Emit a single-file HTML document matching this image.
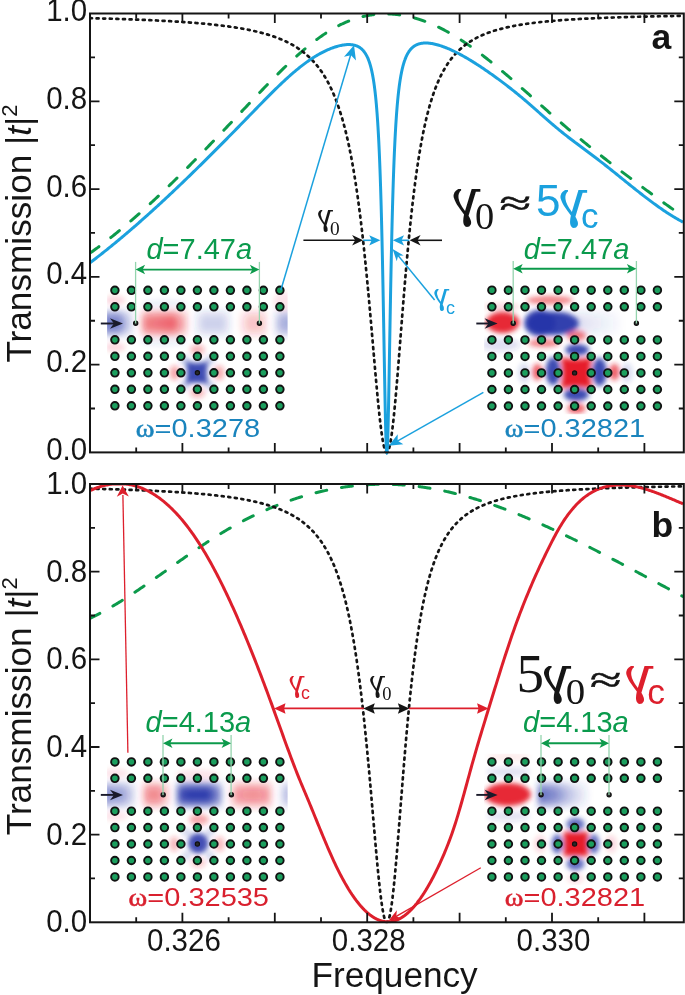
<!DOCTYPE html>
<html><head><meta charset="utf-8"><title>Transmission spectra</title>
<style>
html,body{margin:0;padding:0;background:#fff;}
svg{display:block;}
.tl{font-family:"Liberation Sans",Arial,sans-serif;font-size:29.5px;fill:#151515;}
.ax{font-family:"Liberation Sans",Arial,sans-serif;font-size:35.2px;fill:#151515;}
.pl{font-family:"Liberation Sans",Arial,sans-serif;font-weight:bold;font-size:35.5px;fill:#151515;}
.sf{font-family:"Liberation Serif","Times New Roman",serif;}
.ss{font-family:"Liberation Sans",Arial,sans-serif;}
.gl{font-family:"Liberation Sans",Arial,sans-serif;fill:#0a9a4c;}
.om{font-family:"Liberation Sans",Arial,sans-serif;}
.gm{font-family:"DejaVu Serif",serif;}
.rod circle{fill:#1b9f5e;stroke:#121212;stroke-width:1.9;}
.sd{fill:#2a2a2a;stroke:#101010;stroke-width:1.2;}
</style></head>
<body>
<svg width="685" height="995" viewBox="0 0 685 995">
<defs>
<filter id="bl" x="-20%" y="-20%" width="140%" height="140%"><feGaussianBlur stdDeviation="3.2"/></filter>
<clipPath id="cpa"><rect x="90" y="13.5" width="593.8" height="441.5"/></clipPath>
<clipPath id="cpb"><rect x="90" y="484" width="593.8" height="439.2"/></clipPath>
</defs>
<rect width="685" height="995" fill="#fff"/>

<!-- insets -->
<clipPath id="cal"><rect x="107.1" y="282.1" width="180.5" height="132.0"/></clipPath><filter id="fal" x="-30%" y="-30%" width="160%" height="160%"><feGaussianBlur stdDeviation="2.40"/></filter><g clip-path="url(#cal)"><g filter="url(#fal)"><linearGradient id="gal241" gradientUnits="userSpaceOnUse" x1="101.7" y1="0" x2="296.4" y2="0"><stop offset="0.0000" stop-color="rgb(40,55,170)" stop-opacity="0.650"/><stop offset="0.0847" stop-color="rgb(40,55,170)" stop-opacity="0.650"/><stop offset="0.1356" stop-color="rgb(40,55,170)" stop-opacity="0.260"/><stop offset="0.1780" stop-color="rgb(40,55,170)" stop-opacity="0.000"/><stop offset="0.1864" stop-color="rgb(230,30,42)" stop-opacity="0.000"/><stop offset="0.2288" stop-color="rgb(230,30,42)" stop-opacity="0.585"/><stop offset="0.3644" stop-color="rgb(230,30,42)" stop-opacity="0.715"/><stop offset="0.4322" stop-color="rgb(230,30,42)" stop-opacity="0.260"/><stop offset="0.4534" stop-color="rgb(230,30,42)" stop-opacity="0.000"/><stop offset="0.4619" stop-color="rgb(40,55,170)" stop-opacity="0.000"/><stop offset="0.5254" stop-color="rgb(40,55,170)" stop-opacity="0.234"/><stop offset="0.6186" stop-color="rgb(40,55,170)" stop-opacity="0.234"/><stop offset="0.6780" stop-color="rgb(40,55,170)" stop-opacity="0.000"/><stop offset="0.6949" stop-color="rgb(230,30,42)" stop-opacity="0.000"/><stop offset="0.7627" stop-color="rgb(230,30,42)" stop-opacity="0.286"/><stop offset="0.8220" stop-color="rgb(230,30,42)" stop-opacity="0.260"/><stop offset="0.8602" stop-color="rgb(230,30,42)" stop-opacity="0.000"/><stop offset="0.8729" stop-color="rgb(40,55,170)" stop-opacity="0.000"/><stop offset="0.9237" stop-color="rgb(40,55,170)" stop-opacity="0.390"/><stop offset="1.0000" stop-color="rgb(40,55,170)" stop-opacity="0.455"/></linearGradient><linearGradient id="vgal241" gradientUnits="userSpaceOnUse" x1="0" y1="307.6" x2="0" y2="339.0"><stop offset="0.000" stop-color="#fff" stop-opacity="0.000"/><stop offset="0.150" stop-color="#fff" stop-opacity="0.450"/><stop offset="0.300" stop-color="#fff" stop-opacity="0.850"/><stop offset="0.500" stop-color="#fff" stop-opacity="1.000"/><stop offset="0.700" stop-color="#fff" stop-opacity="0.850"/><stop offset="0.850" stop-color="#fff" stop-opacity="0.450"/><stop offset="1.000" stop-color="#fff" stop-opacity="0.000"/></linearGradient><mask id="mgal241" maskUnits="userSpaceOnUse" x="101.7" y="307.6" width="194.7" height="31.4"><rect x="101.7" y="307.6" width="194.7" height="31.4" fill="url(#vgal241)"/></mask><rect x="101.7" y="307.6" width="194.7" height="31.4" fill="url(#gal241)" mask="url(#mgal241)"/><ellipse cx="114.9" cy="300.2" rx="10.7" ry="4.6" fill="rgba(230,30,42,0.150)"/><ellipse cx="114.9" cy="347.2" rx="10.7" ry="4.6" fill="rgba(230,30,42,0.150)"/><ellipse cx="163.6" cy="304.3" rx="23.1" ry="5.0" fill="rgba(40,55,170,0.070)"/><ellipse cx="163.6" cy="341.4" rx="23.1" ry="5.0" fill="rgba(40,55,170,0.070)"/><ellipse cx="283.2" cy="301.9" rx="9.9" ry="9.9" fill="rgba(230,30,42,0.100)"/><ellipse cx="174.6" cy="372.8" rx="5.0" ry="7.4" fill="rgba(230,30,42,0.380)"/><ellipse cx="219.2" cy="372.8" rx="5.0" ry="7.4" fill="rgba(230,30,42,0.360)"/><ellipse cx="197.4" cy="349.7" rx="7.4" ry="5.0" fill="rgba(230,30,42,0.320)"/><ellipse cx="197.4" cy="392.9" rx="7.4" ry="5.0" fill="rgba(230,30,42,0.320)"/><ellipse cx="185.0" cy="360.4" rx="5.0" ry="5.0" fill="rgba(40,55,170,0.220)"/><ellipse cx="209.8" cy="360.4" rx="5.0" ry="5.0" fill="rgba(40,55,170,0.220)"/><ellipse cx="185.0" cy="385.2" rx="5.0" ry="5.0" fill="rgba(40,55,170,0.220)"/><ellipse cx="209.8" cy="385.2" rx="5.0" ry="5.0" fill="rgba(40,55,170,0.220)"/><path d="M185.7,361.6Q196.9,364.2 208.1,361.6Q205.5,372.8 208.1,384.0Q196.9,381.4 185.7,384.0Q188.3,372.8 185.7,361.6Z" fill="rgba(40,55,170,0.900)"/></g></g><g class="rod"><circle cx="114.9" cy="290.3" r="3.78"/><circle cx="131.4" cy="290.3" r="3.78"/><circle cx="147.9" cy="290.3" r="3.78"/><circle cx="164.4" cy="290.3" r="3.78"/><circle cx="180.9" cy="290.3" r="3.78"/><circle cx="197.4" cy="290.3" r="3.78"/><circle cx="213.9" cy="290.3" r="3.78"/><circle cx="230.4" cy="290.3" r="3.78"/><circle cx="246.9" cy="290.3" r="3.78"/><circle cx="263.4" cy="290.3" r="3.78"/><circle cx="279.9" cy="290.3" r="3.78"/><circle cx="114.9" cy="306.8" r="3.78"/><circle cx="131.4" cy="306.8" r="3.78"/><circle cx="147.9" cy="306.8" r="3.78"/><circle cx="164.4" cy="306.8" r="3.78"/><circle cx="180.9" cy="306.8" r="3.78"/><circle cx="197.4" cy="306.8" r="3.78"/><circle cx="213.9" cy="306.8" r="3.78"/><circle cx="230.4" cy="306.8" r="3.78"/><circle cx="246.9" cy="306.8" r="3.78"/><circle cx="263.4" cy="306.8" r="3.78"/><circle cx="279.9" cy="306.8" r="3.78"/><circle cx="114.9" cy="339.8" r="3.78"/><circle cx="131.4" cy="339.8" r="3.78"/><circle cx="147.9" cy="339.8" r="3.78"/><circle cx="164.4" cy="339.8" r="3.78"/><circle cx="180.9" cy="339.8" r="3.78"/><circle cx="197.4" cy="339.8" r="3.78"/><circle cx="213.9" cy="339.8" r="3.78"/><circle cx="230.4" cy="339.8" r="3.78"/><circle cx="246.9" cy="339.8" r="3.78"/><circle cx="263.4" cy="339.8" r="3.78"/><circle cx="279.9" cy="339.8" r="3.78"/><circle cx="114.9" cy="356.3" r="3.78"/><circle cx="131.4" cy="356.3" r="3.78"/><circle cx="147.9" cy="356.3" r="3.78"/><circle cx="164.4" cy="356.3" r="3.78"/><circle cx="180.9" cy="356.3" r="3.78"/><circle cx="197.4" cy="356.3" r="3.78"/><circle cx="213.9" cy="356.3" r="3.78"/><circle cx="230.4" cy="356.3" r="3.78"/><circle cx="246.9" cy="356.3" r="3.78"/><circle cx="263.4" cy="356.3" r="3.78"/><circle cx="279.9" cy="356.3" r="3.78"/><circle cx="114.9" cy="372.8" r="3.78"/><circle cx="131.4" cy="372.8" r="3.78"/><circle cx="147.9" cy="372.8" r="3.78"/><circle cx="164.4" cy="372.8" r="3.78"/><circle cx="180.9" cy="372.8" r="3.78"/><circle cx="213.9" cy="372.8" r="3.78"/><circle cx="230.4" cy="372.8" r="3.78"/><circle cx="246.9" cy="372.8" r="3.78"/><circle cx="263.4" cy="372.8" r="3.78"/><circle cx="279.9" cy="372.8" r="3.78"/><circle cx="114.9" cy="389.3" r="3.78"/><circle cx="131.4" cy="389.3" r="3.78"/><circle cx="147.9" cy="389.3" r="3.78"/><circle cx="164.4" cy="389.3" r="3.78"/><circle cx="180.9" cy="389.3" r="3.78"/><circle cx="197.4" cy="389.3" r="3.78"/><circle cx="213.9" cy="389.3" r="3.78"/><circle cx="230.4" cy="389.3" r="3.78"/><circle cx="246.9" cy="389.3" r="3.78"/><circle cx="263.4" cy="389.3" r="3.78"/><circle cx="279.9" cy="389.3" r="3.78"/><circle cx="114.9" cy="405.8" r="3.78"/><circle cx="131.4" cy="405.8" r="3.78"/><circle cx="147.9" cy="405.8" r="3.78"/><circle cx="164.4" cy="405.8" r="3.78"/><circle cx="180.9" cy="405.8" r="3.78"/><circle cx="197.4" cy="405.8" r="3.78"/><circle cx="213.9" cy="405.8" r="3.78"/><circle cx="230.4" cy="405.8" r="3.78"/><circle cx="246.9" cy="405.8" r="3.78"/><circle cx="263.4" cy="405.8" r="3.78"/><circle cx="279.9" cy="405.8" r="3.78"/></g><circle cx="135.7" cy="323.3" r="2.1" class="sd"/><circle cx="259.4" cy="323.3" r="2.1" class="sd"/><circle cx="197.4" cy="372.8" r="2.1" class="sd"/><clipPath id="car"><rect x="484.1" y="281.9" width="181.1" height="132.4"/></clipPath><filter id="far" x="-30%" y="-30%" width="160%" height="160%"><feGaussianBlur stdDeviation="2.40"/></filter><g clip-path="url(#car)"><g filter="url(#far)"><ellipse cx="502.7" cy="322.5" rx="16.6" ry="10.6" fill="rgba(230,30,42,0.950)"/><ellipse cx="553.1" cy="323.3" rx="25.7" ry="11.9" fill="rgba(40,55,170,0.950)"/><ellipse cx="539.9" cy="323.0" rx="15.7" ry="13.2" fill="rgba(40,55,170,0.950)"/><linearGradient id="gar484" gradientUnits="userSpaceOnUse" x1="568.0" y1="0" x2="624.3" y2="0"><stop offset="0.0000" stop-color="rgb(40,55,170)" stop-opacity="0.000"/><stop offset="0.2059" stop-color="rgb(40,55,170)" stop-opacity="0.156"/><stop offset="0.7059" stop-color="rgb(40,55,170)" stop-opacity="0.065"/><stop offset="1.0000" stop-color="rgb(40,55,170)" stop-opacity="0.000"/></linearGradient><linearGradient id="vgar484" gradientUnits="userSpaceOnUse" x1="0" y1="307.6" x2="0" y2="339.0"><stop offset="0.000" stop-color="#fff" stop-opacity="0.000"/><stop offset="0.150" stop-color="#fff" stop-opacity="0.450"/><stop offset="0.300" stop-color="#fff" stop-opacity="0.850"/><stop offset="0.500" stop-color="#fff" stop-opacity="1.000"/><stop offset="0.700" stop-color="#fff" stop-opacity="0.850"/><stop offset="0.850" stop-color="#fff" stop-opacity="0.450"/><stop offset="1.000" stop-color="#fff" stop-opacity="0.000"/></linearGradient><mask id="mgar484" maskUnits="userSpaceOnUse" x="568.0" y="307.6" width="56.3" height="31.4"><rect x="568.0" y="307.6" width="56.3" height="31.4" fill="url(#vgar484)"/></mask><rect x="568.0" y="307.6" width="56.3" height="31.4" fill="url(#gar484)" mask="url(#mgar484)"/><ellipse cx="501.8" cy="306.8" rx="18.2" ry="4.1" fill="rgba(230,30,42,0.150)"/><ellipse cx="500.2" cy="344.8" rx="19.9" ry="6.6" fill="rgba(40,55,170,0.150)"/><ellipse cx="549.8" cy="300.1" rx="23.2" ry="4.3" fill="rgba(230,30,42,0.550)"/><ellipse cx="544.0" cy="343.2" rx="15.7" ry="4.1" fill="rgba(230,30,42,0.550)"/><ellipse cx="576.3" cy="335.7" rx="9.9" ry="5.0" fill="rgba(230,30,42,0.600)"/><ellipse cx="537.4" cy="372.1" rx="5.0" ry="8.3" fill="rgba(230,30,42,0.700)"/><ellipse cx="614.4" cy="372.1" rx="5.0" ry="8.3" fill="rgba(230,30,42,0.700)"/><ellipse cx="576.3" cy="408.5" rx="9.1" ry="5.0" fill="rgba(230,30,42,0.700)"/><ellipse cx="553.1" cy="371.3" rx="7.4" ry="14.1" fill="rgba(40,55,170,0.900)"/><ellipse cx="599.5" cy="372.1" rx="7.4" ry="14.1" fill="rgba(40,55,170,0.900)"/><ellipse cx="577.1" cy="349.8" rx="11.9" ry="5.8" fill="rgba(40,55,170,0.900)"/><ellipse cx="576.3" cy="394.5" rx="12.4" ry="6.6" fill="rgba(40,55,170,0.900)"/><ellipse cx="524.2" cy="372.9" rx="5.8" ry="9.9" fill="rgba(40,55,170,0.180)"/><ellipse cx="626.8" cy="372.9" rx="5.8" ry="9.9" fill="rgba(40,55,170,0.180)"/><path d="M560.6,357.2Q576.3,361.4 592.0,357.2Q587.9,372.9 592.0,388.7Q576.3,384.5 560.6,388.7Q564.7,372.9 560.6,357.2Z" fill="rgba(230,30,42,1.000)"/></g></g><g class="rod"><circle cx="491.9" cy="290.2" r="3.78"/><circle cx="508.4" cy="290.2" r="3.78"/><circle cx="525.0" cy="290.2" r="3.78"/><circle cx="541.5" cy="290.2" r="3.78"/><circle cx="558.1" cy="290.2" r="3.78"/><circle cx="574.6" cy="290.2" r="3.78"/><circle cx="591.2" cy="290.2" r="3.78"/><circle cx="607.8" cy="290.2" r="3.78"/><circle cx="624.3" cy="290.2" r="3.78"/><circle cx="640.9" cy="290.2" r="3.78"/><circle cx="657.4" cy="290.2" r="3.78"/><circle cx="491.9" cy="306.8" r="3.78"/><circle cx="508.4" cy="306.8" r="3.78"/><circle cx="525.0" cy="306.8" r="3.78"/><circle cx="541.5" cy="306.8" r="3.78"/><circle cx="558.1" cy="306.8" r="3.78"/><circle cx="574.6" cy="306.8" r="3.78"/><circle cx="591.2" cy="306.8" r="3.78"/><circle cx="607.8" cy="306.8" r="3.78"/><circle cx="624.3" cy="306.8" r="3.78"/><circle cx="640.9" cy="306.8" r="3.78"/><circle cx="657.4" cy="306.8" r="3.78"/><circle cx="491.9" cy="339.9" r="3.78"/><circle cx="508.4" cy="339.9" r="3.78"/><circle cx="525.0" cy="339.9" r="3.78"/><circle cx="541.5" cy="339.9" r="3.78"/><circle cx="558.1" cy="339.9" r="3.78"/><circle cx="574.6" cy="339.9" r="3.78"/><circle cx="591.2" cy="339.9" r="3.78"/><circle cx="607.8" cy="339.9" r="3.78"/><circle cx="624.3" cy="339.9" r="3.78"/><circle cx="640.9" cy="339.9" r="3.78"/><circle cx="657.4" cy="339.9" r="3.78"/><circle cx="491.9" cy="356.4" r="3.78"/><circle cx="508.4" cy="356.4" r="3.78"/><circle cx="525.0" cy="356.4" r="3.78"/><circle cx="541.5" cy="356.4" r="3.78"/><circle cx="558.1" cy="356.4" r="3.78"/><circle cx="574.6" cy="356.4" r="3.78"/><circle cx="591.2" cy="356.4" r="3.78"/><circle cx="607.8" cy="356.4" r="3.78"/><circle cx="624.3" cy="356.4" r="3.78"/><circle cx="640.9" cy="356.4" r="3.78"/><circle cx="657.4" cy="356.4" r="3.78"/><circle cx="491.9" cy="372.9" r="3.78"/><circle cx="508.4" cy="372.9" r="3.78"/><circle cx="525.0" cy="372.9" r="3.78"/><circle cx="541.5" cy="372.9" r="3.78"/><circle cx="558.1" cy="372.9" r="3.78"/><circle cx="591.2" cy="372.9" r="3.78"/><circle cx="607.8" cy="372.9" r="3.78"/><circle cx="624.3" cy="372.9" r="3.78"/><circle cx="640.9" cy="372.9" r="3.78"/><circle cx="657.4" cy="372.9" r="3.78"/><circle cx="491.9" cy="389.5" r="3.78"/><circle cx="508.4" cy="389.5" r="3.78"/><circle cx="525.0" cy="389.5" r="3.78"/><circle cx="541.5" cy="389.5" r="3.78"/><circle cx="558.1" cy="389.5" r="3.78"/><circle cx="574.6" cy="389.5" r="3.78"/><circle cx="591.2" cy="389.5" r="3.78"/><circle cx="607.8" cy="389.5" r="3.78"/><circle cx="624.3" cy="389.5" r="3.78"/><circle cx="640.9" cy="389.5" r="3.78"/><circle cx="657.4" cy="389.5" r="3.78"/><circle cx="491.9" cy="406.1" r="3.78"/><circle cx="508.4" cy="406.1" r="3.78"/><circle cx="525.0" cy="406.1" r="3.78"/><circle cx="541.5" cy="406.1" r="3.78"/><circle cx="558.1" cy="406.1" r="3.78"/><circle cx="574.6" cy="406.1" r="3.78"/><circle cx="591.2" cy="406.1" r="3.78"/><circle cx="607.8" cy="406.1" r="3.78"/><circle cx="624.3" cy="406.1" r="3.78"/><circle cx="640.9" cy="406.1" r="3.78"/><circle cx="657.4" cy="406.1" r="3.78"/></g><circle cx="513.2" cy="323.3" r="2.1" class="sd"/><circle cx="636.4" cy="323.3" r="2.1" class="sd"/><circle cx="574.6" cy="372.9" r="2.1" class="sd"/><clipPath id="cbl"><rect x="107.1" y="753.7" width="180.5" height="131.4"/></clipPath><filter id="fbl" x="-30%" y="-30%" width="160%" height="160%"><feGaussianBlur stdDeviation="2.40"/></filter><g clip-path="url(#cbl)"><g filter="url(#fbl)"><linearGradient id="gbl241" gradientUnits="userSpaceOnUse" x1="101.7" y1="0" x2="296.4" y2="0"><stop offset="0.0000" stop-color="rgb(40,55,170)" stop-opacity="0.546"/><stop offset="0.1102" stop-color="rgb(40,55,170)" stop-opacity="0.455"/><stop offset="0.1695" stop-color="rgb(40,55,170)" stop-opacity="0.130"/><stop offset="0.1864" stop-color="rgb(40,55,170)" stop-opacity="0.000"/><stop offset="0.1949" stop-color="rgb(230,30,42)" stop-opacity="0.000"/><stop offset="0.2373" stop-color="rgb(230,30,42)" stop-opacity="0.520"/><stop offset="0.2881" stop-color="rgb(230,30,42)" stop-opacity="0.546"/><stop offset="0.3305" stop-color="rgb(230,30,42)" stop-opacity="0.260"/><stop offset="0.3602" stop-color="rgb(230,30,42)" stop-opacity="0.000"/><stop offset="0.3686" stop-color="rgb(40,55,170)" stop-opacity="0.000"/><stop offset="0.4068" stop-color="rgb(40,55,170)" stop-opacity="0.910"/><stop offset="0.4492" stop-color="rgb(40,55,170)" stop-opacity="1.000"/><stop offset="0.5424" stop-color="rgb(40,55,170)" stop-opacity="1.000"/><stop offset="0.5932" stop-color="rgb(40,55,170)" stop-opacity="0.650"/><stop offset="0.6356" stop-color="rgb(40,55,170)" stop-opacity="0.000"/><stop offset="0.6483" stop-color="rgb(230,30,42)" stop-opacity="0.000"/><stop offset="0.6949" stop-color="rgb(230,30,42)" stop-opacity="0.455"/><stop offset="0.7797" stop-color="rgb(230,30,42)" stop-opacity="0.520"/><stop offset="0.8475" stop-color="rgb(230,30,42)" stop-opacity="0.455"/><stop offset="0.8898" stop-color="rgb(230,30,42)" stop-opacity="0.000"/><stop offset="0.9025" stop-color="rgb(40,55,170)" stop-opacity="0.000"/><stop offset="0.9492" stop-color="rgb(40,55,170)" stop-opacity="0.325"/><stop offset="1.0000" stop-color="rgb(40,55,170)" stop-opacity="0.325"/></linearGradient><linearGradient id="vgbl241" gradientUnits="userSpaceOnUse" x1="0" y1="779.2" x2="0" y2="810.4"><stop offset="0.000" stop-color="#fff" stop-opacity="0.000"/><stop offset="0.150" stop-color="#fff" stop-opacity="0.450"/><stop offset="0.300" stop-color="#fff" stop-opacity="0.850"/><stop offset="0.500" stop-color="#fff" stop-opacity="1.000"/><stop offset="0.700" stop-color="#fff" stop-opacity="0.850"/><stop offset="0.850" stop-color="#fff" stop-opacity="0.450"/><stop offset="1.000" stop-color="#fff" stop-opacity="0.000"/></linearGradient><mask id="mgbl241" maskUnits="userSpaceOnUse" x="101.7" y="779.2" width="194.7" height="31.2"><rect x="101.7" y="779.2" width="194.7" height="31.2" fill="url(#vgbl241)"/></mask><rect x="101.7" y="779.2" width="194.7" height="31.2" fill="url(#gbl241)" mask="url(#mgbl241)"/><ellipse cx="114.9" cy="773.4" rx="13.2" ry="4.9" fill="rgba(230,30,42,0.100)"/><ellipse cx="114.9" cy="816.1" rx="13.2" ry="4.9" fill="rgba(230,30,42,0.100)"/><ellipse cx="197.4" cy="775.0" rx="21.4" ry="5.8" fill="rgba(230,30,42,0.100)"/><ellipse cx="199.1" cy="819.4" rx="9.9" ry="5.3" fill="rgba(230,30,42,0.380)"/><ellipse cx="174.3" cy="844.0" rx="5.0" ry="7.4" fill="rgba(230,30,42,0.300)"/><ellipse cx="219.7" cy="844.0" rx="5.0" ry="7.4" fill="rgba(230,30,42,0.300)"/><ellipse cx="198.2" cy="862.9" rx="7.4" ry="4.9" fill="rgba(230,30,42,0.250)"/><ellipse cx="186.7" cy="832.5" rx="4.6" ry="4.6" fill="rgba(40,55,170,0.200)"/><ellipse cx="209.8" cy="832.5" rx="4.6" ry="4.6" fill="rgba(40,55,170,0.200)"/><ellipse cx="186.7" cy="855.6" rx="4.6" ry="4.6" fill="rgba(40,55,170,0.200)"/><ellipse cx="209.8" cy="855.6" rx="4.6" ry="4.6" fill="rgba(40,55,170,0.200)"/><ellipse cx="198.2" cy="843.2" rx="10.2" ry="10.2" fill="rgba(40,55,170,0.880)"/></g></g><g class="rod"><circle cx="114.9" cy="761.9" r="3.78"/><circle cx="131.4" cy="761.9" r="3.78"/><circle cx="147.9" cy="761.9" r="3.78"/><circle cx="164.4" cy="761.9" r="3.78"/><circle cx="180.9" cy="761.9" r="3.78"/><circle cx="197.4" cy="761.9" r="3.78"/><circle cx="213.9" cy="761.9" r="3.78"/><circle cx="230.4" cy="761.9" r="3.78"/><circle cx="246.9" cy="761.9" r="3.78"/><circle cx="263.4" cy="761.9" r="3.78"/><circle cx="279.9" cy="761.9" r="3.78"/><circle cx="114.9" cy="778.3" r="3.78"/><circle cx="131.4" cy="778.3" r="3.78"/><circle cx="147.9" cy="778.3" r="3.78"/><circle cx="164.4" cy="778.3" r="3.78"/><circle cx="180.9" cy="778.3" r="3.78"/><circle cx="197.4" cy="778.3" r="3.78"/><circle cx="213.9" cy="778.3" r="3.78"/><circle cx="230.4" cy="778.3" r="3.78"/><circle cx="246.9" cy="778.3" r="3.78"/><circle cx="263.4" cy="778.3" r="3.78"/><circle cx="279.9" cy="778.3" r="3.78"/><circle cx="114.9" cy="811.2" r="3.78"/><circle cx="131.4" cy="811.2" r="3.78"/><circle cx="147.9" cy="811.2" r="3.78"/><circle cx="164.4" cy="811.2" r="3.78"/><circle cx="180.9" cy="811.2" r="3.78"/><circle cx="197.4" cy="811.2" r="3.78"/><circle cx="213.9" cy="811.2" r="3.78"/><circle cx="230.4" cy="811.2" r="3.78"/><circle cx="246.9" cy="811.2" r="3.78"/><circle cx="263.4" cy="811.2" r="3.78"/><circle cx="279.9" cy="811.2" r="3.78"/><circle cx="114.9" cy="827.6" r="3.78"/><circle cx="131.4" cy="827.6" r="3.78"/><circle cx="147.9" cy="827.6" r="3.78"/><circle cx="164.4" cy="827.6" r="3.78"/><circle cx="180.9" cy="827.6" r="3.78"/><circle cx="197.4" cy="827.6" r="3.78"/><circle cx="213.9" cy="827.6" r="3.78"/><circle cx="230.4" cy="827.6" r="3.78"/><circle cx="246.9" cy="827.6" r="3.78"/><circle cx="263.4" cy="827.6" r="3.78"/><circle cx="279.9" cy="827.6" r="3.78"/><circle cx="114.9" cy="844.0" r="3.78"/><circle cx="131.4" cy="844.0" r="3.78"/><circle cx="147.9" cy="844.0" r="3.78"/><circle cx="164.4" cy="844.0" r="3.78"/><circle cx="180.9" cy="844.0" r="3.78"/><circle cx="213.9" cy="844.0" r="3.78"/><circle cx="230.4" cy="844.0" r="3.78"/><circle cx="246.9" cy="844.0" r="3.78"/><circle cx="263.4" cy="844.0" r="3.78"/><circle cx="279.9" cy="844.0" r="3.78"/><circle cx="114.9" cy="860.5" r="3.78"/><circle cx="131.4" cy="860.5" r="3.78"/><circle cx="147.9" cy="860.5" r="3.78"/><circle cx="164.4" cy="860.5" r="3.78"/><circle cx="180.9" cy="860.5" r="3.78"/><circle cx="197.4" cy="860.5" r="3.78"/><circle cx="213.9" cy="860.5" r="3.78"/><circle cx="230.4" cy="860.5" r="3.78"/><circle cx="246.9" cy="860.5" r="3.78"/><circle cx="263.4" cy="860.5" r="3.78"/><circle cx="279.9" cy="860.5" r="3.78"/><circle cx="114.9" cy="876.9" r="3.78"/><circle cx="131.4" cy="876.9" r="3.78"/><circle cx="147.9" cy="876.9" r="3.78"/><circle cx="164.4" cy="876.9" r="3.78"/><circle cx="180.9" cy="876.9" r="3.78"/><circle cx="197.4" cy="876.9" r="3.78"/><circle cx="213.9" cy="876.9" r="3.78"/><circle cx="230.4" cy="876.9" r="3.78"/><circle cx="246.9" cy="876.9" r="3.78"/><circle cx="263.4" cy="876.9" r="3.78"/><circle cx="279.9" cy="876.9" r="3.78"/></g><circle cx="163.2" cy="794.8" r="2.1" class="sd"/><circle cx="231.4" cy="794.8" r="2.1" class="sd"/><circle cx="197.4" cy="844.0" r="2.1" class="sd"/><clipPath id="cbr"><rect x="484.1" y="753.7" width="181.1" height="131.4"/></clipPath><filter id="fbr" x="-30%" y="-30%" width="160%" height="160%"><feGaussianBlur stdDeviation="2.40"/></filter><g clip-path="url(#cbr)"><g filter="url(#fbr)"><ellipse cx="507.6" cy="794.4" rx="23.2" ry="11.5" fill="rgba(230,30,42,0.950)"/><linearGradient id="gbr322" gradientUnits="userSpaceOnUse" x1="534.9" y1="0" x2="591.2" y2="0"><stop offset="0.0000" stop-color="rgb(40,55,170)" stop-opacity="0.000"/><stop offset="0.1029" stop-color="rgb(40,55,170)" stop-opacity="0.715"/><stop offset="0.3529" stop-color="rgb(40,55,170)" stop-opacity="0.585"/><stop offset="0.6471" stop-color="rgb(40,55,170)" stop-opacity="0.260"/><stop offset="1.0000" stop-color="rgb(40,55,170)" stop-opacity="0.000"/></linearGradient><linearGradient id="vgbr322" gradientUnits="userSpaceOnUse" x1="0" y1="779.2" x2="0" y2="810.4"><stop offset="0.000" stop-color="#fff" stop-opacity="0.000"/><stop offset="0.150" stop-color="#fff" stop-opacity="0.450"/><stop offset="0.300" stop-color="#fff" stop-opacity="0.850"/><stop offset="0.500" stop-color="#fff" stop-opacity="1.000"/><stop offset="0.700" stop-color="#fff" stop-opacity="0.850"/><stop offset="0.850" stop-color="#fff" stop-opacity="0.450"/><stop offset="1.000" stop-color="#fff" stop-opacity="0.000"/></linearGradient><mask id="mgbr322" maskUnits="userSpaceOnUse" x="534.9" y="779.2" width="56.3" height="31.2"><rect x="534.9" y="779.2" width="56.3" height="31.2" fill="url(#vgbr322)"/></mask><rect x="534.9" y="779.2" width="56.3" height="31.2" fill="url(#gbr322)" mask="url(#mgbr322)"/><ellipse cx="508.4" cy="771.8" rx="21.5" ry="5.3" fill="rgba(40,55,170,0.130)"/><ellipse cx="508.4" cy="816.1" rx="21.5" ry="5.3" fill="rgba(40,55,170,0.130)"/><ellipse cx="508.4" cy="757.0" rx="21.5" ry="4.1" fill="rgba(230,30,42,0.070)"/><ellipse cx="557.3" cy="844.0" rx="5.8" ry="9.9" fill="rgba(40,55,170,0.720)"/><ellipse cx="593.7" cy="844.0" rx="5.8" ry="9.9" fill="rgba(40,55,170,0.720)"/><ellipse cx="575.5" cy="824.3" rx="9.1" ry="6.6" fill="rgba(40,55,170,0.720)"/><ellipse cx="575.5" cy="863.8" rx="9.1" ry="6.6" fill="rgba(40,55,170,0.720)"/><ellipse cx="539.9" cy="844.0" rx="5.8" ry="9.0" fill="rgba(230,30,42,0.150)"/><ellipse cx="611.1" cy="844.0" rx="5.8" ry="9.0" fill="rgba(230,30,42,0.150)"/><ellipse cx="575.5" cy="878.6" rx="8.3" ry="4.9" fill="rgba(230,30,42,0.120)"/><path d="M563.4,831.6Q575.8,833.6 588.2,831.6Q586.2,844.0 588.2,856.5Q575.8,854.5 563.4,856.5Q565.4,844.0 563.4,831.6Z" fill="rgba(230,30,42,1.000)"/></g></g><g class="rod"><circle cx="491.9" cy="761.9" r="3.78"/><circle cx="508.4" cy="761.9" r="3.78"/><circle cx="525.0" cy="761.9" r="3.78"/><circle cx="541.5" cy="761.9" r="3.78"/><circle cx="558.1" cy="761.9" r="3.78"/><circle cx="574.6" cy="761.9" r="3.78"/><circle cx="591.2" cy="761.9" r="3.78"/><circle cx="607.8" cy="761.9" r="3.78"/><circle cx="624.3" cy="761.9" r="3.78"/><circle cx="640.9" cy="761.9" r="3.78"/><circle cx="657.4" cy="761.9" r="3.78"/><circle cx="491.9" cy="778.3" r="3.78"/><circle cx="508.4" cy="778.3" r="3.78"/><circle cx="525.0" cy="778.3" r="3.78"/><circle cx="541.5" cy="778.3" r="3.78"/><circle cx="558.1" cy="778.3" r="3.78"/><circle cx="574.6" cy="778.3" r="3.78"/><circle cx="591.2" cy="778.3" r="3.78"/><circle cx="607.8" cy="778.3" r="3.78"/><circle cx="624.3" cy="778.3" r="3.78"/><circle cx="640.9" cy="778.3" r="3.78"/><circle cx="657.4" cy="778.3" r="3.78"/><circle cx="491.9" cy="811.2" r="3.78"/><circle cx="508.4" cy="811.2" r="3.78"/><circle cx="525.0" cy="811.2" r="3.78"/><circle cx="541.5" cy="811.2" r="3.78"/><circle cx="558.1" cy="811.2" r="3.78"/><circle cx="574.6" cy="811.2" r="3.78"/><circle cx="591.2" cy="811.2" r="3.78"/><circle cx="607.8" cy="811.2" r="3.78"/><circle cx="624.3" cy="811.2" r="3.78"/><circle cx="640.9" cy="811.2" r="3.78"/><circle cx="657.4" cy="811.2" r="3.78"/><circle cx="491.9" cy="827.6" r="3.78"/><circle cx="508.4" cy="827.6" r="3.78"/><circle cx="525.0" cy="827.6" r="3.78"/><circle cx="541.5" cy="827.6" r="3.78"/><circle cx="558.1" cy="827.6" r="3.78"/><circle cx="574.6" cy="827.6" r="3.78"/><circle cx="591.2" cy="827.6" r="3.78"/><circle cx="607.8" cy="827.6" r="3.78"/><circle cx="624.3" cy="827.6" r="3.78"/><circle cx="640.9" cy="827.6" r="3.78"/><circle cx="657.4" cy="827.6" r="3.78"/><circle cx="491.9" cy="844.0" r="3.78"/><circle cx="508.4" cy="844.0" r="3.78"/><circle cx="525.0" cy="844.0" r="3.78"/><circle cx="541.5" cy="844.0" r="3.78"/><circle cx="558.1" cy="844.0" r="3.78"/><circle cx="591.2" cy="844.0" r="3.78"/><circle cx="607.8" cy="844.0" r="3.78"/><circle cx="624.3" cy="844.0" r="3.78"/><circle cx="640.9" cy="844.0" r="3.78"/><circle cx="657.4" cy="844.0" r="3.78"/><circle cx="491.9" cy="860.5" r="3.78"/><circle cx="508.4" cy="860.5" r="3.78"/><circle cx="525.0" cy="860.5" r="3.78"/><circle cx="541.5" cy="860.5" r="3.78"/><circle cx="558.1" cy="860.5" r="3.78"/><circle cx="574.6" cy="860.5" r="3.78"/><circle cx="591.2" cy="860.5" r="3.78"/><circle cx="607.8" cy="860.5" r="3.78"/><circle cx="624.3" cy="860.5" r="3.78"/><circle cx="640.9" cy="860.5" r="3.78"/><circle cx="657.4" cy="860.5" r="3.78"/><circle cx="491.9" cy="876.9" r="3.78"/><circle cx="508.4" cy="876.9" r="3.78"/><circle cx="525.0" cy="876.9" r="3.78"/><circle cx="541.5" cy="876.9" r="3.78"/><circle cx="558.1" cy="876.9" r="3.78"/><circle cx="574.6" cy="876.9" r="3.78"/><circle cx="591.2" cy="876.9" r="3.78"/><circle cx="607.8" cy="876.9" r="3.78"/><circle cx="624.3" cy="876.9" r="3.78"/><circle cx="640.9" cy="876.9" r="3.78"/><circle cx="657.4" cy="876.9" r="3.78"/></g><circle cx="541.1" cy="794.8" r="2.1" class="sd"/><circle cx="609.1" cy="794.8" r="2.1" class="sd"/><circle cx="574.6" cy="844.0" r="2.1" class="sd"/>

<!-- curves panel a -->
<g clip-path="url(#cpa)" fill="none">
<path d="M90.00,253.11L91.00,252.40L92.00,251.69L93.00,250.98L94.00,250.26L95.00,249.54L96.00,248.82L97.00,248.09L98.00,247.35L99.00,246.61L100.00,245.87L101.00,245.12L102.00,244.37L103.00,243.61L104.00,242.85L105.00,242.09L106.00,241.32L107.00,240.55L108.00,239.77L109.00,238.99L110.00,238.20L111.00,237.41L112.00,236.62L113.00,235.82L114.00,235.02L115.00,234.22L116.00,233.41L117.00,232.60L118.00,231.78L119.00,230.96L120.00,230.14L121.00,229.31L122.00,228.48L123.00,227.65L124.00,226.81L125.00,225.97L126.00,225.12L127.00,224.28L128.00,223.42L129.00,222.57L130.00,221.71L131.00,220.85L132.00,219.98L133.00,219.11L134.00,218.24L135.00,217.37L136.00,216.49L137.00,215.61L138.00,214.72L139.00,213.83L140.00,212.94L141.00,212.05L142.00,211.15L143.00,210.25L144.00,209.35L145.00,208.44L146.00,207.53L147.00,206.62L148.00,205.70L149.00,204.79L150.00,203.87L151.00,202.94L152.00,202.02L153.00,201.09L154.00,200.16L155.00,199.22L156.00,198.28L157.00,197.34L158.00,196.40L159.00,195.46L160.00,194.51L161.00,193.56L162.00,192.61L163.00,191.65L164.00,190.70L165.00,189.74L166.00,188.78L167.00,187.81L168.00,186.85L169.00,185.88L170.00,184.91L171.00,183.93L172.00,182.96L173.00,181.98L174.00,181.00L175.00,180.02L176.00,179.04L177.00,178.05L178.00,177.07L179.00,176.08L180.00,175.08L181.00,174.09L182.00,173.10L183.00,172.10L184.00,171.10L185.00,170.10L186.00,169.10L187.00,168.09L188.00,167.09L189.00,166.08L190.00,165.07L191.00,164.06L192.00,163.05L193.00,162.04L194.00,161.02L195.00,160.01L196.00,158.99L197.00,157.97L198.00,156.95L199.00,155.93L200.00,154.90L201.00,153.88L202.00,152.85L203.00,151.82L204.00,150.80L205.00,149.77L206.00,148.74L207.00,147.70L208.00,146.67L209.00,145.64L210.00,144.60L211.00,143.57L212.00,142.53L213.00,141.49L214.00,140.45L215.00,139.41L216.00,138.37L217.00,137.33L218.00,136.29L219.00,135.25L220.00,134.20L221.00,133.16L222.00,132.11L223.00,131.07L224.00,130.02L225.00,128.97L226.00,127.93L227.00,126.88L228.00,125.83L229.00,124.78L230.00,123.73L231.00,122.68L232.00,121.63L233.00,120.58L234.00,119.53L235.00,118.48L236.00,117.43L237.00,116.38L238.00,115.33L239.00,114.27L240.00,113.22L241.00,112.17L242.00,111.12L243.00,110.07L244.00,109.01L245.00,107.96L246.00,106.91L247.00,105.86L248.00,104.81L249.00,103.75L250.00,102.70L251.00,101.65L252.00,100.60L253.00,99.55L254.00,98.50L255.00,97.45L256.00,96.40L257.00,95.35L258.00,94.31L259.00,93.26L260.00,92.22L261.00,91.18L262.00,90.14L263.00,89.10L264.00,88.06L265.00,87.03L266.00,85.99L267.00,84.96L268.00,83.93L269.00,82.91L270.00,81.89L271.00,80.87L272.00,79.85L273.00,78.84L274.00,77.83L275.00,76.82L276.00,75.82L277.00,74.82L278.00,73.82L279.00,72.83L280.00,71.84L281.00,70.86L282.00,69.88L283.00,68.90L284.00,67.93L285.00,66.96L286.00,66.00L287.00,65.05L288.00,64.10L289.00,63.15L290.00,62.21L291.00,61.28L292.00,60.35L293.00,59.42L294.00,58.50L295.00,57.59L296.00,56.69L297.00,55.79L298.00,54.90L299.00,54.01L300.00,53.13L301.00,52.26L302.00,51.39L303.00,50.53L304.00,49.68L305.00,48.84L306.00,48.00L307.00,47.17L308.00,46.35L309.00,45.54L310.00,44.73L311.00,43.94L312.00,43.15L313.00,42.37L314.00,41.59L315.00,40.83L316.00,40.08L317.00,39.33L318.00,38.59L319.00,37.87L320.00,37.15L321.00,36.44L322.00,35.74L323.00,35.05L324.00,34.37L325.00,33.71L326.00,33.05L327.00,32.40L328.00,31.76L329.00,31.13L330.00,30.51L331.00,29.91L332.00,29.31L333.00,28.73L334.00,28.16L335.00,27.59L336.00,27.04L337.00,26.50L338.00,25.98L339.00,25.46L340.00,24.96L341.00,24.47L342.00,23.99L343.00,23.52L344.00,23.06L345.00,22.62L346.00,22.18L346.85,21.82L346.95,21.78L347.00,21.76L347.05,21.74L347.15,21.70L347.25,21.66L347.35,21.62L347.45,21.58L347.55,21.53L347.65,21.49L347.75,21.45L347.85,21.41L347.95,21.37L348.00,21.35L348.05,21.33L348.15,21.29L348.25,21.25L348.35,21.21L348.45,21.17L348.55,21.13L348.65,21.09L348.75,21.05L348.85,21.01L348.95,20.97L349.00,20.95L349.05,20.93L349.15,20.89L349.25,20.85L349.35,20.81L349.45,20.78L349.55,20.74L349.65,20.70L349.75,20.66L349.85,20.62L349.95,20.58L350.00,20.56L350.05,20.54L350.15,20.51L350.25,20.47L350.35,20.43L350.45,20.39L350.55,20.36L350.65,20.32L350.75,20.28L350.85,20.24L350.95,20.21L351.00,20.19L351.05,20.17L351.15,20.13L351.25,20.10L351.35,20.06L351.45,20.02L351.55,19.99L351.65,19.95L351.75,19.91L351.85,19.88L351.95,19.84L352.00,19.82L352.05,19.80L352.15,19.77L352.25,19.73L352.35,19.70L352.45,19.66L352.55,19.63L352.65,19.59L352.75,19.56L352.85,19.52L352.95,19.49L353.00,19.47L353.05,19.45L353.15,19.42L353.25,19.38L353.35,19.35L353.45,19.31L353.55,19.28L353.65,19.24L353.75,19.21L353.85,19.18L353.95,19.14L354.00,19.13L354.05,19.11L354.15,19.08L354.25,19.04L354.35,19.01L354.45,18.98L354.55,18.94L354.65,18.91L354.75,18.88L354.85,18.84L354.95,18.81L355.00,18.79L355.05,18.78L355.15,18.75L355.25,18.71L355.35,18.68L355.45,18.65L355.55,18.62L355.65,18.59L355.75,18.55L355.85,18.52L355.95,18.49L356.00,18.47L356.05,18.46L356.15,18.43L356.25,18.40L356.35,18.37L356.45,18.33L356.55,18.30L356.65,18.27L356.75,18.24L356.85,18.21L356.95,18.18L357.00,18.17L357.05,18.15L357.15,18.12L357.25,18.09L357.35,18.06L357.45,18.03L357.55,18.00L357.65,17.97L357.75,17.94L357.85,17.91L357.95,17.88L358.00,17.87L358.05,17.85L358.15,17.82L358.25,17.80L358.35,17.77L358.45,17.74L358.55,17.71L358.65,17.68L358.75,17.65L358.85,17.62L358.95,17.60L359.00,17.58L359.05,17.57L359.15,17.54L359.25,17.51L359.35,17.48L359.45,17.46L359.55,17.43L359.65,17.40L359.75,17.37L359.85,17.35L359.95,17.32L360.00,17.31L360.05,17.29L360.15,17.26L360.25,17.24L360.35,17.21L360.45,17.18L360.55,17.16L360.65,17.13L360.75,17.11L360.85,17.08L360.95,17.05L361.00,17.04L361.05,17.03L361.15,17.00L361.25,16.98L361.35,16.95L361.45,16.93L361.55,16.90L361.65,16.87L361.75,16.85L361.85,16.82L361.95,16.80L362.00,16.79L362.05,16.77L362.15,16.75L362.25,16.73L362.35,16.70L362.45,16.68L362.55,16.65L362.65,16.63L362.75,16.60L362.85,16.58L362.95,16.56L363.00,16.54L363.05,16.53L363.15,16.51L363.25,16.49L363.35,16.46L363.45,16.44L363.55,16.42L363.65,16.39L363.75,16.37L363.85,16.35L363.95,16.32L364.00,16.31L364.05,16.30L364.15,16.28L364.25,16.26L364.35,16.23L364.45,16.21L364.55,16.19L364.65,16.17L364.75,16.15L364.85,16.12L364.95,16.10L365.00,16.09L365.05,16.08L365.15,16.06L365.25,16.04L365.35,16.02L365.45,16.00L365.55,15.97L365.65,15.95L365.75,15.93L365.85,15.91L365.95,15.89L366.00,15.88L366.05,15.87L366.15,15.85L366.25,15.83L366.35,15.81L366.45,15.79L366.55,15.77L366.65,15.75L366.75,15.73L366.85,15.71L366.95,15.69L367.00,15.68L367.05,15.67L367.15,15.65L367.25,15.63L367.35,15.61L367.45,15.60L367.55,15.58L367.65,15.56L367.75,15.54L367.85,15.52L367.95,15.50L368.00,15.49L368.05,15.48L368.15,15.47L368.25,15.45L368.35,15.43L368.45,15.41L368.55,15.39L368.65,15.38L368.75,15.36L368.85,15.34L368.95,15.32L369.00,15.31L369.05,15.31L369.15,15.29L369.25,15.27L369.35,15.26L369.45,15.24L369.55,15.22L369.65,15.21L369.75,15.19L369.85,15.17L369.95,15.16L370.00,15.15L370.05,15.14L370.15,15.12L370.25,15.11L370.35,15.09L370.45,15.08L370.55,15.06L370.65,15.04L370.75,15.03L370.85,15.01L370.95,15.00L371.00,14.99L371.05,14.98L371.15,14.97L371.25,14.95L371.35,14.94L371.45,14.92L371.55,14.91L371.65,14.90L371.75,14.88L371.85,14.87L371.95,14.85L372.00,14.85L372.05,14.84L372.15,14.82L372.25,14.81L372.35,14.80L372.45,14.78L372.55,14.77L372.65,14.76L372.75,14.74L372.85,14.73L372.95,14.72L373.00,14.71L373.05,14.70L373.15,14.69L373.25,14.68L373.35,14.67L373.45,14.65L373.55,14.64L373.65,14.63L373.75,14.62L373.85,14.60L373.95,14.59L374.00,14.59L374.05,14.58L374.15,14.57L374.25,14.56L374.35,14.54L374.45,14.53L374.55,14.52L374.65,14.51L374.75,14.50L374.85,14.49L374.95,14.48L375.00,14.47L375.05,14.47L375.15,14.45L375.25,14.44L375.35,14.43L375.45,14.42L375.55,14.41L375.65,14.40L375.75,14.39L375.85,14.38L375.95,14.37L376.00,14.37L376.05,14.36L376.15,14.35L376.25,14.34L376.35,14.33L376.45,14.32L376.55,14.31L376.65,14.31L376.75,14.30L376.85,14.29L376.95,14.28L377.00,14.27L377.05,14.27L377.15,14.26L377.25,14.25L377.35,14.24L377.45,14.23L377.55,14.23L377.65,14.22L377.75,14.21L377.85,14.20L377.95,14.19L378.00,14.19L378.05,14.19L378.15,14.18L378.25,14.17L378.35,14.16L378.45,14.16L378.55,14.15L378.65,14.14L378.75,14.14L378.85,14.13L378.95,14.12L379.00,14.12L379.05,14.11L379.15,14.11L379.25,14.10L379.35,14.10L379.45,14.09L379.55,14.08L379.65,14.08L379.75,14.07L379.85,14.06L379.95,14.06L380.00,14.06L380.05,14.05L380.15,14.05L380.25,14.04L380.35,14.04L380.45,14.03L380.55,14.03L380.65,14.02L380.75,14.02L380.85,14.01L380.95,14.01L381.00,14.00L381.05,14.00L381.15,14.00L381.25,13.99L381.35,13.99L381.45,13.98L381.55,13.98L381.65,13.98L381.75,13.97L381.85,13.97L381.95,13.96L382.00,13.96L382.05,13.96L382.15,13.96L382.25,13.95L382.35,13.95L382.45,13.95L382.55,13.94L382.65,13.94L382.75,13.94L382.85,13.93L382.95,13.93L383.00,13.93L383.05,13.93L383.15,13.93L383.25,13.92L383.35,13.92L383.45,13.92L383.55,13.92L383.65,13.92L383.75,13.91L383.85,13.91L383.95,13.91L384.00,13.91L384.05,13.91L384.15,13.91L384.25,13.91L384.35,13.90L384.45,13.90L384.55,13.90L384.65,13.90L384.75,13.90L384.85,13.90L384.95,13.90L385.00,13.90L385.05,13.90L385.15,13.90L385.25,13.90L385.35,13.90L385.45,13.90L385.55,13.90L385.65,13.90L385.75,13.90L385.85,13.90L385.95,13.90L386.00,13.90L386.05,13.90L386.15,13.90L386.25,13.90L386.35,13.90L386.45,13.90L386.55,13.90L386.65,13.90L386.75,13.90L386.85,13.90L386.95,13.91L387.00,13.91L387.05,13.91L387.15,13.91L387.25,13.91L387.35,13.91L387.45,13.91L387.55,13.92L387.65,13.92L387.75,13.92L387.85,13.92L387.95,13.92L388.00,13.93L388.05,13.93L388.15,13.93L388.25,13.93L388.35,13.93L388.45,13.94L388.55,13.94L388.65,13.94L388.75,13.95L388.85,13.95L388.95,13.95L389.00,13.95L389.05,13.96L389.15,13.96L389.25,13.96L389.35,13.97L389.45,13.97L389.55,13.97L389.65,13.98L389.75,13.98L389.85,13.99L389.95,13.99L390.00,13.99L390.05,14.00L390.15,14.00L390.25,14.01L390.35,14.01L390.45,14.01L390.55,14.02L390.65,14.02L390.75,14.03L390.85,14.03L390.95,14.04L391.00,14.04L391.05,14.05L391.15,14.05L391.25,14.06L391.35,14.06L391.45,14.07L391.55,14.07L391.65,14.08L391.75,14.09L391.85,14.09L391.95,14.10L392.00,14.10L392.05,14.10L392.15,14.11L392.25,14.12L392.35,14.12L392.45,14.13L392.55,14.14L392.65,14.15L392.75,14.15L392.85,14.16L392.95,14.17L393.00,14.17L393.05,14.17L393.15,14.18L393.25,14.19L393.35,14.20L393.45,14.20L393.55,14.21L393.65,14.22L393.75,14.23L393.85,14.24L393.95,14.25L394.00,14.25L394.05,14.25L394.15,14.26L394.25,14.27L394.35,14.28L394.45,14.29L394.55,14.30L394.65,14.31L394.75,14.31L394.85,14.32L394.95,14.33L395.00,14.34L395.05,14.34L395.15,14.35L395.25,14.36L395.35,14.37L395.45,14.38L395.55,14.39L395.65,14.40L395.75,14.41L395.85,14.42L395.95,14.43L396.00,14.44L396.05,14.44L396.15,14.45L396.25,14.46L396.35,14.47L396.45,14.48L396.55,14.49L396.65,14.51L396.75,14.52L396.85,14.53L396.95,14.54L397.00,14.54L397.05,14.55L397.15,14.56L397.25,14.57L397.35,14.58L397.45,14.60L397.55,14.61L397.65,14.62L397.75,14.63L397.85,14.64L397.95,14.66L398.00,14.66L398.05,14.67L398.15,14.68L398.25,14.69L398.35,14.71L398.45,14.72L398.55,14.73L398.65,14.74L398.75,14.76L398.85,14.77L398.95,14.78L399.00,14.79L399.05,14.80L399.15,14.81L399.25,14.82L399.35,14.84L399.45,14.85L399.55,14.86L399.65,14.88L399.75,14.89L399.85,14.90L399.95,14.92L400.00,14.93L400.05,14.93L400.15,14.95L400.25,14.96L400.35,14.98L400.45,14.99L400.55,15.01L400.65,15.02L400.75,15.03L400.85,15.05L400.95,15.06L401.00,15.07L401.05,15.08L401.15,15.10L401.25,15.11L401.35,15.13L401.45,15.14L401.55,15.16L401.65,15.17L401.75,15.19L401.85,15.20L401.95,15.22L402.00,15.23L402.05,15.24L402.15,15.25L402.25,15.27L402.35,15.29L402.45,15.30L402.55,15.32L402.65,15.34L402.75,15.35L402.85,15.37L402.95,15.39L403.00,15.39L403.05,15.40L403.15,15.42L403.25,15.44L403.35,15.45L403.45,15.47L403.55,15.49L403.65,15.51L403.75,15.52L403.85,15.54L403.95,15.56L404.00,15.57L404.05,15.58L404.15,15.60L404.25,15.61L404.35,15.63L404.45,15.65L404.55,15.67L404.65,15.69L404.75,15.71L404.85,15.73L404.95,15.74L405.00,15.75L405.05,15.76L405.15,15.78L405.25,15.80L405.35,15.82L405.45,15.84L405.55,15.86L405.65,15.88L405.75,15.90L405.85,15.92L405.95,15.94L406.00,15.95L406.05,15.96L406.15,15.98L406.25,16.00L406.35,16.02L406.45,16.04L406.55,16.06L406.65,16.08L406.75,16.10L406.85,16.12L406.95,16.14L407.00,16.15L407.05,16.16L407.15,16.18L407.25,16.20L407.35,16.22L407.45,16.25L407.55,16.27L407.65,16.29L407.75,16.31L407.85,16.33L407.95,16.35L408.00,16.36L408.05,16.37L408.15,16.40L408.25,16.42L408.35,16.44L408.45,16.46L408.55,16.48L408.65,16.51L408.75,16.53L408.85,16.55L408.95,16.57L409.00,16.59L409.05,16.60L409.15,16.62L409.25,16.64L409.35,16.67L409.45,16.69L409.55,16.71L409.65,16.73L409.75,16.76L409.85,16.78L409.95,16.81L410.00,16.82L410.05,16.83L410.15,16.85L410.25,16.88L410.35,16.90L410.45,16.92L410.55,16.95L410.65,16.97L410.75,17.00L410.85,17.02L410.95,17.05L411.00,17.06L411.05,17.07L411.15,17.09L411.25,17.12L411.35,17.14L411.45,17.17L411.55,17.19L411.65,17.22L411.75,17.24L411.85,17.27L411.95,17.29L412.00,17.31L412.05,17.32L412.15,17.35L412.25,17.37L412.35,17.40L412.45,17.42L412.55,17.45L412.65,17.47L412.75,17.50L412.85,17.53L412.95,17.55L413.00,17.57L413.05,17.58L413.15,17.61L413.25,17.63L413.35,17.66L413.45,17.69L413.55,17.71L413.65,17.74L413.75,17.77L413.85,17.79L413.95,17.82L414.00,17.83L414.05,17.85L414.15,17.87L414.25,17.90L414.35,17.93L414.45,17.96L414.55,17.99L414.65,18.01L414.75,18.04L414.85,18.07L414.95,18.10L415.00,18.11L415.05,18.12L415.15,18.15L415.25,18.18L415.35,18.21L415.45,18.24L415.55,18.27L415.65,18.30L415.75,18.32L415.85,18.35L415.95,18.38L416.00,18.40L416.05,18.41L416.15,18.44L416.25,18.47L416.35,18.50L416.45,18.53L416.55,18.56L416.65,18.59L416.75,18.62L416.85,18.65L416.95,18.68L417.00,18.69L417.05,18.71L417.15,18.74L417.25,18.77L417.35,18.80L417.45,18.83L417.55,18.86L417.65,18.89L417.75,18.92L417.85,18.95L417.95,18.98L418.00,19.00L418.05,19.01L418.15,19.04L418.25,19.07L418.35,19.10L418.45,19.14L418.55,19.17L418.65,19.20L418.75,19.23L418.85,19.26L418.95,19.29L419.00,19.31L419.05,19.33L419.15,19.36L419.25,19.39L419.35,19.42L419.45,19.45L419.55,19.49L419.65,19.52L419.75,19.55L419.85,19.58L419.95,19.61L420.00,19.63L420.05,19.65L420.15,19.68L420.25,19.71L420.35,19.75L420.45,19.78L420.55,19.81L420.65,19.85L420.75,19.88L420.85,19.91L420.95,19.95L421.00,19.96L421.05,19.98L421.15,20.01L421.25,20.05L421.35,20.08L421.45,20.11L421.55,20.15L421.65,20.18L421.75,20.22L421.85,20.25L421.95,20.28L422.00,20.30L422.05,20.32L422.15,20.35L422.25,20.39L422.35,20.42L422.45,20.46L422.55,20.49L422.65,20.53L422.75,20.56L422.85,20.60L422.95,20.63L423.00,20.65L423.05,20.67L423.15,20.70L423.25,20.74L423.35,20.77L423.45,20.81L423.55,20.85L423.65,20.88L423.75,20.92L423.85,20.95L423.95,20.99L424.00,21.01L424.05,21.03L424.15,21.06L424.25,21.10L424.35,21.13L424.45,21.17L424.55,21.21L424.65,21.24L424.75,21.28L424.85,21.32L424.95,21.35L425.00,21.37L425.05,21.39L425.15,21.43L425.25,21.47L425.35,21.50L425.45,21.54L425.55,21.58L425.65,21.62L425.75,21.65L425.85,21.69L425.95,21.73L426.00,21.75L426.05,21.77L426.15,21.80L426.25,21.84L426.35,21.88L426.45,21.92L426.55,21.96L426.65,22.00L426.75,22.03L427.00,22.13L428.00,22.52L429.00,22.92L430.00,23.33L431.00,23.75L432.00,24.18L433.00,24.61L434.00,25.05L435.00,25.51L436.00,25.96L437.00,26.43L438.00,26.91L439.00,27.39L440.00,27.89L441.00,28.39L442.00,28.90L443.00,29.41L444.00,29.94L445.00,30.47L446.00,31.01L447.00,31.56L448.00,32.11L449.00,32.68L450.00,33.25L451.00,33.83L452.00,34.41L453.00,35.00L454.00,35.60L455.00,36.21L456.00,36.82L457.00,37.44L458.00,38.07L459.00,38.70L460.00,39.34L461.00,39.99L462.00,40.64L463.00,41.30L464.00,41.96L465.00,42.64L466.00,43.31L467.00,44.00L468.00,44.69L469.00,45.38L470.00,46.08L471.00,46.79L472.00,47.50L473.00,48.22L474.00,48.94L475.00,49.67L476.00,50.40L477.00,51.14L478.00,51.88L479.00,52.63L480.00,53.38L481.00,54.14L482.00,54.91L483.00,55.67L484.00,56.44L485.00,57.22L486.00,58.00L487.00,58.79L488.00,59.58L489.00,60.37L490.00,61.17L491.00,61.97L492.00,62.77L493.00,63.58L494.00,64.39L495.00,65.21L496.00,66.03L497.00,66.85L498.00,67.68L499.00,68.51L500.00,69.34L501.00,70.17L502.00,71.01L503.00,71.86L504.00,72.70L505.00,73.55L506.00,74.40L507.00,75.25L508.00,76.10L509.00,76.96L510.00,77.82L511.00,78.68L512.00,79.55L513.00,80.41L514.00,81.28L515.00,82.15L516.00,83.02L517.00,83.90L518.00,84.77L519.00,85.65L520.00,86.53L521.00,87.41L522.00,88.29L523.00,89.17L524.00,90.05L525.00,90.94L526.00,91.82L527.00,92.71L528.00,93.60L529.00,94.49L530.00,95.37L531.00,96.26L532.00,97.15L533.00,98.04L534.00,98.93L535.00,99.82L536.00,100.71L537.00,101.60L538.00,102.49L539.00,103.38L540.00,104.27L541.00,105.16L542.00,106.05L543.00,106.94L544.00,107.83L545.00,108.72L546.00,109.60L547.00,110.49L548.00,111.38L549.00,112.26L550.00,113.14L551.00,114.03L552.00,114.91L553.00,115.79L554.00,116.66L555.00,117.54L556.00,118.42L557.00,119.29L558.00,120.16L559.00,121.03L560.00,121.90L561.00,122.77L562.00,123.63L563.00,124.49L564.00,125.35L565.00,126.21L566.00,127.06L567.00,127.92L568.00,128.77L569.00,129.61L570.00,130.46L571.00,131.30L572.00,132.14L573.00,132.98L574.00,133.82L575.00,134.65L576.00,135.48L577.00,136.31L578.00,137.14L579.00,137.97L580.00,138.79L581.00,139.61L582.00,140.43L583.00,141.25L584.00,142.07L585.00,142.88L586.00,143.69L587.00,144.50L588.00,145.31L589.00,146.11L590.00,146.92L591.00,147.72L592.00,148.52L593.00,149.32L594.00,150.12L595.00,150.92L596.00,151.71L597.00,152.50L598.00,153.29L599.00,154.08L600.00,154.87L601.00,155.66L602.00,156.44L603.00,157.22L604.00,158.01L605.00,158.79L606.00,159.56L607.00,160.34L608.00,161.12L609.00,161.89L610.00,162.67L611.00,163.44L612.00,164.21L613.00,164.98L614.00,165.75L615.00,166.52L616.00,167.28L617.00,168.05L618.00,168.81L619.00,169.57L620.00,170.34L621.00,171.10L622.00,171.86L623.00,172.62L624.00,173.37L625.00,174.13L626.00,174.89L627.00,175.64L628.00,176.40L629.00,177.15L630.00,177.90L631.00,178.66L632.00,179.41L633.00,180.16L634.00,180.91L635.00,181.66L636.00,182.40L637.00,183.15L638.00,183.90L639.00,184.65L640.00,185.39L641.00,186.14L642.00,186.88L643.00,187.62L644.00,188.37L645.00,189.11L646.00,189.85L647.00,190.59L648.00,191.32L649.00,192.06L650.00,192.80L651.00,193.53L652.00,194.26L653.00,195.00L654.00,195.73L655.00,196.46L656.00,197.19L657.00,197.91L658.00,198.64L659.00,199.36L660.00,200.08L661.00,200.80L662.00,201.52L663.00,202.24L664.00,202.96L665.00,203.67L666.00,204.38L667.00,205.10L668.00,205.80L669.00,206.51L670.00,207.22L671.00,207.92L672.00,208.62L673.00,209.32L674.00,210.02L675.00,210.72L676.00,211.41L677.00,212.10L678.00,212.79L679.00,213.48L680.00,214.16L681.00,214.84L682.00,215.52L683.00,216.20" stroke="#0c9a4b" stroke-width="3" stroke-dasharray="11 15" stroke-linecap="round"/>
<path d="M90.00,18.18L91.00,18.21L92.00,18.23L93.00,18.26L94.00,18.28L95.00,18.31L96.00,18.33L97.00,18.36L98.00,18.39L99.00,18.41L100.00,18.44L101.00,18.47L102.00,18.49L103.00,18.52L104.00,18.55L105.00,18.58L106.00,18.60L107.00,18.63L108.00,18.66L109.00,18.69L110.00,18.72L111.00,18.75L112.00,18.78L113.00,18.81L114.00,18.84L115.00,18.87L116.00,18.90L117.00,18.93L118.00,18.96L119.00,19.00L120.00,19.03L121.00,19.06L122.00,19.10L123.00,19.13L124.00,19.16L125.00,19.20L126.00,19.23L127.00,19.27L128.00,19.30L129.00,19.34L130.00,19.37L131.00,19.41L132.00,19.45L133.00,19.48L134.00,19.52L135.00,19.56L136.00,19.60L137.00,19.64L138.00,19.68L139.00,19.72L140.00,19.76L141.00,19.80L142.00,19.84L143.00,19.88L144.00,19.92L145.00,19.96L146.00,20.01L147.00,20.05L148.00,20.09L149.00,20.14L150.00,20.18L151.00,20.23L152.00,20.28L153.00,20.32L154.00,20.37L155.00,20.42L156.00,20.47L157.00,20.51L158.00,20.56L159.00,20.61L160.00,20.66L161.00,20.72L162.00,20.77L163.00,20.82L164.00,20.87L165.00,20.93L166.00,20.98L167.00,21.04L168.00,21.09L169.00,21.15L170.00,21.21L171.00,21.27L172.00,21.33L173.00,21.38L174.00,21.45L175.00,21.51L176.00,21.57L177.00,21.63L178.00,21.70L179.00,21.76L180.00,21.83L181.00,21.89L182.00,21.96L183.00,22.03L184.00,22.10L185.00,22.17L186.00,22.24L187.00,22.31L188.00,22.38L189.00,22.46L190.00,22.53L191.00,22.61L192.00,22.69L193.00,22.76L194.00,22.84L195.00,22.92L196.00,23.01L197.00,23.09L198.00,23.17L199.00,23.26L200.00,23.35L201.00,23.43L202.00,23.52L203.00,23.61L204.00,23.71L205.00,23.80L206.00,23.89L207.00,23.99L208.00,24.09L209.00,24.19L210.00,24.29L211.00,24.39L212.00,24.50L213.00,24.60L214.00,24.71L215.00,24.82L216.00,24.93L217.00,25.04L218.00,25.16L219.00,25.27L220.00,25.39L221.00,25.51L222.00,25.64L223.00,25.76L224.00,25.89L225.00,26.02L226.00,26.15L227.00,26.28L228.00,26.42L229.00,26.56L230.00,26.70L231.00,26.84L232.00,26.98L233.00,27.13L234.00,27.28L235.00,27.44L236.00,27.59L237.00,27.75L238.00,27.92L239.00,28.08L240.00,28.25L241.00,28.42L242.00,28.60L243.00,28.78L244.00,28.96L245.00,29.14L246.00,29.33L247.00,29.53L248.00,29.72L249.00,29.92L250.00,30.13L251.00,30.34L252.00,30.55L253.00,30.77L254.00,30.99L255.00,31.22L256.00,31.45L257.00,31.68L258.00,31.93L259.00,32.17L260.00,32.42L261.00,32.68L262.00,32.94L263.00,33.21L264.00,33.49L265.00,33.77L266.00,34.06L267.00,34.35L268.00,34.65L269.00,34.96L270.00,35.28L271.00,35.60L272.00,35.93L273.00,36.27L274.00,36.61L275.00,36.97L276.00,37.33L277.00,37.70L278.00,38.08L279.00,38.47L280.00,38.88L281.00,39.29L282.00,39.71L283.00,40.14L284.00,40.59L285.00,41.04L286.00,41.51L287.00,41.99L288.00,42.49L289.00,42.99L290.00,43.51L291.00,44.05L292.00,44.60L293.00,45.17L294.00,45.75L295.00,46.35L296.00,46.97L297.00,47.60L298.00,48.26L299.00,48.93L300.00,49.63L301.00,50.34L302.00,51.08L303.00,51.84L304.00,52.63L305.00,53.44L306.00,54.28L307.00,55.14L308.00,56.03L309.00,56.95L310.00,57.90L311.00,58.89L312.00,59.91L313.00,60.96L314.00,62.05L315.00,63.18L316.00,64.35L317.00,65.56L318.00,66.81L319.00,68.11L320.00,69.46L321.00,70.86L322.00,72.31L323.00,73.82L324.00,75.39L325.00,77.02L326.00,78.71L327.00,80.47L328.00,82.30L329.00,84.21L330.00,86.19L331.00,88.26L332.00,90.41L333.00,92.66L334.00,95.00L335.00,97.45L336.00,100.00L337.00,102.67L338.00,105.45L339.00,108.36L340.00,111.40L341.00,114.58L342.00,117.91L343.00,121.40L344.00,125.05L345.00,128.87L346.00,132.88L346.85,136.43L346.95,136.86L347.00,137.07L347.05,137.29L347.15,137.72L347.25,138.16L347.35,138.59L347.45,139.03L347.55,139.47L347.65,139.91L347.75,140.36L347.85,140.80L347.95,141.25L348.00,141.48L348.05,141.70L348.15,142.15L348.25,142.61L348.35,143.07L348.45,143.52L348.55,143.99L348.65,144.45L348.75,144.92L348.85,145.38L348.95,145.85L349.00,146.09L349.05,146.33L349.15,146.80L349.25,147.28L349.35,147.76L349.45,148.24L349.55,148.72L349.65,149.21L349.75,149.70L349.85,150.19L349.95,150.68L350.00,150.93L350.05,151.18L350.15,151.67L350.25,152.17L350.35,152.68L350.45,153.18L350.55,153.69L350.65,154.20L350.75,154.71L350.85,155.23L350.95,155.74L351.00,156.00L351.05,156.26L351.15,156.79L351.25,157.31L351.35,157.84L351.45,158.37L351.55,158.90L351.65,159.44L351.75,159.97L351.85,160.51L351.95,161.06L352.00,161.33L352.05,161.60L352.15,162.15L352.25,162.70L352.35,163.25L352.45,163.81L352.55,164.37L352.65,164.93L352.75,165.49L352.85,166.06L352.95,166.63L353.00,166.91L353.05,167.20L353.15,167.77L353.25,168.35L353.35,168.93L353.45,169.52L353.55,170.10L353.65,170.69L353.75,171.28L353.85,171.87L353.95,172.47L354.00,172.77L354.05,173.07L354.15,173.67L354.25,174.28L354.35,174.89L354.45,175.50L354.55,176.11L354.65,176.73L354.75,177.35L354.85,177.98L354.95,178.60L355.00,178.92L355.05,179.23L355.15,179.86L355.25,180.50L355.35,181.14L355.45,181.78L355.55,182.42L355.65,183.07L355.75,183.72L355.85,184.37L355.95,185.03L356.00,185.36L356.05,185.69L356.15,186.35L356.25,187.02L356.35,187.68L356.45,188.36L356.55,189.03L356.65,189.71L356.75,190.39L356.85,191.08L356.95,191.76L357.00,192.11L357.05,192.46L357.15,193.15L357.25,193.85L357.35,194.55L357.45,195.25L357.55,195.96L357.65,196.67L357.75,197.39L357.85,198.10L357.95,198.82L358.00,199.18L358.05,199.55L358.15,200.27L358.25,201.00L358.35,201.74L358.45,202.48L358.55,203.22L358.65,203.96L358.75,204.71L358.85,205.46L358.95,206.21L359.00,206.59L359.05,206.97L359.15,207.73L359.25,208.50L359.35,209.27L359.45,210.04L359.55,210.81L359.65,211.59L359.75,212.37L359.85,213.16L359.95,213.95L360.00,214.34L360.05,214.74L360.15,215.54L360.25,216.34L360.35,217.14L360.45,217.95L360.55,218.76L360.65,219.57L360.75,220.39L360.85,221.21L360.95,222.03L361.00,222.45L361.05,222.86L361.15,223.69L361.25,224.53L361.35,225.37L361.45,226.21L361.55,227.06L361.65,227.91L361.75,228.76L361.85,229.62L361.95,230.48L362.00,230.91L362.05,231.34L362.15,232.21L362.25,233.08L362.35,233.96L362.45,234.83L362.55,235.72L362.65,236.60L362.75,237.49L362.85,238.39L362.95,239.28L363.00,239.73L363.05,240.18L363.15,241.09L363.25,242.00L363.35,242.91L363.45,243.82L363.55,244.74L363.65,245.66L363.75,246.59L363.85,247.52L363.95,248.45L364.00,248.92L364.05,249.39L364.15,250.33L364.25,251.27L364.35,252.22L364.45,253.17L364.55,254.13L364.65,255.09L364.75,256.05L364.85,257.02L364.95,257.98L365.00,258.47L365.05,258.96L365.15,259.93L365.25,260.91L365.35,261.90L365.45,262.88L365.55,263.87L365.65,264.87L365.75,265.86L365.85,266.86L365.95,267.87L366.00,268.37L366.05,268.88L366.15,269.89L366.25,270.90L366.35,271.92L366.45,272.94L366.55,273.96L366.65,274.99L366.75,276.02L366.85,277.06L366.95,278.09L367.00,278.61L367.05,279.14L367.15,280.18L367.25,281.23L367.35,282.28L367.45,283.33L367.55,284.39L367.65,285.44L367.75,286.51L367.85,287.57L367.95,288.64L368.00,289.18L368.05,289.71L368.15,290.79L368.25,291.86L368.35,292.94L368.45,294.03L368.55,295.11L368.65,296.20L368.75,297.29L368.85,298.39L368.95,299.48L369.00,300.03L369.05,300.58L369.15,301.68L369.25,302.79L369.35,303.89L369.45,305.00L369.55,306.11L369.65,307.23L369.75,308.34L369.85,309.46L369.95,310.58L370.00,311.14L370.05,311.70L370.15,312.83L370.25,313.95L370.35,315.08L370.45,316.21L370.55,317.34L370.65,318.48L370.75,319.61L370.85,320.75L370.95,321.89L371.00,322.46L371.05,323.03L371.15,324.17L371.25,325.32L371.35,326.46L371.45,327.61L371.55,328.75L371.65,329.90L371.75,331.05L371.85,332.20L371.95,333.36L372.00,333.93L372.05,334.51L372.15,335.66L372.25,336.81L372.35,337.97L372.45,339.12L372.55,340.28L372.65,341.44L372.75,342.59L372.85,343.75L372.95,344.91L373.00,345.48L373.05,346.06L373.15,347.22L373.25,348.38L373.35,349.53L373.45,350.69L373.55,351.84L373.65,353.00L373.75,354.15L373.85,355.31L373.95,356.46L374.00,357.04L374.05,357.61L374.15,358.76L374.25,359.91L374.35,361.06L374.45,362.21L374.55,363.36L374.65,364.50L374.75,365.64L374.85,366.79L374.95,367.92L375.00,368.49L375.05,369.06L375.15,370.20L375.25,371.33L375.35,372.46L375.45,373.59L375.55,374.72L375.65,375.84L375.75,376.96L375.85,378.08L375.95,379.19L376.00,379.75L376.05,380.30L376.15,381.41L376.25,382.51L376.35,383.62L376.45,384.71L376.55,385.81L376.65,386.90L376.75,387.98L376.85,389.06L376.95,390.14L377.00,390.68L377.05,391.21L377.15,392.28L377.25,393.34L377.35,394.40L377.45,395.45L377.55,396.50L377.65,397.54L377.75,398.58L377.85,399.61L377.95,400.64L378.00,401.15L378.05,401.66L378.15,402.67L378.25,403.68L378.35,404.68L378.45,405.68L378.55,406.67L378.65,407.65L378.75,408.62L378.85,409.59L378.95,410.55L379.00,411.03L379.05,411.51L379.15,412.45L379.25,413.39L379.35,414.32L379.45,415.25L379.55,416.16L379.65,417.07L379.75,417.97L379.85,418.86L379.95,419.74L380.00,420.17L380.05,420.61L380.15,421.47L380.25,422.33L380.35,423.17L380.45,424.01L380.55,424.84L380.65,425.65L380.75,426.46L380.85,427.26L380.95,428.04L381.00,428.43L381.05,428.82L381.15,429.59L381.25,430.34L381.35,431.09L381.45,431.82L381.55,432.55L381.65,433.26L381.75,433.96L381.85,434.65L381.95,435.33L382.00,435.67L382.05,436.00L382.15,436.66L382.25,437.30L382.35,437.93L382.45,438.55L382.55,439.16L382.65,439.76L382.75,440.34L382.85,440.91L382.95,441.47L383.00,441.74L383.05,442.01L383.15,442.55L383.25,443.07L383.35,443.57L383.45,444.06L383.55,444.54L383.65,445.01L383.75,445.46L383.85,445.90L383.95,446.33L384.00,446.54L384.05,446.74L384.15,447.14L384.25,447.52L384.35,447.89L384.45,448.25L384.55,448.59L384.65,448.92L384.75,449.23L384.85,449.53L384.95,449.82L385.00,449.95L385.05,450.09L385.15,450.34L385.25,450.58L385.35,450.81L385.45,451.02L385.55,451.22L385.65,451.40L385.75,451.56L385.85,451.71L385.95,451.85L386.00,451.91L386.05,451.97L386.15,452.08L386.25,452.17L386.35,452.25L386.45,452.31L386.55,452.35L386.65,452.38L386.75,452.40L386.85,452.40L386.95,452.38L387.00,452.37L387.05,452.35L387.15,452.31L387.25,452.25L387.35,452.17L387.45,452.08L387.55,451.97L387.65,451.85L387.75,451.71L387.85,451.55L387.95,451.39L388.00,451.30L388.05,451.20L388.15,451.00L388.25,450.79L388.35,450.56L388.45,450.31L388.55,450.05L388.65,449.77L388.75,449.48L388.85,449.17L388.95,448.85L389.00,448.68L389.05,448.51L389.15,448.16L389.25,447.79L389.35,447.41L389.45,447.01L389.55,446.60L389.65,446.17L389.75,445.73L389.85,445.27L389.95,444.80L390.00,444.56L390.05,444.31L390.15,443.81L390.25,443.30L390.35,442.77L390.45,442.22L390.55,441.66L390.65,441.09L390.75,440.50L390.85,439.90L390.95,439.29L391.00,438.97L391.05,438.66L391.15,438.02L391.25,437.36L391.35,436.69L391.45,436.01L391.55,435.32L391.65,434.61L391.75,433.89L391.85,433.15L391.95,432.40L392.00,432.03L392.05,431.64L392.15,430.87L392.25,430.09L392.35,429.29L392.45,428.48L392.55,427.66L392.65,426.83L392.75,425.99L392.85,425.13L392.95,424.26L393.00,423.83L393.05,423.39L393.15,422.50L393.25,421.60L393.35,420.69L393.45,419.76L393.55,418.83L393.65,417.89L393.75,416.94L393.85,415.98L393.95,415.00L394.00,414.51L394.05,414.02L394.15,413.03L394.25,412.03L394.35,411.02L394.45,410.00L394.55,408.97L394.65,407.93L394.75,406.89L394.85,405.84L394.95,404.77L395.00,404.24L395.05,403.70L395.15,402.63L395.25,401.54L395.35,400.45L395.45,399.35L395.55,398.24L395.65,397.12L395.75,396.00L395.85,394.87L395.95,393.74L396.00,393.17L396.05,392.59L396.15,391.45L396.25,390.29L396.35,389.13L396.45,387.97L396.55,386.79L396.65,385.62L396.75,384.43L396.85,383.25L396.95,382.05L397.00,381.46L397.05,380.86L397.15,379.65L397.25,378.45L397.35,377.24L397.45,376.02L397.55,374.80L397.65,373.58L397.75,372.35L397.85,371.12L397.95,369.89L398.00,369.27L398.05,368.65L398.15,367.41L398.25,366.16L398.35,364.92L398.45,363.67L398.55,362.42L398.65,361.16L398.75,359.91L398.85,358.65L398.95,357.39L399.00,356.75L399.05,356.12L399.15,354.86L399.25,353.59L399.35,352.32L399.45,351.05L399.55,349.78L399.65,348.51L399.75,347.24L399.85,345.97L399.95,344.69L400.00,344.06L400.05,343.42L400.15,342.14L400.25,340.87L400.35,339.59L400.45,338.32L400.55,337.04L400.65,335.76L400.75,334.49L400.85,333.21L400.95,331.94L401.00,331.30L401.05,330.66L401.15,329.39L401.25,328.11L401.35,326.84L401.45,325.57L401.55,324.30L401.65,323.03L401.75,321.76L401.85,320.49L401.95,319.23L402.00,318.59L402.05,317.96L402.15,316.70L402.25,315.44L402.35,314.18L402.45,312.92L402.55,311.67L402.65,310.41L402.75,309.16L402.85,307.91L402.95,306.66L403.00,306.04L403.05,305.42L403.15,304.17L403.25,302.93L403.35,301.69L403.45,300.46L403.55,299.23L403.65,298.00L403.75,296.77L403.85,295.54L403.95,294.32L404.00,293.71L404.05,293.10L404.15,291.89L404.25,290.67L404.35,289.46L404.45,288.26L404.55,287.05L404.65,285.85L404.75,284.66L404.85,283.46L404.95,282.27L405.00,281.68L405.05,281.08L405.15,279.90L405.25,278.72L405.35,277.54L405.45,276.37L405.55,275.20L405.65,274.04L405.75,272.88L405.85,271.72L405.95,270.56L406.00,269.99L406.05,269.41L406.15,268.27L406.25,267.12L406.35,265.98L406.45,264.85L406.55,263.72L406.65,262.59L406.75,261.47L406.85,260.35L406.95,259.24L407.00,258.68L407.05,258.13L407.15,257.02L407.25,255.92L407.35,254.82L407.45,253.73L407.55,252.64L407.65,251.55L407.75,250.47L407.85,249.39L407.95,248.32L408.00,247.78L408.05,247.25L408.15,246.19L408.25,245.13L408.35,244.07L408.45,243.02L408.55,241.97L408.65,240.93L408.75,239.89L408.85,238.86L408.95,237.83L409.00,237.32L409.05,236.81L409.15,235.79L409.25,234.77L409.35,233.76L409.45,232.75L409.55,231.75L409.65,230.75L409.75,229.76L409.85,228.77L409.95,227.78L410.00,227.29L410.05,226.80L410.15,225.83L410.25,224.85L410.35,223.89L410.45,222.92L410.55,221.97L410.65,221.01L410.75,220.06L410.85,219.12L410.95,218.18L411.00,217.71L411.05,217.24L411.15,216.31L411.25,215.38L411.35,214.46L411.45,213.54L411.55,212.62L411.65,211.71L411.75,210.81L411.85,209.91L411.95,209.01L412.00,208.56L412.05,208.12L412.15,207.23L412.25,206.35L412.35,205.47L412.45,204.59L412.55,203.72L412.65,202.86L412.75,201.99L412.85,201.14L412.95,200.28L413.00,199.86L413.05,199.43L413.15,198.59L413.25,197.75L413.35,196.91L413.45,196.08L413.55,195.25L413.65,194.43L413.75,193.61L413.85,192.79L413.95,191.98L414.00,191.58L414.05,191.17L414.15,190.37L414.25,189.57L414.35,188.78L414.45,187.98L414.55,187.20L414.65,186.41L414.75,185.64L414.85,184.86L414.95,184.09L415.00,183.71L415.05,183.32L415.15,182.56L415.25,181.80L415.35,181.05L415.45,180.30L415.55,179.55L415.65,178.81L415.75,178.07L415.85,177.33L415.95,176.60L416.00,176.24L416.05,175.87L416.15,175.15L416.25,174.43L416.35,173.71L416.45,173.00L416.55,172.29L416.65,171.59L416.75,170.89L416.85,170.19L416.95,169.50L417.00,169.15L417.05,168.81L417.15,168.12L417.25,167.44L417.35,166.76L417.45,166.08L417.55,165.41L417.65,164.74L417.75,164.08L417.85,163.42L417.95,162.76L418.00,162.43L418.05,162.11L418.15,161.46L418.25,160.81L418.35,160.17L418.45,159.53L418.55,158.89L418.65,158.26L418.75,157.63L418.85,157.00L418.95,156.38L419.00,156.07L419.05,155.76L419.15,155.14L419.25,154.53L419.35,153.92L419.45,153.31L419.55,152.71L419.65,152.11L419.75,151.51L419.85,150.92L419.95,150.33L420.00,150.03L420.05,149.74L420.15,149.16L420.25,148.58L420.35,148.00L420.45,147.42L420.55,146.85L420.65,146.28L420.75,145.72L420.85,145.15L420.95,144.60L421.00,144.32L421.05,144.04L421.15,143.49L421.25,142.94L421.35,142.39L421.45,141.84L421.55,141.30L421.65,140.76L421.75,140.23L421.85,139.70L421.95,139.17L422.00,138.90L422.05,138.64L422.15,138.11L422.25,137.59L422.35,137.07L422.45,136.56L422.55,136.05L422.65,135.54L422.75,135.03L422.85,134.52L422.95,134.02L423.00,133.77L423.05,133.52L423.15,133.02L423.25,132.53L423.35,132.04L423.45,131.55L423.55,131.06L423.65,130.58L423.75,130.10L423.85,129.62L423.95,129.15L424.00,128.91L424.05,128.67L424.15,128.20L424.25,127.73L424.35,127.27L424.45,126.81L424.55,126.34L424.65,125.89L424.75,125.43L424.85,124.98L424.95,124.53L425.00,124.30L425.05,124.08L425.15,123.63L425.25,123.19L425.35,122.75L425.45,122.31L425.55,121.87L425.65,121.44L425.75,121.00L425.85,120.57L425.95,120.15L426.00,119.93L426.05,119.72L426.15,119.30L426.25,118.88L426.35,118.46L426.45,118.04L426.55,117.63L426.65,117.22L426.75,116.81L427.00,115.79L428.00,111.86L429.00,108.13L430.00,104.59L431.00,101.23L432.00,98.04L433.00,95.00L434.00,92.12L435.00,89.37L436.00,86.75L437.00,84.26L438.00,81.89L439.00,79.62L440.00,77.47L441.00,75.40L442.00,73.44L443.00,71.56L444.00,69.76L445.00,68.04L446.00,66.40L447.00,64.82L448.00,63.32L449.00,61.87L450.00,60.49L451.00,59.16L452.00,57.89L453.00,56.66L454.00,55.49L455.00,54.36L456.00,53.27L457.00,52.23L458.00,51.22L459.00,50.26L460.00,49.33L461.00,48.43L462.00,47.56L463.00,46.73L464.00,45.93L465.00,45.15L466.00,44.40L467.00,43.68L468.00,42.98L469.00,42.31L470.00,41.65L471.00,41.02L472.00,40.41L473.00,39.82L474.00,39.25L475.00,38.70L476.00,38.16L477.00,37.64L478.00,37.14L479.00,36.65L480.00,36.18L481.00,35.72L482.00,35.27L483.00,34.84L484.00,34.42L485.00,34.02L486.00,33.62L487.00,33.24L488.00,32.86L489.00,32.50L490.00,32.14L491.00,31.80L492.00,31.47L493.00,31.14L494.00,30.82L495.00,30.52L496.00,30.22L497.00,29.92L498.00,29.64L499.00,29.36L500.00,29.09L501.00,28.83L502.00,28.57L503.00,28.32L504.00,28.08L505.00,27.84L506.00,27.60L507.00,27.38L508.00,27.15L509.00,26.94L510.00,26.73L511.00,26.52L512.00,26.32L513.00,26.12L514.00,25.93L515.00,25.74L516.00,25.56L517.00,25.38L518.00,25.20L519.00,25.03L520.00,24.86L521.00,24.69L522.00,24.53L523.00,24.38L524.00,24.22L525.00,24.07L526.00,23.92L527.00,23.78L528.00,23.63L529.00,23.50L530.00,23.36L531.00,23.23L532.00,23.09L533.00,22.97L534.00,22.84L535.00,22.72L536.00,22.60L537.00,22.48L538.00,22.36L539.00,22.25L540.00,22.14L541.00,22.03L542.00,21.92L543.00,21.81L544.00,21.71L545.00,21.61L546.00,21.51L547.00,21.41L548.00,21.31L549.00,21.22L550.00,21.13L551.00,21.04L552.00,20.95L553.00,20.86L554.00,20.77L555.00,20.69L556.00,20.60L557.00,20.52L558.00,20.44L559.00,20.36L560.00,20.28L561.00,20.21L562.00,20.13L563.00,20.06L564.00,19.99L565.00,19.91L566.00,19.84L567.00,19.77L568.00,19.71L569.00,19.64L570.00,19.57L571.00,19.51L572.00,19.44L573.00,19.38L574.00,19.32L575.00,19.26L576.00,19.20L577.00,19.14L578.00,19.08L579.00,19.02L580.00,18.97L581.00,18.91L582.00,18.86L583.00,18.80L584.00,18.75L585.00,18.70L586.00,18.65L587.00,18.60L588.00,18.55L589.00,18.50L590.00,18.45L591.00,18.40L592.00,18.35L593.00,18.31L594.00,18.26L595.00,18.22L596.00,18.17L597.00,18.13L598.00,18.09L599.00,18.04L600.00,18.00L601.00,17.96L602.00,17.92L603.00,17.88L604.00,17.84L605.00,17.80L606.00,17.76L607.00,17.72L608.00,17.68L609.00,17.65L610.00,17.61L611.00,17.57L612.00,17.54L613.00,17.50L614.00,17.47L615.00,17.43L616.00,17.40L617.00,17.37L618.00,17.33L619.00,17.30L620.00,17.27L621.00,17.24L622.00,17.20L623.00,17.17L624.00,17.14L625.00,17.11L626.00,17.08L627.00,17.05L628.00,17.02L629.00,17.00L630.00,16.97L631.00,16.94L632.00,16.91L633.00,16.88L634.00,16.86L635.00,16.83L636.00,16.80L637.00,16.78L638.00,16.75L639.00,16.73L640.00,16.70L641.00,16.68L642.00,16.65L643.00,16.63L644.00,16.60L645.00,16.58L646.00,16.55L647.00,16.53L648.00,16.51L649.00,16.49L650.00,16.46L651.00,16.44L652.00,16.42L653.00,16.40L654.00,16.38L655.00,16.35L656.00,16.33L657.00,16.31L658.00,16.29L659.00,16.27L660.00,16.25L661.00,16.23L662.00,16.21L663.00,16.19L664.00,16.17L665.00,16.15L666.00,16.14L667.00,16.12L668.00,16.10L669.00,16.08L670.00,16.06L671.00,16.04L672.00,16.03L673.00,16.01L674.00,15.99L675.00,15.97L676.00,15.96L677.00,15.94L678.00,15.92L679.00,15.91L680.00,15.89L681.00,15.87L682.00,15.86L683.00,15.84" stroke="#151515" stroke-width="2.7" stroke-dasharray="2.0 4.6" stroke-linecap="round"/>
<path d="M90.00,262.79L91.00,262.03L92.00,261.27L93.00,260.51L94.00,259.74L95.00,258.98L96.00,258.21L97.00,257.43L98.00,256.66L99.00,255.88L100.00,255.09L101.00,254.31L102.00,253.52L103.00,252.73L104.00,251.94L105.00,251.15L106.00,250.35L107.00,249.55L108.00,248.74L109.00,247.94L110.00,247.13L111.00,246.32L112.00,245.51L113.00,244.69L114.00,243.87L115.00,243.05L116.00,242.23L117.00,241.40L118.00,240.57L119.00,239.74L120.00,238.91L121.00,238.07L122.00,237.24L123.00,236.40L124.00,235.55L125.00,234.71L126.00,233.86L127.00,233.01L128.00,232.16L129.00,231.30L130.00,230.45L131.00,229.59L132.00,228.73L133.00,227.86L134.00,227.00L135.00,226.13L136.00,225.26L137.00,224.39L138.00,223.51L139.00,222.63L140.00,221.75L141.00,220.87L142.00,219.99L143.00,219.10L144.00,218.22L145.00,217.33L146.00,216.43L147.00,215.54L148.00,214.64L149.00,213.75L150.00,212.85L151.00,211.94L152.00,211.04L153.00,210.13L154.00,209.23L155.00,208.32L156.00,207.40L157.00,206.49L158.00,205.57L159.00,204.66L160.00,203.74L161.00,202.82L162.00,201.89L163.00,200.97L164.00,200.04L165.00,199.11L166.00,198.18L167.00,197.25L168.00,196.31L169.00,195.38L170.00,194.44L171.00,193.50L172.00,192.56L173.00,191.62L174.00,190.67L175.00,189.73L176.00,188.78L177.00,187.83L178.00,186.88L179.00,185.93L180.00,184.97L181.00,184.01L182.00,183.06L183.00,182.10L184.00,181.14L185.00,180.18L186.00,179.21L187.00,178.25L188.00,177.28L189.00,176.31L190.00,175.34L191.00,174.37L192.00,173.40L193.00,172.42L194.00,171.45L195.00,170.47L196.00,169.49L197.00,168.51L198.00,167.53L199.00,166.55L200.00,165.57L201.00,164.58L202.00,163.60L203.00,162.61L204.00,161.62L205.00,160.63L206.00,159.64L207.00,158.65L208.00,157.65L209.00,156.66L210.00,155.66L211.00,154.66L212.00,153.67L213.00,152.67L214.00,151.67L215.00,150.67L216.00,149.66L217.00,148.66L218.00,147.65L219.00,146.65L220.00,145.64L221.00,144.63L222.00,143.62L223.00,142.61L224.00,141.60L225.00,140.59L226.00,139.58L227.00,138.57L228.00,137.55L229.00,136.54L230.00,135.52L231.00,134.50L232.00,133.48L233.00,132.47L234.00,131.45L235.00,130.43L236.00,129.40L237.00,128.38L238.00,127.36L239.00,126.34L240.00,125.31L241.00,124.29L242.00,123.26L243.00,122.24L244.00,121.21L245.00,120.18L246.00,119.16L247.00,118.13L248.00,117.10L249.00,116.07L250.00,115.04L251.00,114.01L252.00,112.98L253.00,111.95L254.00,110.92L255.00,109.88L256.00,108.85L257.00,107.83L258.00,106.80L259.00,105.77L260.00,104.74L261.00,103.72L262.00,102.70L263.00,101.68L264.00,100.66L265.00,99.64L266.00,98.63L267.00,97.62L268.00,96.61L269.00,95.60L270.00,94.60L271.00,93.61L272.00,92.61L273.00,91.62L274.00,90.64L275.00,89.65L276.00,88.68L277.00,87.71L278.00,86.74L279.00,85.78L280.00,84.82L281.00,83.87L282.00,82.93L283.00,81.99L284.00,81.06L285.00,80.13L286.00,79.21L287.00,78.30L288.00,77.40L289.00,76.50L290.00,75.61L291.00,74.73L292.00,73.86L293.00,72.99L294.00,72.14L295.00,71.29L296.00,70.45L297.00,69.62L298.00,68.80L299.00,67.99L300.00,67.19L301.00,66.40L302.00,65.62L303.00,64.85L304.00,64.10L305.00,63.35L306.00,62.62L307.00,61.89L308.00,61.18L309.00,60.48L310.00,59.80L311.00,59.12L312.00,58.46L313.00,57.81L314.00,57.18L315.00,56.56L316.00,55.95L317.00,55.36L318.00,54.78L319.00,54.21L320.00,53.66L321.00,53.12L322.00,52.59L323.00,52.08L324.00,51.58L325.00,51.09L326.00,50.62L327.00,50.16L328.00,49.72L329.00,49.29L330.00,48.88L331.00,48.48L332.00,48.10L333.00,47.74L334.00,47.39L335.00,47.05L336.00,46.74L337.00,46.44L338.00,46.16L339.00,45.90L340.00,45.66L341.00,45.44L342.00,45.24L343.00,45.07L344.00,44.91L345.00,44.79L346.00,44.69L346.85,44.62L346.95,44.62L347.00,44.62L347.05,44.61L347.15,44.61L347.25,44.60L347.35,44.60L347.45,44.59L347.55,44.59L347.65,44.58L347.75,44.58L347.85,44.58L347.95,44.58L348.00,44.57L348.05,44.57L348.15,44.57L348.25,44.57L348.35,44.57L348.45,44.57L348.55,44.56L348.65,44.56L348.75,44.56L348.85,44.56L348.95,44.56L349.00,44.57L349.05,44.57L349.15,44.57L349.25,44.57L349.35,44.57L349.45,44.57L349.55,44.57L349.65,44.58L349.75,44.58L349.85,44.58L349.95,44.59L350.00,44.59L350.05,44.59L350.15,44.60L350.25,44.60L350.35,44.61L350.45,44.62L350.55,44.62L350.65,44.63L350.75,44.64L350.85,44.64L350.95,44.65L351.00,44.66L351.05,44.66L351.15,44.67L351.25,44.68L351.35,44.69L351.45,44.70L351.55,44.71L351.65,44.72L351.75,44.73L351.85,44.74L351.95,44.75L352.00,44.76L352.05,44.77L352.15,44.78L352.25,44.79L352.35,44.81L352.45,44.82L352.55,44.84L352.65,44.85L352.75,44.87L352.85,44.89L352.95,44.90L353.00,44.91L353.05,44.92L353.15,44.94L353.25,44.96L353.35,44.98L353.45,45.00L353.55,45.02L353.65,45.04L353.75,45.06L353.85,45.08L353.95,45.10L354.00,45.11L354.05,45.12L354.15,45.15L354.25,45.17L354.35,45.19L354.45,45.22L354.55,45.24L354.65,45.27L354.75,45.30L354.85,45.32L354.95,45.35L355.00,45.37L355.05,45.38L355.15,45.41L355.25,45.44L355.35,45.47L355.45,45.50L355.55,45.53L355.65,45.56L355.75,45.60L355.85,45.63L355.95,45.66L356.00,45.68L356.05,45.70L356.15,45.73L356.25,45.77L356.35,45.81L356.45,45.85L356.55,45.88L356.65,45.92L356.75,45.96L356.85,46.00L356.95,46.04L357.00,46.06L357.05,46.09L357.15,46.13L357.25,46.17L357.35,46.22L357.45,46.26L357.55,46.31L357.65,46.35L357.75,46.40L357.85,46.45L357.95,46.50L358.00,46.52L358.05,46.55L358.15,46.60L358.25,46.65L358.35,46.70L358.45,46.76L358.55,46.81L358.65,46.87L358.75,46.92L358.85,46.98L358.95,47.04L359.00,47.07L359.05,47.10L359.15,47.16L359.25,47.22L359.35,47.28L359.45,47.34L359.55,47.41L359.65,47.47L359.75,47.54L359.85,47.60L359.95,47.67L360.00,47.71L360.05,47.74L360.15,47.81L360.25,47.88L360.35,47.95L360.45,48.03L360.55,48.10L360.65,48.18L360.75,48.26L360.85,48.33L360.95,48.41L361.00,48.45L361.05,48.50L361.15,48.58L361.25,48.66L361.35,48.75L361.45,48.83L361.55,48.92L361.65,49.01L361.75,49.10L361.85,49.19L361.95,49.28L362.00,49.33L362.05,49.38L362.15,49.47L362.25,49.57L362.35,49.67L362.45,49.77L362.55,49.87L362.65,49.97L362.75,50.08L362.85,50.18L362.95,50.29L363.00,50.35L363.05,50.40L363.15,50.51L363.25,50.62L363.35,50.74L363.45,50.86L363.55,50.97L363.65,51.09L363.75,51.22L363.85,51.34L363.95,51.46L364.00,51.53L364.05,51.59L364.15,51.72L364.25,51.85L364.35,51.99L364.45,52.12L364.55,52.26L364.65,52.40L364.75,52.54L364.85,52.69L364.95,52.83L365.00,52.91L365.05,52.98L365.15,53.13L365.25,53.28L365.35,53.44L365.45,53.60L365.55,53.76L365.65,53.92L365.75,54.08L365.85,54.25L365.95,54.42L366.00,54.51L366.05,54.60L366.15,54.77L366.25,54.95L366.35,55.13L366.45,55.32L366.55,55.50L366.65,55.69L366.75,55.89L366.85,56.08L366.95,56.28L367.00,56.38L367.05,56.48L367.15,56.69L367.25,56.90L367.35,57.11L367.45,57.32L367.55,57.54L367.65,57.77L367.75,57.99L367.85,58.22L367.95,58.46L368.00,58.57L368.05,58.69L368.15,58.93L368.25,59.18L368.35,59.43L368.45,59.68L368.55,59.94L368.65,60.20L368.75,60.46L368.85,60.74L368.95,61.01L369.00,61.15L369.05,61.29L369.15,61.57L369.25,61.86L369.35,62.16L369.45,62.45L369.55,62.76L369.65,63.07L369.75,63.38L369.85,63.70L369.95,64.02L370.00,64.19L370.05,64.35L370.15,64.69L370.25,65.03L370.35,65.38L370.45,65.73L370.55,66.09L370.65,66.46L370.75,66.83L370.85,67.21L370.95,67.60L371.00,67.79L371.05,67.99L371.15,68.39L371.25,68.80L371.35,69.21L371.45,69.64L371.55,70.07L371.65,70.50L371.75,70.95L371.85,71.40L371.95,71.87L372.00,72.10L372.05,72.34L372.15,72.82L372.25,73.30L372.35,73.80L372.45,74.31L372.55,74.83L372.65,75.35L372.75,75.89L372.85,76.44L372.95,76.99L373.00,77.28L373.05,77.56L373.15,78.14L373.25,78.73L373.35,79.33L373.45,79.95L373.55,80.57L373.65,81.21L373.75,81.86L373.85,82.53L373.95,83.20L374.00,83.55L374.05,83.90L374.15,84.60L374.25,85.32L374.35,86.06L374.45,86.80L374.55,87.57L374.65,88.35L374.75,89.15L374.85,89.96L374.95,90.79L375.00,91.21L375.05,91.64L375.15,92.51L375.25,93.39L375.35,94.30L375.45,95.22L375.55,96.16L375.65,97.13L375.75,98.11L375.85,99.12L375.95,100.15L376.00,100.67L376.05,101.20L376.15,102.27L376.25,103.37L376.35,104.49L376.45,105.64L376.55,106.82L376.65,108.02L376.75,109.25L376.85,110.51L376.95,111.79L377.00,112.45L377.05,113.11L377.15,114.45L377.25,115.83L377.35,117.24L377.45,118.69L377.55,120.16L377.65,121.68L377.75,123.22L377.85,124.81L377.95,126.43L378.00,127.26L378.05,128.10L378.15,129.80L378.25,131.54L378.35,133.33L378.45,135.16L378.55,137.03L378.65,138.95L378.75,140.92L378.85,142.94L378.95,145.00L379.00,146.06L379.05,147.12L379.15,149.29L379.25,151.51L379.35,153.79L379.45,156.13L379.55,158.52L379.65,160.98L379.75,163.49L379.85,166.07L379.95,168.72L380.00,170.06L380.05,171.43L380.15,174.20L380.25,177.05L380.35,179.97L380.45,182.95L380.55,186.02L380.65,189.16L380.75,192.37L380.85,195.67L380.95,199.04L381.00,200.76L381.05,202.50L381.15,206.04L381.25,209.67L381.35,213.38L381.45,217.17L381.55,221.06L381.65,225.03L381.75,229.10L381.85,233.25L381.95,237.50L382.00,239.66L382.05,241.84L382.15,246.27L382.25,250.79L382.35,255.40L382.45,260.10L382.55,264.89L382.65,269.77L382.75,274.74L382.85,279.79L382.95,284.92L383.00,287.51L383.05,290.13L383.15,295.41L383.25,300.77L383.35,306.19L383.45,311.67L383.55,317.21L383.65,322.79L383.75,328.42L383.85,334.08L383.95,339.76L384.00,342.60L384.05,345.45L384.15,351.15L384.25,356.84L384.35,362.51L384.45,368.15L384.55,373.74L384.65,379.27L384.75,384.72L384.85,390.08L384.95,395.33L385.00,397.91L385.05,400.46L385.15,405.45L385.25,410.27L385.35,414.92L385.45,419.37L385.55,423.61L385.65,427.62L385.75,431.38L385.85,434.87L385.95,438.09L386.00,439.59L386.05,441.01L386.15,443.63L386.25,445.92L386.35,447.88L386.45,449.49L386.55,450.76L386.65,451.67L386.75,452.22L386.85,452.40L386.95,452.22L387.00,451.99L387.05,451.67L387.15,450.76L387.25,449.49L387.35,447.88L387.45,445.92L387.55,443.63L387.65,441.01L387.75,438.09L387.85,434.87L387.95,431.38L388.00,429.53L388.05,427.61L388.15,423.60L388.25,419.36L388.35,414.91L388.45,410.26L388.55,405.44L388.65,400.45L388.75,395.32L388.85,390.07L388.95,384.70L389.00,381.99L389.05,379.25L389.15,373.72L389.25,368.12L389.35,362.48L389.45,356.81L389.55,351.12L389.65,345.42L389.75,339.72L389.85,334.03L389.95,328.37L390.00,325.55L390.05,322.74L390.15,317.16L390.25,311.62L390.35,306.13L390.45,300.70L390.55,295.34L390.65,290.06L390.75,284.84L390.85,279.71L390.95,274.65L391.00,272.16L391.05,269.68L391.15,264.80L391.25,260.00L391.35,255.29L391.45,250.68L391.55,246.15L391.65,241.72L391.75,237.38L391.85,233.12L391.95,228.96L392.00,226.92L392.05,224.89L392.15,220.91L392.25,217.02L392.35,213.22L392.45,209.51L392.55,205.88L392.65,202.33L392.75,198.87L392.85,195.49L392.95,192.19L393.00,190.57L393.05,188.96L393.15,185.82L393.25,182.75L393.35,179.76L393.45,176.83L393.55,173.98L393.65,171.20L393.75,168.49L393.85,165.84L393.95,163.25L394.00,161.98L394.05,160.73L394.15,158.27L394.25,155.87L394.35,153.53L394.45,151.24L394.55,149.02L394.65,146.84L394.75,144.72L394.85,142.65L394.95,140.62L395.00,139.63L395.05,138.65L395.15,136.72L395.25,134.84L395.35,133.01L395.45,131.22L395.55,129.47L395.65,127.76L395.75,126.09L395.85,124.46L395.95,122.87L396.00,122.09L396.05,121.32L396.15,119.80L396.25,118.32L396.35,116.87L396.45,115.45L396.55,114.07L396.65,112.72L396.75,111.40L396.85,110.10L396.95,108.84L397.00,108.22L397.05,107.61L397.15,106.40L397.25,105.22L397.35,104.07L397.45,102.94L397.55,101.83L397.65,100.75L397.75,99.70L397.85,98.66L397.95,97.65L398.00,97.15L398.05,96.66L398.15,95.69L398.25,94.74L398.35,93.81L398.45,92.90L398.55,92.01L398.65,91.14L398.75,90.29L398.85,89.45L398.95,88.63L399.00,88.23L399.05,87.83L399.15,87.05L399.25,86.28L399.35,85.52L399.45,84.78L399.55,84.06L399.65,83.35L399.75,82.65L399.85,81.97L399.95,81.30L400.00,80.97L400.05,80.64L400.15,80.00L400.25,79.37L400.35,78.75L400.45,78.14L400.55,77.55L400.65,76.96L400.75,76.39L400.85,75.83L400.95,75.27L401.00,75.00L401.05,74.73L401.15,74.20L401.25,73.68L401.35,73.17L401.45,72.66L401.55,72.17L401.65,71.69L401.75,71.21L401.85,70.74L401.95,70.28L402.00,70.06L402.05,69.83L402.15,69.39L402.25,68.96L402.35,68.53L402.45,68.11L402.55,67.70L402.65,67.29L402.75,66.89L402.85,66.50L402.95,66.12L403.00,65.93L403.05,65.74L403.15,65.37L403.25,65.00L403.35,64.64L403.45,64.29L403.55,63.95L403.65,63.60L403.75,63.27L403.85,62.94L403.95,62.62L404.00,62.46L404.05,62.30L404.15,61.98L404.25,61.67L404.35,61.37L404.45,61.07L404.55,60.78L404.65,60.49L404.75,60.21L404.85,59.93L404.95,59.65L405.00,59.52L405.05,59.38L405.15,59.12L405.25,58.85L405.35,58.60L405.45,58.34L405.55,58.09L405.65,57.85L405.75,57.61L405.85,57.37L405.95,57.13L406.00,57.02L406.05,56.90L406.15,56.68L406.25,56.45L406.35,56.23L406.45,56.02L406.55,55.80L406.65,55.59L406.75,55.39L406.85,55.18L406.95,54.98L407.00,54.88L407.05,54.78L407.15,54.59L407.25,54.40L407.35,54.21L407.45,54.02L407.55,53.84L407.65,53.66L407.75,53.48L407.85,53.31L407.95,53.14L408.00,53.05L408.05,52.97L408.15,52.80L408.25,52.63L408.35,52.47L408.45,52.31L408.55,52.16L408.65,52.00L408.75,51.85L408.85,51.70L408.95,51.55L409.00,51.48L409.05,51.40L409.15,51.26L409.25,51.12L409.35,50.98L409.45,50.84L409.55,50.70L409.65,50.57L409.75,50.44L409.85,50.31L409.95,50.18L410.00,50.12L410.05,50.05L410.15,49.93L410.25,49.81L410.35,49.69L410.45,49.57L410.55,49.45L410.65,49.34L410.75,49.22L410.85,49.11L410.95,49.00L411.00,48.94L411.05,48.89L411.15,48.78L411.25,48.68L411.35,48.57L411.45,48.47L411.55,48.37L411.65,48.27L411.75,48.17L411.85,48.07L411.95,47.98L412.00,47.93L412.05,47.88L412.15,47.79L412.25,47.70L412.35,47.61L412.45,47.52L412.55,47.43L412.65,47.35L412.75,47.26L412.85,47.18L412.95,47.10L413.00,47.06L413.05,47.02L413.15,46.94L413.25,46.86L413.35,46.78L413.45,46.70L413.55,46.63L413.65,46.56L413.75,46.48L413.85,46.41L413.95,46.34L414.00,46.30L414.05,46.27L414.15,46.20L414.25,46.13L414.35,46.07L414.45,46.00L414.55,45.94L414.65,45.87L414.75,45.81L414.85,45.75L414.95,45.69L415.00,45.66L415.05,45.63L415.15,45.57L415.25,45.51L415.35,45.45L415.45,45.40L415.55,45.34L415.65,45.29L415.75,45.23L415.85,45.18L415.95,45.13L416.00,45.10L416.05,45.08L416.15,45.03L416.25,44.98L416.35,44.93L416.45,44.88L416.55,44.84L416.65,44.79L416.75,44.74L416.85,44.70L416.95,44.66L417.00,44.63L417.05,44.61L417.15,44.57L417.25,44.53L417.35,44.49L417.45,44.45L417.55,44.41L417.65,44.37L417.75,44.33L417.85,44.29L417.95,44.26L418.00,44.24L418.05,44.22L418.15,44.18L418.25,44.15L418.35,44.11L418.45,44.08L418.55,44.05L418.65,44.02L418.75,43.98L418.85,43.95L418.95,43.92L419.00,43.91L419.05,43.89L419.15,43.86L419.25,43.84L419.35,43.81L419.45,43.78L419.55,43.75L419.65,43.73L419.75,43.70L419.85,43.68L419.95,43.65L420.00,43.64L420.05,43.63L420.15,43.60L420.25,43.58L420.35,43.56L420.45,43.53L420.55,43.51L420.65,43.49L420.75,43.47L420.85,43.45L420.95,43.43L421.00,43.42L421.05,43.41L421.15,43.39L421.25,43.38L421.35,43.36L421.45,43.34L421.55,43.33L421.65,43.31L421.75,43.29L421.85,43.28L421.95,43.26L422.00,43.26L422.05,43.25L422.15,43.24L422.25,43.22L422.35,43.21L422.45,43.20L422.55,43.19L422.65,43.17L422.75,43.16L422.85,43.15L422.95,43.14L423.00,43.14L423.05,43.13L423.15,43.12L423.25,43.11L423.35,43.10L423.45,43.10L423.55,43.09L423.65,43.08L423.75,43.07L423.85,43.07L423.95,43.06L424.00,43.06L424.05,43.05L424.15,43.05L424.25,43.04L424.35,43.04L424.45,43.03L424.55,43.03L424.65,43.03L424.75,43.02L424.85,43.02L424.95,43.02L425.00,43.02L425.05,43.01L425.15,43.01L425.25,43.01L425.35,43.01L425.45,43.01L425.55,43.01L425.65,43.01L425.75,43.01L425.85,43.01L425.95,43.01L426.00,43.01L426.05,43.01L426.15,43.01L426.25,43.01L426.35,43.02L426.45,43.02L426.55,43.02L426.65,43.02L426.75,43.03L427.00,43.04L428.00,43.10L429.00,43.18L430.00,43.29L431.00,43.43L432.00,43.59L433.00,43.78L434.00,43.98L435.00,44.20L436.00,44.45L437.00,44.71L438.00,44.98L439.00,45.28L440.00,45.59L441.00,45.91L442.00,46.25L443.00,46.60L444.00,46.97L445.00,47.35L446.00,47.74L447.00,48.14L448.00,48.56L449.00,48.98L450.00,49.42L451.00,49.86L452.00,50.32L453.00,50.79L454.00,51.27L455.00,51.75L456.00,52.25L457.00,52.75L458.00,53.26L459.00,53.79L460.00,54.31L461.00,54.85L462.00,55.40L463.00,55.95L464.00,56.51L465.00,57.08L466.00,57.65L467.00,58.23L468.00,58.82L469.00,59.42L470.00,60.02L471.00,60.62L472.00,61.24L473.00,61.86L474.00,62.48L475.00,63.11L476.00,63.75L477.00,64.39L478.00,65.04L479.00,65.69L480.00,66.35L481.00,67.01L482.00,67.68L483.00,68.35L484.00,69.03L485.00,69.71L486.00,70.39L487.00,71.08L488.00,71.77L489.00,72.47L490.00,73.17L491.00,73.88L492.00,74.58L493.00,75.30L494.00,76.01L495.00,76.73L496.00,77.46L497.00,78.18L498.00,78.91L499.00,79.65L500.00,80.39L501.00,81.13L502.00,81.88L503.00,82.63L504.00,83.39L505.00,84.15L506.00,84.91L507.00,85.68L508.00,86.45L509.00,87.22L510.00,88.01L511.00,88.79L512.00,89.58L513.00,90.37L514.00,91.17L515.00,91.97L516.00,92.78L517.00,93.59L518.00,94.41L519.00,95.23L520.00,96.06L521.00,96.89L522.00,97.72L523.00,98.56L524.00,99.40L525.00,100.25L526.00,101.11L527.00,101.97L528.00,102.83L529.00,103.70L530.00,104.57L531.00,105.44L532.00,106.32L533.00,107.19L534.00,108.08L535.00,108.96L536.00,109.84L537.00,110.73L538.00,111.61L539.00,112.50L540.00,113.39L541.00,114.27L542.00,115.16L543.00,116.04L544.00,116.93L545.00,117.81L546.00,118.69L547.00,119.56L548.00,120.44L549.00,121.31L550.00,122.18L551.00,123.04L552.00,123.90L553.00,124.76L554.00,125.61L555.00,126.46L556.00,127.30L557.00,128.14L558.00,128.97L559.00,129.79L560.00,130.61L561.00,131.42L562.00,132.22L563.00,133.03L564.00,133.82L565.00,134.61L566.00,135.40L567.00,136.18L568.00,136.96L569.00,137.74L570.00,138.51L571.00,139.28L572.00,140.04L573.00,140.80L574.00,141.56L575.00,142.32L576.00,143.07L577.00,143.82L578.00,144.57L579.00,145.32L580.00,146.07L581.00,146.82L582.00,147.56L583.00,148.31L584.00,149.05L585.00,149.80L586.00,150.54L587.00,151.29L588.00,152.03L589.00,152.78L590.00,153.52L591.00,154.27L592.00,155.02L593.00,155.77L594.00,156.52L595.00,157.28L596.00,158.04L597.00,158.79L598.00,159.56L599.00,160.32L600.00,161.09L601.00,161.86L602.00,162.64L603.00,163.41L604.00,164.19L605.00,164.98L606.00,165.76L607.00,166.55L608.00,167.34L609.00,168.14L610.00,168.93L611.00,169.73L612.00,170.53L613.00,171.33L614.00,172.13L615.00,172.93L616.00,173.74L617.00,174.54L618.00,175.35L619.00,176.16L620.00,176.96L621.00,177.77L622.00,178.58L623.00,179.39L624.00,180.19L625.00,181.00L626.00,181.81L627.00,182.61L628.00,183.42L629.00,184.22L630.00,185.03L631.00,185.83L632.00,186.63L633.00,187.43L634.00,188.23L635.00,189.03L636.00,189.82L637.00,190.61L638.00,191.40L639.00,192.19L640.00,192.97L641.00,193.76L642.00,194.53L643.00,195.31L644.00,196.08L645.00,196.85L646.00,197.62L647.00,198.38L648.00,199.14L649.00,199.90L650.00,200.65L651.00,201.39L652.00,202.13L653.00,202.87L654.00,203.60L655.00,204.33L656.00,205.05L657.00,205.77L658.00,206.48L659.00,207.19L660.00,207.89L661.00,208.59L662.00,209.28L663.00,209.96L664.00,210.64L665.00,211.31L666.00,211.97L667.00,212.63L668.00,213.28L669.00,213.92L670.00,214.56L671.00,215.19L672.00,215.81L673.00,216.43L674.00,217.03L675.00,217.63L676.00,218.22L677.00,218.80L678.00,219.38L679.00,219.94L680.00,220.50L681.00,221.04L682.00,221.58L683.00,222.11" stroke="#1ba1de" stroke-width="3"/>
</g>
<!-- curves panel b -->
<g clip-path="url(#cpb)" fill="none">
<path d="M90.00,618.32L91.00,617.84L92.00,617.36L93.00,616.87L94.00,616.37L95.00,615.87L96.00,615.37L97.00,614.86L98.00,614.34L99.00,613.82L100.00,613.29L101.00,612.76L102.00,612.22L103.00,611.68L104.00,611.13L105.00,610.58L106.00,610.02L107.00,609.46L108.00,608.90L109.00,608.32L110.00,607.75L111.00,607.17L112.00,606.59L113.00,606.00L114.00,605.41L115.00,604.81L116.00,604.21L117.00,603.61L118.00,603.00L119.00,602.39L120.00,601.77L121.00,601.15L122.00,600.53L123.00,599.90L124.00,599.27L125.00,598.64L126.00,598.00L127.00,597.36L128.00,596.72L129.00,596.07L130.00,595.43L131.00,594.77L132.00,594.12L133.00,593.46L134.00,592.80L135.00,592.14L136.00,591.47L137.00,590.81L138.00,590.14L139.00,589.46L140.00,588.79L141.00,588.11L142.00,587.43L143.00,586.75L144.00,586.07L145.00,585.39L146.00,584.70L147.00,584.01L148.00,583.32L149.00,582.63L150.00,581.94L151.00,581.24L152.00,580.55L153.00,579.85L154.00,579.15L155.00,578.45L156.00,577.75L157.00,577.05L158.00,576.35L159.00,575.64L160.00,574.94L161.00,574.23L162.00,573.53L163.00,572.82L164.00,572.12L165.00,571.41L166.00,570.70L167.00,569.99L168.00,569.29L169.00,568.58L170.00,567.87L171.00,567.16L172.00,566.45L173.00,565.75L174.00,565.04L175.00,564.33L176.00,563.62L177.00,562.92L178.00,562.21L179.00,561.51L180.00,560.80L181.00,560.10L182.00,559.40L183.00,558.70L184.00,557.99L185.00,557.29L186.00,556.60L187.00,555.90L188.00,555.20L189.00,554.51L190.00,553.81L191.00,553.12L192.00,552.43L193.00,551.74L194.00,551.06L195.00,550.37L196.00,549.69L197.00,549.01L198.00,548.33L199.00,547.65L200.00,546.97L201.00,546.30L202.00,545.63L203.00,544.96L204.00,544.30L205.00,543.63L206.00,542.97L207.00,542.32L208.00,541.66L209.00,541.01L210.00,540.36L211.00,539.71L212.00,539.07L213.00,538.43L214.00,537.79L215.00,537.16L216.00,536.53L217.00,535.90L218.00,535.28L219.00,534.66L220.00,534.04L221.00,533.43L222.00,532.82L223.00,532.21L224.00,531.61L225.00,531.01L226.00,530.42L227.00,529.83L228.00,529.25L229.00,528.67L230.00,528.09L231.00,527.52L232.00,526.95L233.00,526.39L234.00,525.83L235.00,525.27L236.00,524.72L237.00,524.17L238.00,523.63L239.00,523.09L240.00,522.56L241.00,522.02L242.00,521.50L243.00,520.97L244.00,520.45L245.00,519.94L246.00,519.43L247.00,518.92L248.00,518.41L249.00,517.91L250.00,517.41L251.00,516.92L252.00,516.43L253.00,515.94L254.00,515.46L255.00,514.98L256.00,514.51L257.00,514.04L258.00,513.57L259.00,513.10L260.00,512.64L261.00,512.19L262.00,511.73L263.00,511.28L264.00,510.84L265.00,510.40L266.00,509.96L267.00,509.52L268.00,509.09L269.00,508.66L270.00,508.24L271.00,507.82L272.00,507.40L273.00,506.99L274.00,506.58L275.00,506.18L276.00,505.77L277.00,505.38L278.00,504.98L279.00,504.59L280.00,504.20L281.00,503.82L282.00,503.44L283.00,503.07L284.00,502.69L285.00,502.32L286.00,501.96L287.00,501.60L288.00,501.24L289.00,500.89L290.00,500.54L291.00,500.19L292.00,499.85L293.00,499.51L294.00,499.17L295.00,498.84L296.00,498.52L297.00,498.19L298.00,497.87L299.00,497.55L300.00,497.24L301.00,496.93L302.00,496.63L303.00,496.32L304.00,496.03L305.00,495.73L306.00,495.44L307.00,495.15L308.00,494.87L309.00,494.59L310.00,494.31L311.00,494.04L312.00,493.77L313.00,493.51L314.00,493.25L315.00,492.99L316.00,492.74L317.00,492.49L318.00,492.24L319.00,492.00L320.00,491.76L321.00,491.52L322.00,491.29L323.00,491.07L324.00,490.84L325.00,490.62L326.00,490.40L327.00,490.19L328.00,489.98L329.00,489.78L330.00,489.58L331.00,489.38L332.00,489.18L333.00,488.99L334.00,488.81L335.00,488.62L336.00,488.44L337.00,488.27L338.00,488.10L339.00,487.93L340.00,487.76L341.00,487.60L342.00,487.45L343.00,487.29L344.00,487.14L345.00,487.00L346.00,486.86L346.85,486.74L346.95,486.73L347.00,486.72L347.05,486.71L347.15,486.70L347.25,486.68L347.35,486.67L347.45,486.66L347.55,486.64L347.65,486.63L347.75,486.62L347.85,486.60L347.95,486.59L348.00,486.58L348.05,486.58L348.15,486.56L348.25,486.55L348.35,486.54L348.45,486.52L348.55,486.51L348.65,486.50L348.75,486.49L348.85,486.47L348.95,486.46L349.00,486.45L349.05,486.45L349.15,486.43L349.25,486.42L349.35,486.41L349.45,486.40L349.55,486.38L349.65,486.37L349.75,486.36L349.85,486.35L349.95,486.33L350.00,486.33L350.05,486.32L350.15,486.31L350.25,486.30L350.35,486.28L350.45,486.27L350.55,486.26L350.65,486.25L350.75,486.23L350.85,486.22L350.95,486.21L351.00,486.20L351.05,486.20L351.15,486.18L351.25,486.17L351.35,486.16L351.45,486.15L351.55,486.14L351.65,486.12L351.75,486.11L351.85,486.10L351.95,486.09L352.00,486.08L352.05,486.08L352.15,486.07L352.25,486.05L352.35,486.04L352.45,486.03L352.55,486.02L352.65,486.01L352.75,486.00L352.85,485.98L352.95,485.97L353.00,485.97L353.05,485.96L353.15,485.95L353.25,485.94L353.35,485.93L353.45,485.92L353.55,485.91L353.65,485.89L353.75,485.88L353.85,485.87L353.95,485.86L354.00,485.86L354.05,485.85L354.15,485.84L354.25,485.83L354.35,485.82L354.45,485.81L354.55,485.80L354.65,485.78L354.75,485.77L354.85,485.76L354.95,485.75L355.00,485.75L355.05,485.74L355.15,485.73L355.25,485.72L355.35,485.71L355.45,485.70L355.55,485.69L355.65,485.68L355.75,485.67L355.85,485.66L355.95,485.65L356.00,485.64L356.05,485.64L356.15,485.63L356.25,485.62L356.35,485.61L356.45,485.60L356.55,485.59L356.65,485.58L356.75,485.57L356.85,485.56L356.95,485.55L357.00,485.54L357.05,485.54L357.15,485.53L357.25,485.52L357.35,485.51L357.45,485.50L357.55,485.49L357.65,485.48L357.75,485.47L357.85,485.46L357.95,485.45L358.00,485.44L358.05,485.44L358.15,485.43L358.25,485.42L358.35,485.41L358.45,485.40L358.55,485.39L358.65,485.38L358.75,485.37L358.85,485.37L358.95,485.36L359.00,485.35L359.05,485.35L359.15,485.34L359.25,485.33L359.35,485.32L359.45,485.31L359.55,485.30L359.65,485.29L359.75,485.28L359.85,485.28L359.95,485.27L360.00,485.26L360.05,485.26L360.15,485.25L360.25,485.24L360.35,485.23L360.45,485.22L360.55,485.21L360.65,485.21L360.75,485.20L360.85,485.19L360.95,485.18L361.00,485.18L361.05,485.17L361.15,485.16L361.25,485.16L361.35,485.15L361.45,485.14L361.55,485.13L361.65,485.12L361.75,485.11L361.85,485.11L361.95,485.10L362.00,485.09L362.05,485.09L362.15,485.08L362.25,485.07L362.35,485.07L362.45,485.06L362.55,485.05L362.65,485.04L362.75,485.03L362.85,485.03L362.95,485.02L363.00,485.02L363.05,485.01L363.15,485.00L363.25,485.00L363.35,484.99L363.45,484.98L363.55,484.97L363.65,484.97L363.75,484.96L363.85,484.95L363.95,484.94L364.00,484.94L364.05,484.94L364.15,484.93L364.25,484.92L364.35,484.92L364.45,484.91L364.55,484.90L364.65,484.89L364.75,484.89L364.85,484.88L364.95,484.87L365.00,484.87L365.05,484.87L365.15,484.86L365.25,484.85L365.35,484.85L365.45,484.84L365.55,484.83L365.65,484.83L365.75,484.82L365.85,484.81L365.95,484.81L366.00,484.80L366.05,484.80L366.15,484.79L366.25,484.79L366.35,484.78L366.45,484.77L366.55,484.77L366.65,484.76L366.75,484.76L366.85,484.75L366.95,484.74L367.00,484.74L367.05,484.74L367.15,484.73L367.25,484.72L367.35,484.72L367.45,484.71L367.55,484.71L367.65,484.70L367.75,484.69L367.85,484.69L367.95,484.68L368.00,484.68L368.05,484.68L368.15,484.67L368.25,484.67L368.35,484.66L368.45,484.65L368.55,484.65L368.65,484.64L368.75,484.64L368.85,484.63L368.95,484.63L369.00,484.62L369.05,484.62L369.15,484.62L369.25,484.61L369.35,484.61L369.45,484.60L369.55,484.59L369.65,484.59L369.75,484.58L369.85,484.58L369.95,484.57L370.00,484.57L370.05,484.57L370.15,484.56L370.25,484.56L370.35,484.55L370.45,484.55L370.55,484.54L370.65,484.54L370.75,484.54L370.85,484.53L370.95,484.53L371.00,484.52L371.05,484.52L371.15,484.52L371.25,484.51L371.35,484.51L371.45,484.50L371.55,484.50L371.65,484.49L371.75,484.49L371.85,484.49L371.95,484.48L372.00,484.48L372.05,484.48L372.15,484.47L372.25,484.47L372.35,484.46L372.45,484.46L372.55,484.46L372.65,484.45L372.75,484.45L372.85,484.44L372.95,484.44L373.00,484.44L373.05,484.44L373.15,484.43L373.25,484.43L373.35,484.42L373.45,484.42L373.55,484.42L373.65,484.41L373.75,484.41L373.85,484.41L373.95,484.40L374.00,484.40L374.05,484.40L374.15,484.40L374.25,484.39L374.35,484.39L374.45,484.39L374.55,484.38L374.65,484.38L374.75,484.38L374.85,484.37L374.95,484.37L375.00,484.37L375.05,484.37L375.15,484.36L375.25,484.36L375.35,484.36L375.45,484.35L375.55,484.35L375.65,484.35L375.75,484.35L375.85,484.34L375.95,484.34L376.00,484.34L376.05,484.34L376.15,484.33L376.25,484.33L376.35,484.33L376.45,484.33L376.55,484.32L376.65,484.32L376.75,484.32L376.85,484.32L376.95,484.31L377.00,484.31L377.05,484.31L377.15,484.31L377.25,484.31L377.35,484.30L377.45,484.30L377.55,484.30L377.65,484.30L377.75,484.30L377.85,484.29L377.95,484.29L378.00,484.29L378.05,484.29L378.15,484.29L378.25,484.29L378.35,484.28L378.45,484.28L378.55,484.28L378.65,484.28L378.75,484.28L378.85,484.27L378.95,484.27L379.00,484.27L379.05,484.27L379.15,484.27L379.25,484.27L379.35,484.27L379.45,484.26L379.55,484.26L379.65,484.26L379.75,484.26L379.85,484.26L379.95,484.26L380.00,484.26L380.05,484.26L380.15,484.26L380.25,484.25L380.35,484.25L380.45,484.25L380.55,484.25L380.65,484.25L380.75,484.25L380.85,484.25L380.95,484.25L381.00,484.25L381.05,484.25L381.15,484.25L381.25,484.24L381.35,484.24L381.45,484.24L381.55,484.24L381.65,484.24L381.75,484.24L381.85,484.24L381.95,484.24L382.00,484.24L382.05,484.24L382.15,484.24L382.25,484.24L382.35,484.24L382.45,484.24L382.55,484.24L382.65,484.24L382.75,484.24L382.85,484.24L382.95,484.24L383.00,484.24L383.05,484.24L383.15,484.24L383.25,484.24L383.35,484.24L383.45,484.24L383.55,484.24L383.65,484.24L383.75,484.24L383.85,484.24L383.95,484.24L384.00,484.24L384.05,484.24L384.15,484.24L384.25,484.24L384.35,484.24L384.45,484.24L384.55,484.24L384.65,484.24L384.75,484.24L384.85,484.24L384.95,484.24L385.00,484.24L385.05,484.24L385.15,484.24L385.25,484.24L385.35,484.24L385.45,484.24L385.55,484.24L385.65,484.25L385.75,484.25L385.85,484.25L385.95,484.25L386.00,484.25L386.05,484.25L386.15,484.25L386.25,484.25L386.35,484.25L386.45,484.25L386.55,484.25L386.65,484.26L386.75,484.26L386.85,484.26L386.95,484.26L387.00,484.26L387.05,484.26L387.15,484.26L387.25,484.26L387.35,484.27L387.45,484.27L387.55,484.27L387.65,484.27L387.75,484.27L387.85,484.27L387.95,484.28L388.00,484.28L388.05,484.28L388.15,484.28L388.25,484.28L388.35,484.28L388.45,484.28L388.55,484.29L388.65,484.29L388.75,484.29L388.85,484.29L388.95,484.29L389.00,484.30L389.05,484.30L389.15,484.30L389.25,484.30L389.35,484.30L389.45,484.31L389.55,484.31L389.65,484.31L389.75,484.31L389.85,484.31L389.95,484.32L390.00,484.32L390.05,484.32L390.15,484.32L390.25,484.32L390.35,484.33L390.45,484.33L390.55,484.33L390.65,484.34L390.75,484.34L390.85,484.34L390.95,484.34L391.00,484.34L391.05,484.35L391.15,484.35L391.25,484.35L391.35,484.36L391.45,484.36L391.55,484.36L391.65,484.36L391.75,484.37L391.85,484.37L391.95,484.37L392.00,484.38L392.05,484.38L392.15,484.38L392.25,484.38L392.35,484.39L392.45,484.39L392.55,484.39L392.65,484.40L392.75,484.40L392.85,484.40L392.95,484.41L393.00,484.41L393.05,484.41L393.15,484.42L393.25,484.42L393.35,484.42L393.45,484.43L393.55,484.43L393.65,484.43L393.75,484.44L393.85,484.44L393.95,484.45L394.00,484.45L394.05,484.45L394.15,484.45L394.25,484.46L394.35,484.46L394.45,484.47L394.55,484.47L394.65,484.47L394.75,484.48L394.85,484.48L394.95,484.49L395.00,484.49L395.05,484.49L395.15,484.50L395.25,484.50L395.35,484.51L395.45,484.51L395.55,484.51L395.65,484.52L395.75,484.52L395.85,484.53L395.95,484.53L396.00,484.54L396.05,484.54L396.15,484.54L396.25,484.55L396.35,484.55L396.45,484.56L396.55,484.56L396.65,484.57L396.75,484.57L396.85,484.58L396.95,484.58L397.00,484.58L397.05,484.59L397.15,484.59L397.25,484.60L397.35,484.60L397.45,484.61L397.55,484.61L397.65,484.62L397.75,484.62L397.85,484.63L397.95,484.64L398.00,484.64L398.05,484.64L398.15,484.65L398.25,484.65L398.35,484.66L398.45,484.66L398.55,484.67L398.65,484.67L398.75,484.68L398.85,484.69L398.95,484.69L399.00,484.69L399.05,484.70L399.15,484.70L399.25,484.71L399.35,484.72L399.45,484.72L399.55,484.73L399.65,484.73L399.75,484.74L399.85,484.75L399.95,484.75L400.00,484.76L400.05,484.76L400.15,484.77L400.25,484.77L400.35,484.78L400.45,484.78L400.55,484.79L400.65,484.80L400.75,484.80L400.85,484.81L400.95,484.82L401.00,484.82L401.05,484.82L401.15,484.83L401.25,484.84L401.35,484.84L401.45,484.85L401.55,484.86L401.65,484.86L401.75,484.87L401.85,484.88L401.95,484.88L402.00,484.89L402.05,484.89L402.15,484.90L402.25,484.91L402.35,484.91L402.45,484.92L402.55,484.93L402.65,484.93L402.75,484.94L402.85,484.95L402.95,484.96L403.00,484.96L403.05,484.96L403.15,484.97L403.25,484.98L403.35,484.99L403.45,484.99L403.55,485.00L403.65,485.01L403.75,485.02L403.85,485.02L403.95,485.03L404.00,485.04L404.05,485.04L404.15,485.05L404.25,485.06L404.35,485.06L404.45,485.07L404.55,485.08L404.65,485.09L404.75,485.10L404.85,485.10L404.95,485.11L405.00,485.12L405.05,485.12L405.15,485.13L405.25,485.14L405.35,485.14L405.45,485.15L405.55,485.16L405.65,485.17L405.75,485.18L405.85,485.19L405.95,485.19L406.00,485.20L406.05,485.20L406.15,485.21L406.25,485.22L406.35,485.23L406.45,485.24L406.55,485.25L406.65,485.25L406.75,485.26L406.85,485.27L406.95,485.28L407.00,485.29L407.05,485.29L407.15,485.30L407.25,485.31L407.35,485.32L407.45,485.33L407.55,485.33L407.65,485.34L407.75,485.35L407.85,485.36L407.95,485.37L408.00,485.38L408.05,485.38L408.15,485.39L408.25,485.40L408.35,485.41L408.45,485.42L408.55,485.43L408.65,485.44L408.75,485.45L408.85,485.46L408.95,485.47L409.00,485.47L409.05,485.47L409.15,485.48L409.25,485.49L409.35,485.50L409.45,485.51L409.55,485.52L409.65,485.53L409.75,485.54L409.85,485.55L409.95,485.56L410.00,485.57L410.05,485.57L410.15,485.58L410.25,485.59L410.35,485.60L410.45,485.61L410.55,485.62L410.65,485.63L410.75,485.64L410.85,485.65L410.95,485.66L411.00,485.67L411.05,485.67L411.15,485.68L411.25,485.70L411.35,485.71L411.45,485.72L411.55,485.73L411.65,485.74L411.75,485.75L411.85,485.76L411.95,485.77L412.00,485.77L412.05,485.78L412.15,485.79L412.25,485.80L412.35,485.81L412.45,485.82L412.55,485.83L412.65,485.84L412.75,485.86L412.85,485.87L412.95,485.88L413.00,485.88L413.05,485.89L413.15,485.90L413.25,485.91L413.35,485.92L413.45,485.93L413.55,485.94L413.65,485.96L413.75,485.97L413.85,485.98L413.95,485.99L414.00,485.99L414.05,486.00L414.15,486.01L414.25,486.02L414.35,486.03L414.45,486.05L414.55,486.06L414.65,486.07L414.75,486.08L414.85,486.09L414.95,486.10L415.00,486.11L415.05,486.12L415.15,486.13L415.25,486.14L415.35,486.15L415.45,486.16L415.55,486.18L415.65,486.19L415.75,486.20L415.85,486.21L415.95,486.22L416.00,486.23L416.05,486.24L416.15,486.25L416.25,486.26L416.35,486.27L416.45,486.28L416.55,486.30L416.65,486.31L416.75,486.32L416.85,486.33L416.95,486.35L417.00,486.35L417.05,486.36L417.15,486.37L417.25,486.38L417.35,486.40L417.45,486.41L417.55,486.42L417.65,486.43L417.75,486.45L417.85,486.46L417.95,486.47L418.00,486.48L418.05,486.49L418.15,486.50L418.25,486.51L418.35,486.52L418.45,486.54L418.55,486.55L418.65,486.56L418.75,486.58L418.85,486.59L418.95,486.60L419.00,486.61L419.05,486.62L419.15,486.63L419.25,486.64L419.35,486.65L419.45,486.67L419.55,486.68L419.65,486.69L419.75,486.71L419.85,486.72L419.95,486.74L420.00,486.74L420.05,486.75L420.15,486.76L420.25,486.78L420.35,486.79L420.45,486.80L420.55,486.82L420.65,486.83L420.75,486.84L420.85,486.86L420.95,486.87L421.00,486.88L421.05,486.89L421.15,486.90L421.25,486.91L421.35,486.93L421.45,486.94L421.55,486.96L421.65,486.97L421.75,486.98L421.85,487.00L421.95,487.01L422.00,487.02L422.05,487.03L422.15,487.04L422.25,487.05L422.35,487.07L422.45,487.08L422.55,487.10L422.65,487.11L422.75,487.13L422.85,487.14L422.95,487.16L423.00,487.16L423.05,487.17L423.15,487.18L423.25,487.20L423.35,487.21L423.45,487.23L423.55,487.24L423.65,487.26L423.75,487.27L423.85,487.29L423.95,487.30L424.00,487.31L424.05,487.32L424.15,487.33L424.25,487.35L424.35,487.36L424.45,487.38L424.55,487.39L424.65,487.41L424.75,487.42L424.85,487.44L424.95,487.45L425.00,487.46L425.05,487.47L425.15,487.48L425.25,487.50L425.35,487.51L425.45,487.53L425.55,487.54L425.65,487.56L425.75,487.58L425.85,487.59L425.95,487.61L426.00,487.61L426.05,487.62L426.15,487.64L426.25,487.65L426.35,487.67L426.45,487.68L426.55,487.70L426.65,487.72L426.75,487.73L427.00,487.77L428.00,487.93L429.00,488.10L430.00,488.26L431.00,488.43L432.00,488.61L433.00,488.78L434.00,488.97L435.00,489.15L436.00,489.34L437.00,489.53L438.00,489.72L439.00,489.92L440.00,490.12L441.00,490.32L442.00,490.53L443.00,490.73L444.00,490.95L445.00,491.16L446.00,491.38L447.00,491.60L448.00,491.83L449.00,492.06L450.00,492.29L451.00,492.52L452.00,492.76L453.00,493.00L454.00,493.24L455.00,493.48L456.00,493.73L457.00,493.99L458.00,494.24L459.00,494.50L460.00,494.76L461.00,495.02L462.00,495.29L463.00,495.56L464.00,495.83L465.00,496.10L466.00,496.38L467.00,496.66L468.00,496.94L469.00,497.23L470.00,497.52L471.00,497.81L472.00,498.10L473.00,498.40L474.00,498.70L475.00,499.00L476.00,499.30L477.00,499.61L478.00,499.92L479.00,500.23L480.00,500.54L481.00,500.86L482.00,501.18L483.00,501.50L484.00,501.83L485.00,502.16L486.00,502.49L487.00,502.82L488.00,503.15L489.00,503.49L490.00,503.83L491.00,504.17L492.00,504.52L493.00,504.86L494.00,505.21L495.00,505.56L496.00,505.92L497.00,506.27L498.00,506.63L499.00,506.99L500.00,507.36L501.00,507.72L502.00,508.09L503.00,508.46L504.00,508.83L505.00,509.21L506.00,509.58L507.00,509.96L508.00,510.34L509.00,510.73L510.00,511.11L511.00,511.50L512.00,511.89L513.00,512.28L514.00,512.67L515.00,513.07L516.00,513.46L517.00,513.86L518.00,514.27L519.00,514.67L520.00,515.07L521.00,515.48L522.00,515.89L523.00,516.30L524.00,516.72L525.00,517.13L526.00,517.55L527.00,517.97L528.00,518.39L529.00,518.81L530.00,519.23L531.00,519.66L532.00,520.09L533.00,520.52L534.00,520.95L535.00,521.38L536.00,521.82L537.00,522.26L538.00,522.69L539.00,523.13L540.00,523.58L541.00,524.02L542.00,524.46L543.00,524.91L544.00,525.36L545.00,525.81L546.00,526.26L547.00,526.71L548.00,527.17L549.00,527.62L550.00,528.08L551.00,528.54L552.00,529.00L553.00,529.46L554.00,529.93L555.00,530.39L556.00,530.86L557.00,531.33L558.00,531.80L559.00,532.27L560.00,532.74L561.00,533.21L562.00,533.69L563.00,534.16L564.00,534.64L565.00,535.12L566.00,535.60L567.00,536.08L568.00,536.56L569.00,537.05L570.00,537.53L571.00,538.02L572.00,538.51L573.00,538.99L574.00,539.48L575.00,539.97L576.00,540.47L577.00,540.96L578.00,541.45L579.00,541.95L580.00,542.45L581.00,542.94L582.00,543.44L583.00,543.94L584.00,544.44L585.00,544.94L586.00,545.44L587.00,545.95L588.00,546.45L589.00,546.96L590.00,547.46L591.00,547.97L592.00,548.48L593.00,548.99L594.00,549.50L595.00,550.01L596.00,550.52L597.00,551.03L598.00,551.54L599.00,552.06L600.00,552.57L601.00,553.09L602.00,553.60L603.00,554.12L604.00,554.64L605.00,555.16L606.00,555.67L607.00,556.19L608.00,556.71L609.00,557.23L610.00,557.76L611.00,558.28L612.00,558.80L613.00,559.32L614.00,559.85L615.00,560.37L616.00,560.90L617.00,561.42L618.00,561.95L619.00,562.47L620.00,563.00L621.00,563.53L622.00,564.05L623.00,564.58L624.00,565.11L625.00,565.64L626.00,566.17L627.00,566.70L628.00,567.23L629.00,567.76L630.00,568.29L631.00,568.82L632.00,569.35L633.00,569.88L634.00,570.41L635.00,570.94L636.00,571.48L637.00,572.01L638.00,572.54L639.00,573.07L640.00,573.61L641.00,574.14L642.00,574.67L643.00,575.21L644.00,575.74L645.00,576.27L646.00,576.81L647.00,577.34L648.00,577.87L649.00,578.41L650.00,578.94L651.00,579.47L652.00,580.01L653.00,580.54L654.00,581.07L655.00,581.61L656.00,582.14L657.00,582.67L658.00,583.21L659.00,583.74L660.00,584.27L661.00,584.80L662.00,585.34L663.00,585.87L664.00,586.40L665.00,586.93L666.00,587.47L667.00,588.00L668.00,588.53L669.00,589.06L670.00,589.59L671.00,590.12L672.00,590.65L673.00,591.18L674.00,591.71L675.00,592.24L676.00,592.77L677.00,593.29L678.00,593.82L679.00,594.35L680.00,594.88L681.00,595.40L682.00,595.93L683.00,596.45" stroke="#0c9a4b" stroke-width="3" stroke-dasharray="11 15" stroke-linecap="round"/>
<path d="M90.00,488.68L91.00,488.70L92.00,488.73L93.00,488.75L94.00,488.78L95.00,488.80L96.00,488.83L97.00,488.85L98.00,488.88L99.00,488.91L100.00,488.93L101.00,488.96L102.00,488.99L103.00,489.01L104.00,489.04L105.00,489.07L106.00,489.10L107.00,489.13L108.00,489.15L109.00,489.18L110.00,489.21L111.00,489.24L112.00,489.27L113.00,489.30L114.00,489.33L115.00,489.36L116.00,489.39L117.00,489.43L118.00,489.46L119.00,489.49L120.00,489.52L121.00,489.55L122.00,489.59L123.00,489.62L124.00,489.65L125.00,489.69L126.00,489.72L127.00,489.76L128.00,489.79L129.00,489.83L130.00,489.86L131.00,489.90L132.00,489.94L133.00,489.98L134.00,490.01L135.00,490.05L136.00,490.09L137.00,490.13L138.00,490.17L139.00,490.21L140.00,490.25L141.00,490.29L142.00,490.33L143.00,490.37L144.00,490.41L145.00,490.45L146.00,490.50L147.00,490.54L148.00,490.58L149.00,490.63L150.00,490.67L151.00,490.72L152.00,490.77L153.00,490.81L154.00,490.86L155.00,490.91L156.00,490.96L157.00,491.00L158.00,491.05L159.00,491.10L160.00,491.15L161.00,491.21L162.00,491.26L163.00,491.31L164.00,491.36L165.00,491.42L166.00,491.47L167.00,491.53L168.00,491.58L169.00,491.64L170.00,491.70L171.00,491.76L172.00,491.81L173.00,491.87L174.00,491.93L175.00,492.00L176.00,492.06L177.00,492.12L178.00,492.18L179.00,492.25L180.00,492.31L181.00,492.38L182.00,492.45L183.00,492.52L184.00,492.58L185.00,492.65L186.00,492.73L187.00,492.80L188.00,492.87L189.00,492.94L190.00,493.02L191.00,493.10L192.00,493.17L193.00,493.25L194.00,493.33L195.00,493.41L196.00,493.49L197.00,493.58L198.00,493.66L199.00,493.75L200.00,493.83L201.00,493.92L202.00,494.01L203.00,494.10L204.00,494.19L205.00,494.28L206.00,494.38L207.00,494.48L208.00,494.57L209.00,494.67L210.00,494.77L211.00,494.88L212.00,494.98L213.00,495.09L214.00,495.19L215.00,495.30L216.00,495.41L217.00,495.53L218.00,495.64L219.00,495.76L220.00,495.88L221.00,496.00L222.00,496.12L223.00,496.24L224.00,496.37L225.00,496.50L226.00,496.63L227.00,496.76L228.00,496.90L229.00,497.04L230.00,497.18L231.00,497.32L232.00,497.47L233.00,497.61L234.00,497.77L235.00,497.92L236.00,498.08L237.00,498.23L238.00,498.40L239.00,498.56L240.00,498.73L241.00,498.90L242.00,499.08L243.00,499.26L244.00,499.44L245.00,499.62L246.00,499.81L247.00,500.00L248.00,500.20L249.00,500.40L250.00,500.61L251.00,500.81L252.00,501.03L253.00,501.24L254.00,501.47L255.00,501.69L256.00,501.92L257.00,502.16L258.00,502.40L259.00,502.65L260.00,502.90L261.00,503.16L262.00,503.42L263.00,503.69L264.00,503.96L265.00,504.24L266.00,504.53L267.00,504.82L268.00,505.12L269.00,505.43L270.00,505.75L271.00,506.07L272.00,506.40L273.00,506.73L274.00,507.08L275.00,507.43L276.00,507.80L277.00,508.17L278.00,508.55L279.00,508.94L280.00,509.34L281.00,509.75L282.00,510.17L283.00,510.61L284.00,511.05L285.00,511.50L286.00,511.97L287.00,512.45L288.00,512.95L289.00,513.45L290.00,513.97L291.00,514.51L292.00,515.06L293.00,515.63L294.00,516.21L295.00,516.81L296.00,517.42L297.00,518.06L298.00,518.71L299.00,519.38L300.00,520.08L301.00,520.79L302.00,521.53L303.00,522.29L304.00,523.08L305.00,523.88L306.00,524.72L307.00,525.58L308.00,526.47L309.00,527.39L310.00,528.34L311.00,529.33L312.00,530.34L313.00,531.40L314.00,532.48L315.00,533.61L316.00,534.78L317.00,535.99L318.00,537.24L319.00,538.54L320.00,539.89L321.00,541.28L322.00,542.73L323.00,544.24L324.00,545.81L325.00,547.43L326.00,549.12L327.00,550.88L328.00,552.71L329.00,554.61L330.00,556.59L331.00,558.66L332.00,560.81L333.00,563.05L334.00,565.39L335.00,567.83L336.00,570.38L337.00,573.04L338.00,575.82L339.00,578.73L340.00,581.77L341.00,584.95L342.00,588.27L343.00,591.75L344.00,595.40L345.00,599.21L346.00,603.21L346.85,606.76L346.95,607.19L347.00,607.41L347.05,607.62L347.15,608.05L347.25,608.48L347.35,608.92L347.45,609.36L347.55,609.80L347.65,610.24L347.75,610.68L347.85,611.13L347.95,611.58L348.00,611.80L348.05,612.03L348.15,612.48L348.25,612.93L348.35,613.39L348.45,613.85L348.55,614.31L348.65,614.77L348.75,615.24L348.85,615.70L348.95,616.17L349.00,616.41L349.05,616.64L349.15,617.12L349.25,617.59L349.35,618.07L349.45,618.55L349.55,619.04L349.65,619.52L349.75,620.01L349.85,620.50L349.95,620.99L350.00,621.24L350.05,621.49L350.15,621.99L350.25,622.49L350.35,622.99L350.45,623.49L350.55,624.00L350.65,624.51L350.75,625.02L350.85,625.53L350.95,626.05L351.00,626.31L351.05,626.57L351.15,627.09L351.25,627.62L351.35,628.14L351.45,628.67L351.55,629.20L351.65,629.74L351.75,630.27L351.85,630.81L351.95,631.35L352.00,631.63L352.05,631.90L352.15,632.45L352.25,633.00L352.35,633.55L352.45,634.10L352.55,634.66L352.65,635.22L352.75,635.78L352.85,636.35L352.95,636.92L353.00,637.20L353.05,637.49L353.15,638.06L353.25,638.64L353.35,639.22L353.45,639.80L353.55,640.39L353.65,640.97L353.75,641.57L353.85,642.16L353.95,642.75L354.00,643.05L354.05,643.35L354.15,643.96L354.25,644.56L354.35,645.17L354.45,645.78L354.55,646.39L354.65,647.01L354.75,647.63L354.85,648.25L354.95,648.88L355.00,649.19L355.05,649.50L355.15,650.13L355.25,650.77L355.35,651.41L355.45,652.05L355.55,652.69L355.65,653.34L355.75,653.99L355.85,654.64L355.95,655.29L356.00,655.62L356.05,655.95L356.15,656.61L356.25,657.28L356.35,657.95L356.45,658.62L356.55,659.29L356.65,659.97L356.75,660.65L356.85,661.33L356.95,662.02L357.00,662.37L357.05,662.71L357.15,663.40L357.25,664.10L357.35,664.80L357.45,665.50L357.55,666.21L357.65,666.92L357.75,667.63L357.85,668.35L357.95,669.07L358.00,669.43L358.05,669.79L358.15,670.52L358.25,671.25L358.35,671.98L358.45,672.72L358.55,673.46L358.65,674.20L358.75,674.95L358.85,675.70L358.95,676.45L359.00,676.83L359.05,677.21L359.15,677.97L359.25,678.73L359.35,679.50L359.45,680.27L359.55,681.04L359.65,681.82L359.75,682.60L359.85,683.39L359.95,684.17L360.00,684.57L360.05,684.97L360.15,685.76L360.25,686.56L360.35,687.36L360.45,688.17L360.55,688.98L360.65,689.79L360.75,690.61L360.85,691.43L360.95,692.25L361.00,692.66L361.05,693.08L361.15,693.91L361.25,694.74L361.35,695.58L361.45,696.42L361.55,697.26L361.65,698.11L361.75,698.97L361.85,699.82L361.95,700.68L362.00,701.11L362.05,701.54L362.15,702.41L362.25,703.28L362.35,704.15L362.45,705.03L362.55,705.91L362.65,706.80L362.75,707.69L362.85,708.58L362.95,709.47L363.00,709.92L363.05,710.37L363.15,711.28L363.25,712.18L363.35,713.09L363.45,714.01L363.55,714.93L363.65,715.85L363.75,716.77L363.85,717.70L363.95,718.63L364.00,719.10L364.05,719.57L364.15,720.51L364.25,721.45L364.35,722.40L364.45,723.35L364.55,724.30L364.65,725.26L364.75,726.22L364.85,727.18L364.95,728.15L365.00,728.64L365.05,729.12L365.15,730.10L365.25,731.07L365.35,732.06L365.45,733.04L365.55,734.03L365.65,735.02L365.75,736.02L365.85,737.02L365.95,738.02L366.00,738.52L366.05,739.03L366.15,740.04L366.25,741.05L366.35,742.07L366.45,743.09L366.55,744.11L366.65,745.13L366.75,746.16L366.85,747.20L366.95,748.23L367.00,748.75L367.05,749.27L367.15,750.31L367.25,751.36L367.35,752.41L367.45,753.46L367.55,754.52L367.65,755.57L367.75,756.63L367.85,757.70L367.95,758.76L368.00,759.30L368.05,759.83L368.15,760.91L368.25,761.98L368.35,763.06L368.45,764.14L368.55,765.23L368.65,766.31L368.75,767.40L368.85,768.50L368.95,769.59L369.00,770.14L369.05,770.69L369.15,771.79L369.25,772.89L369.35,774.00L369.45,775.10L369.55,776.21L369.65,777.32L369.75,778.44L369.85,779.56L369.95,780.67L370.00,781.23L370.05,781.79L370.15,782.92L370.25,784.04L370.35,785.17L370.45,786.30L370.55,787.43L370.65,788.56L370.75,789.70L370.85,790.83L370.95,791.97L371.00,792.54L371.05,793.11L371.15,794.25L371.25,795.39L371.35,796.53L371.45,797.68L371.55,798.82L371.65,799.97L371.75,801.12L371.85,802.27L371.95,803.42L372.00,803.99L372.05,804.57L372.15,805.72L372.25,806.87L372.35,808.03L372.45,809.18L372.55,810.33L372.65,811.49L372.75,812.64L372.85,813.80L372.95,814.95L373.00,815.53L373.05,816.11L373.15,817.26L373.25,818.42L373.35,819.57L373.45,820.73L373.55,821.88L373.65,823.04L373.75,824.19L373.85,825.34L373.95,826.49L374.00,827.07L374.05,827.64L374.15,828.79L374.25,829.94L374.35,831.09L374.45,832.23L374.55,833.38L374.65,834.52L374.75,835.66L374.85,836.80L374.95,837.94L375.00,838.51L375.05,839.08L375.15,840.21L375.25,841.34L375.35,842.47L375.45,843.60L375.55,844.72L375.65,845.84L375.75,846.96L375.85,848.08L375.95,849.19L376.00,849.75L376.05,850.30L376.15,851.41L376.25,852.51L376.35,853.61L376.45,854.71L376.55,855.80L376.65,856.89L376.75,857.97L376.85,859.05L376.95,860.12L377.00,860.66L377.05,861.20L377.15,862.26L377.25,863.32L377.35,864.38L377.45,865.43L377.55,866.48L377.65,867.52L377.75,868.56L377.85,869.59L377.95,870.61L378.00,871.12L378.05,871.63L378.15,872.64L378.25,873.65L378.35,874.65L378.45,875.64L378.55,876.63L378.65,877.61L378.75,878.58L378.85,879.55L378.95,880.51L379.00,880.99L379.05,881.46L379.15,882.41L379.25,883.35L379.35,884.28L379.45,885.20L379.55,886.11L379.65,887.02L379.75,887.91L379.85,888.80L379.95,889.68L380.00,890.12L380.05,890.55L380.15,891.42L380.25,892.27L380.35,893.11L380.45,893.95L380.55,894.77L380.65,895.59L380.75,896.40L380.85,897.19L380.95,897.98L381.00,898.37L381.05,898.75L381.15,899.52L381.25,900.27L381.35,901.02L381.45,901.75L381.55,902.48L381.65,903.19L381.75,903.89L381.85,904.58L381.95,905.26L382.00,905.59L382.05,905.92L382.15,906.58L382.25,907.22L382.35,907.85L382.45,908.47L382.55,909.08L382.65,909.67L382.75,910.26L382.85,910.83L382.95,911.38L383.00,911.66L383.05,911.93L383.15,912.46L383.25,912.98L383.35,913.48L383.45,913.98L383.55,914.46L383.65,914.92L383.75,915.37L383.85,915.81L383.95,916.24L384.00,916.45L384.05,916.65L384.15,917.05L384.25,917.43L384.35,917.80L384.45,918.16L384.55,918.50L384.65,918.82L384.75,919.14L384.85,919.44L384.95,919.72L385.00,919.86L385.05,919.99L385.15,920.24L385.25,920.48L385.35,920.71L385.45,920.92L385.55,921.12L385.65,921.30L385.75,921.46L385.85,921.62L385.95,921.75L386.00,921.81L386.05,921.87L386.15,921.98L386.25,922.07L386.35,922.15L386.45,922.21L386.55,922.25L386.65,922.28L386.75,922.30L386.85,922.30L386.95,922.28L387.00,922.27L387.05,922.25L387.15,922.21L387.25,922.15L387.35,922.07L387.45,921.98L387.55,921.87L387.65,921.75L387.75,921.61L387.85,921.46L387.95,921.29L388.00,921.20L388.05,921.10L388.15,920.90L388.25,920.69L388.35,920.46L388.45,920.21L388.55,919.95L388.65,919.68L388.75,919.38L388.85,919.08L388.95,918.76L389.00,918.59L389.05,918.42L389.15,918.07L389.25,917.70L389.35,917.32L389.45,916.92L389.55,916.51L389.65,916.08L389.75,915.64L389.85,915.18L389.95,914.71L390.00,914.47L390.05,914.22L390.15,913.72L390.25,913.21L390.35,912.68L390.45,912.13L390.55,911.58L390.65,911.00L390.75,910.42L390.85,909.82L390.95,909.21L391.00,908.89L391.05,908.58L391.15,907.94L391.25,907.28L391.35,906.61L391.45,905.93L391.55,905.24L391.65,904.53L391.75,903.81L391.85,903.08L391.95,902.33L392.00,901.95L392.05,901.57L392.15,900.80L392.25,900.02L392.35,899.22L392.45,898.42L392.55,897.60L392.65,896.77L392.75,895.92L392.85,895.07L392.95,894.20L393.00,893.77L393.05,893.33L393.15,892.44L393.25,891.54L393.35,890.63L393.45,889.71L393.55,888.78L393.65,887.84L393.75,886.89L393.85,885.93L393.95,884.95L394.00,884.47L394.05,883.97L394.15,882.98L394.25,881.98L394.35,880.98L394.45,879.96L394.55,878.93L394.65,877.90L394.75,876.85L394.85,875.80L394.95,874.74L395.00,874.21L395.05,873.67L395.15,872.59L395.25,871.51L395.35,870.42L395.45,869.32L395.55,868.21L395.65,867.10L395.75,865.98L395.85,864.85L395.95,863.72L396.00,863.15L396.05,862.58L396.15,861.43L396.25,860.28L396.35,859.12L396.45,857.95L396.55,856.78L396.65,855.61L396.75,854.43L396.85,853.24L396.95,852.05L397.00,851.45L397.05,850.85L397.15,849.65L397.25,848.45L397.35,847.24L397.45,846.03L397.55,844.81L397.65,843.59L397.75,842.36L397.85,841.13L397.95,839.90L398.00,839.28L398.05,838.66L398.15,837.42L398.25,836.18L398.35,834.94L398.45,833.69L398.55,832.44L398.65,831.19L398.75,829.93L398.85,828.67L398.95,827.42L399.00,826.78L399.05,826.15L399.15,824.89L399.25,823.63L399.35,822.36L399.45,821.09L399.55,819.82L399.65,818.56L399.75,817.28L399.85,816.01L399.95,814.74L400.00,814.10L400.05,813.47L400.15,812.19L400.25,810.92L400.35,809.65L400.45,808.37L400.55,807.10L400.65,805.82L400.75,804.55L400.85,803.27L400.95,802.00L401.00,801.36L401.05,800.73L401.15,799.46L401.25,798.18L401.35,796.91L401.45,795.64L401.55,794.37L401.65,793.11L401.75,791.84L401.85,790.57L401.95,789.31L402.00,788.68L402.05,788.05L402.15,786.79L402.25,785.53L402.35,784.27L402.45,783.01L402.55,781.76L402.65,780.51L402.75,779.26L402.85,778.01L402.95,776.76L403.00,776.14L403.05,775.52L403.15,774.28L403.25,773.04L403.35,771.80L403.45,770.57L403.55,769.34L403.65,768.11L403.75,766.88L403.85,765.66L403.95,764.44L404.00,763.83L404.05,763.22L404.15,762.01L404.25,760.79L404.35,759.59L404.45,758.38L404.55,757.18L404.65,755.98L404.75,754.78L404.85,753.59L404.95,752.40L405.00,751.81L405.05,751.22L405.15,750.04L405.25,748.86L405.35,747.68L405.45,746.51L405.55,745.34L405.65,744.18L405.75,743.02L405.85,741.86L405.95,740.71L406.00,740.14L406.05,739.56L406.15,738.42L406.25,737.28L406.35,736.14L406.45,735.01L406.55,733.88L406.65,732.75L406.75,731.63L406.85,730.51L406.95,729.40L407.00,728.85L407.05,728.29L407.15,727.19L407.25,726.09L407.35,724.99L407.45,723.90L407.55,722.81L407.65,721.72L407.75,720.65L407.85,719.57L407.95,718.50L408.00,717.96L408.05,717.43L408.15,716.37L408.25,715.31L408.35,714.26L408.45,713.21L408.55,712.16L408.65,711.12L408.75,710.08L408.85,709.05L408.95,708.02L409.00,707.51L409.05,707.00L409.15,705.98L409.25,704.97L409.35,703.96L409.45,702.95L409.55,701.95L409.65,700.95L409.75,699.96L409.85,698.97L409.95,697.99L410.00,697.50L410.05,697.01L410.15,696.04L410.25,695.06L410.35,694.10L410.45,693.14L410.55,692.18L410.65,691.23L410.75,690.28L410.85,689.34L410.95,688.40L411.00,687.93L411.05,687.46L411.15,686.53L411.25,685.60L411.35,684.68L411.45,683.77L411.55,682.85L411.65,681.94L411.75,681.04L411.85,680.14L411.95,679.24L412.00,678.80L412.05,678.35L412.15,677.47L412.25,676.58L412.35,675.71L412.45,674.83L412.55,673.96L412.65,673.10L412.75,672.24L412.85,671.38L412.95,670.53L413.00,670.10L413.05,669.68L413.15,668.84L413.25,668.00L413.35,667.16L413.45,666.33L413.55,665.50L413.65,664.68L413.75,663.86L413.85,663.05L413.95,662.24L414.00,661.83L414.05,661.43L414.15,660.63L414.25,659.83L414.35,659.04L414.45,658.25L414.55,657.46L414.65,656.68L414.75,655.90L414.85,655.13L414.95,654.36L415.00,653.97L415.05,653.59L415.15,652.83L415.25,652.07L415.35,651.32L415.45,650.57L415.55,649.82L415.65,649.08L415.75,648.34L415.85,647.61L415.95,646.88L416.00,646.51L416.05,646.15L416.15,645.43L416.25,644.71L416.35,644.00L416.45,643.28L416.55,642.58L416.65,641.87L416.75,641.17L416.85,640.48L416.95,639.78L417.00,639.44L417.05,639.09L417.15,638.41L417.25,637.73L417.35,637.05L417.45,636.38L417.55,635.70L417.65,635.04L417.75,634.37L417.85,633.71L417.95,633.06L418.00,632.73L418.05,632.40L418.15,631.75L418.25,631.11L418.35,630.47L418.45,629.83L418.55,629.19L418.65,628.56L418.75,627.93L418.85,627.30L418.95,626.68L419.00,626.37L419.05,626.06L419.15,625.45L419.25,624.83L419.35,624.23L419.45,623.62L419.55,623.02L419.65,622.42L419.75,621.82L419.85,621.23L419.95,620.64L420.00,620.35L420.05,620.05L420.15,619.47L420.25,618.89L420.35,618.31L420.45,617.74L420.55,617.17L420.65,616.60L420.75,616.04L420.85,615.47L420.95,614.92L421.00,614.64L421.05,614.36L421.15,613.81L421.25,613.26L421.35,612.71L421.45,612.17L421.55,611.63L421.65,611.09L421.75,610.56L421.85,610.02L421.95,609.49L422.00,609.23L422.05,608.97L422.15,608.44L422.25,607.92L422.35,607.41L422.45,606.89L422.55,606.38L422.65,605.87L422.75,605.36L422.85,604.86L422.95,604.36L423.00,604.11L423.05,603.86L423.15,603.36L423.25,602.87L423.35,602.38L423.45,601.89L423.55,601.40L423.65,600.92L423.75,600.44L423.85,599.96L423.95,599.49L424.00,599.25L424.05,599.02L424.15,598.55L424.25,598.08L424.35,597.61L424.45,597.15L424.55,596.69L424.65,596.23L424.75,595.78L424.85,595.32L424.95,594.87L425.00,594.65L425.05,594.43L425.15,593.98L425.25,593.54L425.35,593.10L425.45,592.66L425.55,592.22L425.65,591.79L425.75,591.36L425.85,590.93L425.95,590.50L426.00,590.29L426.05,590.08L426.15,589.65L426.25,589.23L426.35,588.82L426.45,588.40L426.55,587.99L426.65,587.57L426.75,587.17L427.00,586.15L428.00,582.23L429.00,578.50L430.00,574.97L431.00,571.61L432.00,568.42L433.00,565.39L434.00,562.51L435.00,559.76L436.00,557.15L437.00,554.66L438.00,552.29L439.00,550.03L440.00,547.88L441.00,545.82L442.00,543.86L443.00,541.98L444.00,540.18L445.00,538.47L446.00,536.83L447.00,535.25L448.00,533.75L449.00,532.31L450.00,530.92L451.00,529.60L452.00,528.33L453.00,527.10L454.00,525.93L455.00,524.80L456.00,523.72L457.00,522.68L458.00,521.67L459.00,520.71L460.00,519.78L461.00,518.88L462.00,518.02L463.00,517.19L464.00,516.38L465.00,515.61L466.00,514.86L467.00,514.14L468.00,513.44L469.00,512.77L470.00,512.12L471.00,511.49L472.00,510.88L473.00,510.29L474.00,509.72L475.00,509.16L476.00,508.63L477.00,508.11L478.00,507.61L479.00,507.12L480.00,506.65L481.00,506.19L482.00,505.74L483.00,505.31L484.00,504.89L485.00,504.49L486.00,504.09L487.00,503.71L488.00,503.33L489.00,502.97L490.00,502.62L491.00,502.28L492.00,501.94L493.00,501.62L494.00,501.30L495.00,500.99L496.00,500.69L497.00,500.40L498.00,500.12L499.00,499.84L500.00,499.57L501.00,499.31L502.00,499.05L503.00,498.80L504.00,498.56L505.00,498.32L506.00,498.08L507.00,497.86L508.00,497.64L509.00,497.42L510.00,497.21L511.00,497.00L512.00,496.80L513.00,496.60L514.00,496.41L515.00,496.22L516.00,496.04L517.00,495.86L518.00,495.68L519.00,495.51L520.00,495.34L521.00,495.18L522.00,495.02L523.00,494.86L524.00,494.71L525.00,494.55L526.00,494.41L527.00,494.26L528.00,494.12L529.00,493.98L530.00,493.85L531.00,493.71L532.00,493.58L533.00,493.45L534.00,493.33L535.00,493.20L536.00,493.08L537.00,492.97L538.00,492.85L539.00,492.74L540.00,492.62L541.00,492.52L542.00,492.41L543.00,492.30L544.00,492.20L545.00,492.10L546.00,492.00L547.00,491.90L548.00,491.80L549.00,491.71L550.00,491.62L551.00,491.53L552.00,491.44L553.00,491.35L554.00,491.26L555.00,491.18L556.00,491.09L557.00,491.01L558.00,490.93L559.00,490.85L560.00,490.78L561.00,490.70L562.00,490.62L563.00,490.55L564.00,490.48L565.00,490.41L566.00,490.34L567.00,490.27L568.00,490.20L569.00,490.13L570.00,490.07L571.00,490.00L572.00,489.94L573.00,489.87L574.00,489.81L575.00,489.75L576.00,489.69L577.00,489.63L578.00,489.57L579.00,489.52L580.00,489.46L581.00,489.41L582.00,489.35L583.00,489.30L584.00,489.24L585.00,489.19L586.00,489.14L587.00,489.09L588.00,489.04L589.00,488.99L590.00,488.94L591.00,488.89L592.00,488.85L593.00,488.80L594.00,488.76L595.00,488.71L596.00,488.67L597.00,488.62L598.00,488.58L599.00,488.54L600.00,488.49L601.00,488.45L602.00,488.41L603.00,488.37L604.00,488.33L605.00,488.29L606.00,488.25L607.00,488.22L608.00,488.18L609.00,488.14L610.00,488.10L611.00,488.07L612.00,488.03L613.00,488.00L614.00,487.96L615.00,487.93L616.00,487.89L617.00,487.86L618.00,487.83L619.00,487.79L620.00,487.76L621.00,487.73L622.00,487.70L623.00,487.67L624.00,487.64L625.00,487.61L626.00,487.58L627.00,487.55L628.00,487.52L629.00,487.49L630.00,487.46L631.00,487.43L632.00,487.41L633.00,487.38L634.00,487.35L635.00,487.32L636.00,487.30L637.00,487.27L638.00,487.25L639.00,487.22L640.00,487.20L641.00,487.17L642.00,487.15L643.00,487.12L644.00,487.10L645.00,487.07L646.00,487.05L647.00,487.03L648.00,487.00L649.00,486.98L650.00,486.96L651.00,486.94L652.00,486.92L653.00,486.89L654.00,486.87L655.00,486.85L656.00,486.83L657.00,486.81L658.00,486.79L659.00,486.77L660.00,486.75L661.00,486.73L662.00,486.71L663.00,486.69L664.00,486.67L665.00,486.65L666.00,486.63L667.00,486.61L668.00,486.59L669.00,486.58L670.00,486.56L671.00,486.54L672.00,486.52L673.00,486.51L674.00,486.49L675.00,486.47L676.00,486.45L677.00,486.44L678.00,486.42L679.00,486.40L680.00,486.39L681.00,486.37L682.00,486.36L683.00,486.34" stroke="#151515" stroke-width="2.7" stroke-dasharray="2.0 4.6" stroke-linecap="round"/>
<path d="M90.00,490.67L91.00,490.21L92.00,489.76L93.00,489.33L94.00,488.91L95.00,488.51L96.00,488.12L97.00,487.75L98.00,487.40L99.00,487.06L100.00,486.74L101.00,486.43L102.00,486.14L103.00,485.86L104.00,485.60L105.00,485.36L106.00,485.13L107.00,484.92L108.00,484.72L109.00,484.55L110.00,484.38L111.00,484.24L112.00,484.11L113.00,484.00L114.00,484.00L115.00,484.00L116.00,484.00L117.00,484.00L118.00,484.00L119.00,484.00L120.00,484.00L121.00,484.00L122.00,484.00L123.00,484.00L124.00,484.00L125.00,484.00L126.00,484.07L127.00,484.20L128.00,484.34L129.00,484.50L130.00,484.68L131.00,484.88L132.00,485.10L133.00,485.33L134.00,485.58L135.00,485.85L136.00,486.13L137.00,486.44L138.00,486.76L139.00,487.10L140.00,487.46L141.00,487.84L142.00,488.23L143.00,488.64L144.00,489.08L145.00,489.53L146.00,490.00L147.00,490.49L148.00,490.99L149.00,491.52L150.00,492.06L151.00,492.63L152.00,493.21L153.00,493.81L154.00,494.43L155.00,495.07L156.00,495.73L157.00,496.41L158.00,497.11L159.00,497.82L160.00,498.56L161.00,499.32L162.00,500.09L163.00,500.89L164.00,501.70L165.00,502.54L166.00,503.39L167.00,504.27L168.00,505.16L169.00,506.08L170.00,507.01L171.00,507.97L172.00,508.94L173.00,509.94L174.00,510.95L175.00,511.99L176.00,513.04L177.00,514.12L178.00,515.22L179.00,516.34L180.00,517.48L181.00,518.64L182.00,519.82L183.00,521.02L184.00,522.24L185.00,523.48L186.00,524.75L187.00,526.03L188.00,527.34L189.00,528.67L190.00,530.02L191.00,531.39L192.00,532.78L193.00,534.19L194.00,535.63L195.00,537.08L196.00,538.56L197.00,540.06L198.00,541.58L199.00,543.13L200.00,544.69L201.00,546.28L202.00,547.89L203.00,549.52L204.00,551.17L205.00,552.85L206.00,554.54L207.00,556.26L208.00,558.00L209.00,559.75L210.00,561.53L211.00,563.33L212.00,565.15L213.00,566.99L214.00,568.85L215.00,570.72L216.00,572.62L217.00,574.54L218.00,576.48L219.00,578.43L220.00,580.41L221.00,582.40L222.00,584.41L223.00,586.44L224.00,588.49L225.00,590.56L226.00,592.64L227.00,594.75L228.00,596.87L229.00,599.00L230.00,601.16L231.00,603.33L232.00,605.52L233.00,607.72L234.00,609.95L235.00,612.19L236.00,614.44L237.00,616.71L238.00,619.00L239.00,621.30L240.00,623.62L241.00,625.96L242.00,628.31L243.00,630.67L244.00,633.05L245.00,635.45L246.00,637.85L247.00,640.28L248.00,642.72L249.00,645.17L250.00,647.64L251.00,650.12L252.00,652.61L253.00,655.12L254.00,657.64L255.00,660.17L256.00,662.72L257.00,665.28L258.00,667.85L259.00,670.44L260.00,673.04L261.00,675.65L262.00,678.27L263.00,680.91L264.00,683.55L265.00,686.21L266.00,688.88L267.00,691.56L268.00,694.25L269.00,696.95L270.00,699.67L271.00,702.39L272.00,705.12L273.00,707.87L274.00,710.62L275.00,713.39L276.00,716.16L277.00,718.93L278.00,721.71L279.00,724.50L280.00,727.28L281.00,730.06L282.00,732.84L283.00,735.62L284.00,738.39L285.00,741.15L286.00,743.90L287.00,746.64L288.00,749.37L289.00,752.09L290.00,754.79L291.00,757.47L292.00,760.13L293.00,762.77L294.00,765.39L295.00,767.99L296.00,770.56L297.00,773.10L298.00,775.62L299.00,778.10L300.00,780.55L301.00,782.97L302.00,785.37L303.00,787.75L304.00,790.11L305.00,792.48L306.00,794.85L307.00,797.23L308.00,799.63L309.00,802.04L310.00,804.47L311.00,806.90L312.00,809.34L313.00,811.79L314.00,814.24L315.00,816.70L316.00,819.16L317.00,821.61L318.00,824.07L319.00,826.51L320.00,828.96L321.00,831.39L322.00,833.82L323.00,836.23L324.00,838.63L325.00,841.02L326.00,843.39L327.00,845.74L328.00,848.07L329.00,850.38L330.00,852.67L331.00,854.93L332.00,857.16L333.00,859.37L334.00,861.54L335.00,863.68L336.00,865.79L337.00,867.86L338.00,869.90L339.00,871.89L340.00,873.86L341.00,875.78L342.00,877.67L343.00,879.52L344.00,881.33L345.00,883.11L346.00,884.85L346.85,886.30L346.95,886.47L347.00,886.55L347.05,886.63L347.15,886.80L347.25,886.97L347.35,887.14L347.45,887.30L347.55,887.47L347.65,887.63L347.75,887.80L347.85,887.97L347.95,888.13L348.00,888.21L348.05,888.29L348.15,888.46L348.25,888.62L348.35,888.79L348.45,888.95L348.55,889.11L348.65,889.27L348.75,889.43L348.85,889.60L348.95,889.76L349.00,889.84L349.05,889.92L349.15,890.08L349.25,890.24L349.35,890.40L349.45,890.56L349.55,890.71L349.65,890.87L349.75,891.03L349.85,891.19L349.95,891.35L350.00,891.42L350.05,891.50L350.15,891.66L350.25,891.82L350.35,891.97L350.45,892.13L350.55,892.28L350.65,892.44L350.75,892.59L350.85,892.74L350.95,892.90L351.00,892.97L351.05,893.05L351.15,893.20L351.25,893.35L351.35,893.51L351.45,893.66L351.55,893.81L351.65,893.96L351.75,894.11L351.85,894.26L351.95,894.41L352.00,894.48L352.05,894.56L352.15,894.71L352.25,894.85L352.35,895.00L352.45,895.15L352.55,895.30L352.65,895.44L352.75,895.59L352.85,895.74L352.95,895.88L353.00,895.95L353.05,896.03L353.15,896.17L353.25,896.32L353.35,896.46L353.45,896.60L353.55,896.75L353.65,896.89L353.75,897.03L353.85,897.17L353.95,897.32L354.00,897.39L354.05,897.46L354.15,897.60L354.25,897.74L354.35,897.88L354.45,898.02L354.55,898.16L354.65,898.30L354.75,898.43L354.85,898.57L354.95,898.71L355.00,898.78L355.05,898.85L355.15,898.99L355.25,899.12L355.35,899.26L355.45,899.39L355.55,899.53L355.65,899.66L355.75,899.80L355.85,899.93L355.95,900.07L356.00,900.13L356.05,900.20L356.15,900.33L356.25,900.47L356.35,900.60L356.45,900.73L356.55,900.86L356.65,900.99L356.75,901.12L356.85,901.25L356.95,901.38L357.00,901.45L357.05,901.51L357.15,901.64L357.25,901.77L357.35,901.90L357.45,902.03L357.55,902.16L357.65,902.28L357.75,902.41L357.85,902.54L357.95,902.66L358.00,902.72L358.05,902.79L358.15,902.91L358.25,903.04L358.35,903.16L358.45,903.29L358.55,903.41L358.65,903.53L358.75,903.65L358.85,903.78L358.95,903.90L359.00,903.96L359.05,904.02L359.15,904.14L359.25,904.26L359.35,904.38L359.45,904.50L359.55,904.62L359.65,904.74L359.75,904.86L359.85,904.98L359.95,905.10L360.00,905.16L360.05,905.21L360.15,905.33L360.25,905.45L360.35,905.56L360.45,905.68L360.55,905.80L360.65,905.91L360.75,906.03L360.85,906.14L360.95,906.25L361.00,906.31L361.05,906.37L361.15,906.48L361.25,906.59L361.35,906.71L361.45,906.82L361.55,906.93L361.65,907.04L361.75,907.15L361.85,907.26L361.95,907.37L362.00,907.43L362.05,907.48L362.15,907.59L362.25,907.70L362.35,907.81L362.45,907.92L362.55,908.02L362.65,908.13L362.75,908.24L362.85,908.34L362.95,908.45L363.00,908.50L363.05,908.56L363.15,908.66L363.25,908.77L363.35,908.87L363.45,908.97L363.55,909.08L363.65,909.18L363.75,909.28L363.85,909.39L363.95,909.49L364.00,909.54L364.05,909.59L364.15,909.69L364.25,909.79L364.35,909.89L364.45,909.99L364.55,910.09L364.65,910.19L364.75,910.29L364.85,910.39L364.95,910.48L365.00,910.53L365.05,910.58L365.15,910.68L365.25,910.78L365.35,910.87L365.45,910.97L365.55,911.06L365.65,911.16L365.75,911.25L365.85,911.35L365.95,911.44L366.00,911.49L366.05,911.53L366.15,911.63L366.25,911.72L366.35,911.81L366.45,911.90L366.55,911.99L366.65,912.08L366.75,912.18L366.85,912.27L366.95,912.35L367.00,912.40L367.05,912.44L367.15,912.53L367.25,912.62L367.35,912.71L367.45,912.80L367.55,912.88L367.65,912.97L367.75,913.06L367.85,913.14L367.95,913.23L368.00,913.27L368.05,913.31L368.15,913.40L368.25,913.48L368.35,913.57L368.45,913.65L368.55,913.73L368.65,913.82L368.75,913.90L368.85,913.98L368.95,914.06L369.00,914.10L369.05,914.14L369.15,914.22L369.25,914.30L369.35,914.38L369.45,914.46L369.55,914.54L369.65,914.62L369.75,914.70L369.85,914.78L369.95,914.85L370.00,914.89L370.05,914.93L370.15,915.01L370.25,915.08L370.35,915.16L370.45,915.23L370.55,915.31L370.65,915.38L370.75,915.46L370.85,915.53L370.95,915.60L371.00,915.64L371.05,915.67L371.15,915.75L371.25,915.82L371.35,915.89L371.45,915.96L371.55,916.03L371.65,916.10L371.75,916.17L371.85,916.24L371.95,916.31L372.00,916.34L372.05,916.38L372.15,916.45L372.25,916.51L372.35,916.58L372.45,916.65L372.55,916.71L372.65,916.78L372.75,916.85L372.85,916.91L372.95,916.98L373.00,917.01L373.05,917.04L373.15,917.10L373.25,917.17L373.35,917.23L373.45,917.29L373.55,917.36L373.65,917.42L373.75,917.48L373.85,917.54L373.95,917.60L374.00,917.63L374.05,917.66L374.15,917.72L374.25,917.78L374.35,917.84L374.45,917.90L374.55,917.95L374.65,918.01L374.75,918.07L374.85,918.13L374.95,918.18L375.00,918.21L375.05,918.24L375.15,918.29L375.25,918.35L375.35,918.40L375.45,918.46L375.55,918.51L375.65,918.56L375.75,918.62L375.85,918.67L375.95,918.72L376.00,918.75L376.05,918.77L376.15,918.82L376.25,918.88L376.35,918.93L376.45,918.98L376.55,919.03L376.65,919.07L376.75,919.12L376.85,919.17L376.95,919.22L377.00,919.24L377.05,919.27L377.15,919.31L377.25,919.36L377.35,919.41L377.45,919.45L377.55,919.50L377.65,919.54L377.75,919.59L377.85,919.63L377.95,919.67L378.00,919.69L378.05,919.72L378.15,919.76L378.25,919.80L378.35,919.84L378.45,919.88L378.55,919.93L378.65,919.97L378.75,920.01L378.85,920.05L378.95,920.08L379.00,920.10L379.05,920.12L379.15,920.16L379.25,920.20L379.35,920.24L379.45,920.27L379.55,920.31L379.65,920.35L379.75,920.38L379.85,920.42L379.95,920.45L380.00,920.47L380.05,920.49L380.15,920.52L380.25,920.56L380.35,920.59L380.45,920.62L380.55,920.65L380.65,920.69L380.75,920.72L380.85,920.75L380.95,920.78L381.00,920.79L381.05,920.81L381.15,920.84L381.25,920.87L381.35,920.90L381.45,920.93L381.55,920.95L381.65,920.98L381.75,921.01L381.85,921.03L381.95,921.06L382.00,921.07L382.05,921.09L382.15,921.11L382.25,921.14L382.35,921.16L382.45,921.19L382.55,921.21L382.65,921.23L382.75,921.26L382.85,921.28L382.95,921.30L383.00,921.31L383.05,921.32L383.15,921.34L383.25,921.36L383.35,921.38L383.45,921.40L383.55,921.42L383.65,921.44L383.75,921.46L383.85,921.48L383.95,921.49L384.00,921.50L384.05,921.51L384.15,921.53L384.25,921.54L384.35,921.56L384.45,921.58L384.55,921.59L384.65,921.61L384.75,921.62L384.85,921.63L384.95,921.65L385.00,921.65L385.05,921.66L385.15,921.67L385.25,921.68L385.35,921.69L385.45,921.71L385.55,921.72L385.65,921.73L385.75,921.74L385.85,921.74L385.95,921.75L386.00,921.76L386.05,921.76L386.15,921.77L386.25,921.78L386.35,921.78L386.45,921.79L386.55,921.80L386.65,921.80L386.75,921.81L386.85,921.81L386.95,921.82L387.00,921.82L387.05,921.82L387.15,921.82L387.25,921.83L387.35,921.83L387.45,921.83L387.55,921.83L387.65,921.83L387.75,921.84L387.85,921.84L387.95,921.84L388.00,921.84L388.05,921.83L388.15,921.83L388.25,921.83L388.35,921.83L388.45,921.83L388.55,921.83L388.65,921.82L388.75,921.82L388.85,921.81L388.95,921.81L389.00,921.81L389.05,921.81L389.15,921.80L389.25,921.79L389.35,921.79L389.45,921.78L389.55,921.77L389.65,921.77L389.75,921.76L389.85,921.75L389.95,921.74L390.00,921.74L390.05,921.73L390.15,921.72L390.25,921.71L390.35,921.70L390.45,921.69L390.55,921.68L390.65,921.66L390.75,921.65L390.85,921.64L390.95,921.63L391.00,921.62L391.05,921.61L391.15,921.60L391.25,921.58L391.35,921.57L391.45,921.55L391.55,921.54L391.65,921.52L391.75,921.50L391.85,921.48L391.95,921.47L392.00,921.46L392.05,921.45L392.15,921.43L392.25,921.41L392.35,921.39L392.45,921.37L392.55,921.35L392.65,921.33L392.75,921.31L392.85,921.28L392.95,921.26L393.00,921.25L393.05,921.24L393.15,921.21L393.25,921.19L393.35,921.17L393.45,921.14L393.55,921.12L393.65,921.09L393.75,921.06L393.85,921.04L393.95,921.01L394.00,921.00L394.05,920.98L394.15,920.96L394.25,920.93L394.35,920.90L394.45,920.87L394.55,920.84L394.65,920.81L394.75,920.78L394.85,920.75L394.95,920.72L395.00,920.70L395.05,920.68L395.15,920.65L395.25,920.62L395.35,920.59L395.45,920.55L395.55,920.52L395.65,920.48L395.75,920.45L395.85,920.41L395.95,920.38L396.00,920.36L396.05,920.34L396.15,920.30L396.25,920.26L396.35,920.23L396.45,920.19L396.55,920.15L396.65,920.11L396.75,920.07L396.85,920.03L396.95,919.99L397.00,919.97L397.05,919.95L397.15,919.91L397.25,919.87L397.35,919.82L397.45,919.78L397.55,919.74L397.65,919.69L397.75,919.65L397.85,919.60L397.95,919.56L398.00,919.54L398.05,919.51L398.15,919.47L398.25,919.42L398.35,919.37L398.45,919.33L398.55,919.28L398.65,919.23L398.75,919.18L398.85,919.13L398.95,919.08L399.00,919.06L399.05,919.03L399.15,918.98L399.25,918.93L399.35,918.88L399.45,918.83L399.55,918.78L399.65,918.72L399.75,918.67L399.85,918.62L399.95,918.56L400.00,918.54L400.05,918.51L400.15,918.45L400.25,918.40L400.35,918.34L400.45,918.29L400.55,918.23L400.65,918.17L400.75,918.12L400.85,918.06L400.95,918.00L401.00,917.97L401.05,917.94L401.15,917.88L401.25,917.82L401.35,917.76L401.45,917.70L401.55,917.64L401.65,917.58L401.75,917.52L401.85,917.45L401.95,917.39L402.00,917.36L402.05,917.33L402.15,917.26L402.25,917.20L402.35,917.13L402.45,917.07L402.55,917.00L402.65,916.94L402.75,916.87L402.85,916.81L402.95,916.74L403.00,916.70L403.05,916.67L403.15,916.60L403.25,916.53L403.35,916.46L403.45,916.40L403.55,916.33L403.65,916.25L403.75,916.18L403.85,916.11L403.95,916.04L404.00,916.01L404.05,915.97L404.15,915.90L404.25,915.82L404.35,915.75L404.45,915.68L404.55,915.60L404.65,915.53L404.75,915.45L404.85,915.38L404.95,915.30L405.00,915.26L405.05,915.22L405.15,915.15L405.25,915.07L405.35,914.99L405.45,914.91L405.55,914.84L405.65,914.76L405.75,914.68L405.85,914.60L405.95,914.52L406.00,914.48L406.05,914.44L406.15,914.35L406.25,914.27L406.35,914.19L406.45,914.11L406.55,914.03L406.65,913.94L406.75,913.86L406.85,913.77L406.95,913.69L407.00,913.65L407.05,913.60L407.15,913.52L407.25,913.43L407.35,913.35L407.45,913.26L407.55,913.17L407.65,913.08L407.75,913.00L407.85,912.91L407.95,912.82L408.00,912.77L408.05,912.73L408.15,912.64L408.25,912.55L408.35,912.46L408.45,912.37L408.55,912.28L408.65,912.18L408.75,912.09L408.85,912.00L408.95,911.91L409.00,911.86L409.05,911.81L409.15,911.72L409.25,911.62L409.35,911.53L409.45,911.43L409.55,911.34L409.65,911.24L409.75,911.14L409.85,911.05L409.95,910.95L410.00,910.90L410.05,910.85L410.15,910.75L410.25,910.65L410.35,910.55L410.45,910.45L410.55,910.35L410.65,910.25L410.75,910.15L410.85,910.05L410.95,909.95L411.00,909.90L411.05,909.85L411.15,909.74L411.25,909.64L411.35,909.54L411.45,909.43L411.55,909.33L411.65,909.23L411.75,909.12L411.85,909.01L411.95,908.91L412.00,908.86L412.05,908.80L412.15,908.69L412.25,908.59L412.35,908.48L412.45,908.37L412.55,908.26L412.65,908.15L412.75,908.04L412.85,907.93L412.95,907.82L413.00,907.77L413.05,907.71L413.15,907.60L413.25,907.49L413.35,907.38L413.45,907.27L413.55,907.15L413.65,907.04L413.75,906.93L413.85,906.81L413.95,906.70L414.00,906.64L414.05,906.58L414.15,906.47L414.25,906.35L414.35,906.24L414.45,906.12L414.55,906.00L414.65,905.88L414.75,905.77L414.85,905.65L414.95,905.53L415.00,905.47L415.05,905.41L415.15,905.29L415.25,905.17L415.35,905.05L415.45,904.93L415.55,904.81L415.65,904.69L415.75,904.57L415.85,904.44L415.95,904.32L416.00,904.26L416.05,904.20L416.15,904.07L416.25,903.95L416.35,903.82L416.45,903.70L416.55,903.57L416.65,903.45L416.75,903.32L416.85,903.20L416.95,903.07L417.00,903.00L417.05,902.94L417.15,902.81L417.25,902.68L417.35,902.56L417.45,902.43L417.55,902.30L417.65,902.17L417.75,902.04L417.85,901.91L417.95,901.78L418.00,901.71L418.05,901.64L418.15,901.51L418.25,901.38L418.35,901.25L418.45,901.11L418.55,900.98L418.65,900.85L418.75,900.71L418.85,900.58L418.95,900.44L419.00,900.37L419.05,900.31L419.15,900.17L419.25,900.03L419.35,899.90L419.45,899.76L419.55,899.62L419.65,899.48L419.75,899.34L419.85,899.21L419.95,899.07L420.00,899.00L420.05,898.93L420.15,898.79L420.25,898.65L420.35,898.50L420.45,898.36L420.55,898.22L420.65,898.08L420.75,897.94L420.85,897.79L420.95,897.65L421.00,897.58L421.05,897.51L421.15,897.36L421.25,897.22L421.35,897.07L421.45,896.93L421.55,896.78L421.65,896.63L421.75,896.49L421.85,896.34L421.95,896.19L422.00,896.12L422.05,896.04L422.15,895.90L422.25,895.75L422.35,895.60L422.45,895.45L422.55,895.30L422.65,895.15L422.75,895.00L422.85,894.85L422.95,894.69L423.00,894.62L423.05,894.54L423.15,894.39L423.25,894.24L423.35,894.08L423.45,893.93L423.55,893.78L423.65,893.62L423.75,893.47L423.85,893.31L423.95,893.16L424.00,893.08L424.05,893.00L424.15,892.84L424.25,892.69L424.35,892.53L424.45,892.37L424.55,892.21L424.65,892.06L424.75,891.90L424.85,891.74L424.95,891.58L425.00,891.50L425.05,891.42L425.15,891.26L425.25,891.10L425.35,890.94L425.45,890.77L425.55,890.61L425.65,890.45L425.75,890.29L425.85,890.12L425.95,889.96L426.00,889.88L426.05,889.80L426.15,889.63L426.25,889.47L426.35,889.30L426.45,889.14L426.55,888.97L426.65,888.80L426.75,888.64L427.00,888.22L428.00,886.52L429.00,884.78L430.00,883.00L431.00,881.18L432.00,879.32L433.00,877.43L434.00,875.49L435.00,873.52L436.00,871.51L437.00,869.46L438.00,867.37L439.00,865.25L440.00,863.09L441.00,860.88L442.00,858.65L443.00,856.37L444.00,854.05L445.00,851.68L446.00,849.26L447.00,846.79L448.00,844.26L449.00,841.66L450.00,838.99L451.00,836.26L452.00,833.45L453.00,830.55L454.00,827.58L455.00,824.51L456.00,821.36L457.00,818.13L458.00,814.82L459.00,811.44L460.00,808.01L461.00,804.52L462.00,800.98L463.00,797.41L464.00,793.80L465.00,790.17L466.00,786.52L467.00,782.87L468.00,779.20L469.00,775.55L470.00,771.90L471.00,768.27L472.00,764.67L473.00,761.10L474.00,757.57L475.00,754.07L476.00,750.61L477.00,747.18L478.00,743.78L479.00,740.40L480.00,737.05L481.00,733.72L482.00,730.41L483.00,727.12L484.00,723.84L485.00,720.57L486.00,717.31L487.00,714.05L488.00,710.80L489.00,707.55L490.00,704.29L491.00,701.04L492.00,697.79L493.00,694.54L494.00,691.29L495.00,688.05L496.00,684.82L497.00,681.59L498.00,678.38L499.00,675.18L500.00,671.99L501.00,668.82L502.00,665.66L503.00,662.52L504.00,659.40L505.00,656.31L506.00,653.23L507.00,650.18L508.00,647.16L509.00,644.17L510.00,641.20L511.00,638.27L512.00,635.36L513.00,632.49L514.00,629.66L515.00,626.86L516.00,624.09L517.00,621.35L518.00,618.64L519.00,615.97L520.00,613.32L521.00,610.71L522.00,608.12L523.00,605.57L524.00,603.04L525.00,600.54L526.00,598.06L527.00,595.62L528.00,593.20L529.00,590.80L530.00,588.43L531.00,586.08L532.00,583.76L533.00,581.46L534.00,579.19L535.00,576.94L536.00,574.71L537.00,572.50L538.00,570.31L539.00,568.14L540.00,565.99L541.00,563.86L542.00,561.75L543.00,559.65L544.00,557.57L545.00,555.49L546.00,553.43L547.00,551.38L548.00,549.35L549.00,547.33L550.00,545.33L551.00,543.35L552.00,541.39L553.00,539.46L554.00,537.55L555.00,535.68L556.00,533.83L557.00,532.02L558.00,530.24L559.00,528.51L560.00,526.81L561.00,525.15L562.00,523.54L563.00,521.96L564.00,520.43L565.00,518.94L566.00,517.49L567.00,516.08L568.00,514.71L569.00,513.37L570.00,512.08L571.00,510.82L572.00,509.60L573.00,508.42L574.00,507.27L575.00,506.16L576.00,505.08L577.00,504.04L578.00,503.04L579.00,502.06L580.00,501.12L581.00,500.22L582.00,499.34L583.00,498.50L584.00,497.69L585.00,496.90L586.00,496.15L587.00,495.43L588.00,494.74L589.00,494.07L590.00,493.44L591.00,492.83L592.00,492.25L593.00,491.69L594.00,491.16L595.00,490.66L596.00,490.18L597.00,489.73L598.00,489.30L599.00,488.89L600.00,488.51L601.00,488.15L602.00,487.81L603.00,487.49L604.00,487.19L605.00,486.92L606.00,486.66L607.00,486.42L608.00,486.21L609.00,486.01L610.00,485.83L611.00,485.66L612.00,485.52L613.00,485.39L614.00,485.28L615.00,485.19L616.00,485.11L617.00,485.05L618.00,485.01L619.00,484.98L620.00,484.97L621.00,484.97L622.00,484.99L623.00,485.03L624.00,485.08L625.00,485.14L626.00,485.22L627.00,485.31L628.00,485.41L629.00,485.53L630.00,485.66L631.00,485.80L632.00,485.96L633.00,486.12L634.00,486.30L635.00,486.49L636.00,486.69L637.00,486.91L638.00,487.13L639.00,487.37L640.00,487.61L641.00,487.86L642.00,488.13L643.00,488.40L644.00,488.68L645.00,488.97L646.00,489.27L647.00,489.58L648.00,489.90L649.00,490.22L650.00,490.55L651.00,490.89L652.00,491.23L653.00,491.58L654.00,491.94L655.00,492.30L656.00,492.67L657.00,493.05L658.00,493.43L659.00,493.81L660.00,494.20L661.00,494.60L662.00,494.99L663.00,495.39L664.00,495.80L665.00,496.21L666.00,496.62L667.00,497.03L668.00,497.45L669.00,497.87L670.00,498.29L671.00,498.71L672.00,499.13L673.00,499.56L674.00,499.98L675.00,500.41L676.00,500.83L677.00,501.26L678.00,501.68L679.00,502.11L680.00,502.53L681.00,502.95L682.00,503.38L683.00,503.79" stroke="#dd1f2c" stroke-width="3"/>
</g>

<!-- frames + ticks -->
<g fill="none" stroke="#151515" stroke-width="2">
<rect x="90" y="13.5" width="593.8" height="438.9"/>
<rect x="90" y="484" width="593.8" height="438.3"/>
<path d="M136.20,452.40v-5.00M136.20,13.50v5.00M182.40,452.40v-9.50M182.40,13.50v9.50M228.60,452.40v-5.00M228.60,13.50v5.00M274.80,452.40v-9.50M274.80,13.50v9.50M321.00,452.40v-5.00M321.00,13.50v5.00M367.20,452.40v-9.50M367.20,13.50v9.50M413.40,452.40v-5.00M413.40,13.50v5.00M459.60,452.40v-9.50M459.60,13.50v9.50M505.80,452.40v-5.00M505.80,13.50v5.00M552.00,452.40v-9.50M552.00,13.50v9.50M598.20,452.40v-5.00M598.20,13.50v5.00M644.40,452.40v-9.50M644.40,13.50v9.50M90.00,408.51h5.00M683.80,408.51h-5.00M90.00,364.62h9.50M683.80,364.62h-9.50M90.00,320.73h5.00M683.80,320.73h-5.00M90.00,276.84h9.50M683.80,276.84h-9.50M90.00,232.95h5.00M683.80,232.95h-5.00M90.00,189.06h9.50M683.80,189.06h-9.50M90.00,145.17h5.00M683.80,145.17h-5.00M90.00,101.28h9.50M683.80,101.28h-9.50M90.00,57.39h5.00M683.80,57.39h-5.00M136.20,922.30v-5.00M136.20,484.00v5.00M182.40,922.30v-9.50M182.40,484.00v9.50M228.60,922.30v-5.00M228.60,484.00v5.00M274.80,922.30v-9.50M274.80,484.00v9.50M321.00,922.30v-5.00M321.00,484.00v5.00M367.20,922.30v-9.50M367.20,484.00v9.50M413.40,922.30v-5.00M413.40,484.00v5.00M459.60,922.30v-9.50M459.60,484.00v9.50M505.80,922.30v-5.00M505.80,484.00v5.00M552.00,922.30v-9.50M552.00,484.00v9.50M598.20,922.30v-5.00M598.20,484.00v5.00M644.40,922.30v-9.50M644.40,484.00v9.50M90.00,878.47h5.00M683.80,878.47h-5.00M90.00,834.64h9.50M683.80,834.64h-9.50M90.00,790.81h5.00M683.80,790.81h-5.00M90.00,746.98h9.50M683.80,746.98h-9.50M90.00,703.15h5.00M683.80,703.15h-5.00M90.00,659.32h9.50M683.80,659.32h-9.50M90.00,615.49h5.00M683.80,615.49h-5.00M90.00,571.66h9.50M683.80,571.66h-9.50M90.00,527.83h5.00M683.80,527.83h-5.00" stroke-width="1.8"/>
</g>

<text transform="translate(87.2,460.0) scale(1,1.08)" class="tl" text-anchor="end">0.0</text><text transform="translate(87.2,372.2) scale(1,1.08)" class="tl" text-anchor="end">0.2</text><text transform="translate(87.2,284.4) scale(1,1.08)" class="tl" text-anchor="end">0.4</text><text transform="translate(87.2,196.7) scale(1,1.08)" class="tl" text-anchor="end">0.6</text><text transform="translate(87.2,108.9) scale(1,1.08)" class="tl" text-anchor="end">0.8</text><text transform="translate(87.2,21.1) scale(1,1.08)" class="tl" text-anchor="end">1.0</text><text transform="translate(87.2,932.4) scale(1,1.08)" class="tl" text-anchor="end">0.0</text><text transform="translate(87.2,844.7) scale(1,1.08)" class="tl" text-anchor="end">0.2</text><text transform="translate(87.2,757.1) scale(1,1.08)" class="tl" text-anchor="end">0.4</text><text transform="translate(87.2,669.4) scale(1,1.08)" class="tl" text-anchor="end">0.6</text><text transform="translate(87.2,581.8) scale(1,1.08)" class="tl" text-anchor="end">0.8</text><text transform="translate(87.2,494.1) scale(1,1.08)" class="tl" text-anchor="end">1.0</text><text transform="translate(183.9,951) scale(1,1.04)" class="tl" text-anchor="middle">0.326</text><text transform="translate(368.7,951) scale(1,1.04)" class="tl" text-anchor="middle">0.328</text><text transform="translate(553.5,951) scale(1,1.04)" class="tl" text-anchor="middle">0.330</text>
<text class="ax" x="394.6" y="986.7" text-anchor="middle">Frequency</text>
<text class="ax" transform="translate(30.7,233.6) rotate(-90)" text-anchor="middle">Transmission |<tspan font-style="italic">t</tspan>|<tspan font-size="22" dy="-14">2</tspan></text>
<text class="ax" transform="translate(30.7,706.3) rotate(-90)" text-anchor="middle">Transmission |<tspan font-style="italic">t</tspan>|<tspan font-size="22" dy="-14">2</tspan></text>
<text class="pl" x="651.5" y="48.7">a</text>
<text class="pl" x="651.5" y="537">b</text>

<line x1="303.40" y1="240.30" x2="356.00" y2="240.30" stroke="#151515" stroke-width="1.60"/><path d="M363.10,240.30L352.10,245.55L355.18,240.30L352.10,235.05Z" fill="#151515"/><line x1="363.10" y1="240.30" x2="374.00" y2="240.30" stroke="#1ba1de" stroke-width="1.60"/><path d="M380.40,240.30L369.20,245.45L371.66,240.30L369.20,235.15Z" fill="#1ba1de"/><line x1="399.00" y1="240.30" x2="409.30" y2="240.30" stroke="#1ba1de" stroke-width="1.60"/><path d="M392.80,240.30L404.00,235.15L401.54,240.30L404.00,245.45Z" fill="#1ba1de"/><line x1="416.00" y1="240.30" x2="442.00" y2="240.30" stroke="#151515" stroke-width="1.60"/><path d="M409.60,240.30L420.60,235.05L417.52,240.30L420.60,245.55Z" fill="#151515"/><line x1="434.60" y1="300.10" x2="396.50" y2="253.60" stroke="#1ba1de" stroke-width="1.50"/><path d="M392.60,249.10L403.70,255.50L398.09,255.77L396.75,261.22Z" fill="#1ba1de"/><line x1="280.80" y1="290.20" x2="351.50" y2="52.00" stroke="#1ba1de" stroke-width="1.50"/><path d="M354.00,45.20L355.98,60.40L350.99,55.26L344.00,56.82Z" fill="#1ba1de"/><line x1="483.40" y1="392.40" x2="396.00" y2="441.90" stroke="#1ba1de" stroke-width="1.50"/><path d="M388.80,445.80L397.73,434.16L397.62,440.82L403.38,444.17Z" fill="#1ba1de"/><text class="gm" transform="translate(334.08,225.9) scale(-1,1)" font-size="29.1" fill="#151515">γ</text><text class="sf" x="329.9" y="234.7" font-size="19.4" fill="#151515">0</text><text class="gm" transform="translate(450.18,305) scale(-1,1)" font-size="29.1" fill="#1ba1de">γ</text><text class="ss" x="446.1" y="313.5" font-size="18" fill="#1ba1de">c</text><text class="gm" transform="translate(482.29,216.1) scale(-1,1)" font-size="52.4" fill="#151515">γ</text><text class="sf" transform="translate(475.1,228.7) scale(1.03,1)" font-size="37.3" fill="#151515">0</text><text class="sf" transform="translate(499.6,215.0) scale(1.0,0.62)" x="0" y="0" font-size="57.5" fill="#151515" stroke="#151515" stroke-width="0.9">≈</text><text class="ss" x="535.9" y="215.6" font-size="44" fill="#1ba1de">5</text><text class="gm" transform="translate(589.02,216.8) scale(-1,1)" font-size="52.1" fill="#1ba1de">γ</text><text class="ss" x="581" y="227.8" font-size="35" fill="#1ba1de">c</text><line x1="279.00" y1="708.40" x2="364.00" y2="708.40" stroke="#dd1f2c" stroke-width="1.60"/><line x1="409.00" y1="708.40" x2="483.00" y2="708.40" stroke="#dd1f2c" stroke-width="1.60"/><path d="M274.00,708.40L285.50,703.15L284.12,708.40L285.50,713.65Z" fill="#dd1f2c"/><path d="M488.60,708.40L477.10,713.65L478.48,708.40L477.10,703.15Z" fill="#dd1f2c"/><line x1="368.00" y1="708.40" x2="404.00" y2="708.40" stroke="#151515" stroke-width="1.60"/><path d="M363.30,708.40L374.80,703.15L373.07,708.40L374.80,713.65Z" fill="#151515"/><path d="M409.40,708.40L397.90,713.65L399.62,708.40L397.90,703.15Z" fill="#151515"/><text class="gm" transform="translate(305.42,692) scale(-1,1)" font-size="29" fill="#dd1f2c">γ</text><text class="ss" x="301.1" y="698.8" font-size="17.8" fill="#dd1f2c">c</text><text class="gm" transform="translate(386.02,692) scale(-1,1)" font-size="29" fill="#151515">γ</text><text class="sf" x="382.2" y="699.8" font-size="18.5" fill="#151515">0</text><line x1="127.90" y1="752.70" x2="122.90" y2="495.00" stroke="#dd1f2c" stroke-width="1.30"/><path d="M122.60,485.60L128.82,496.48L122.76,493.52L116.82,496.72Z" fill="#dd1f2c"/><line x1="480.80" y1="867.70" x2="394.50" y2="917.40" stroke="#dd1f2c" stroke-width="1.30"/><path d="M388.50,920.70L396.85,910.14L396.30,916.22L401.83,918.81Z" fill="#dd1f2c"/><text class="sf" x="516.6" y="691.8" font-size="55" fill="#151515">5</text><text class="gm" transform="translate(572.94,692.6) scale(-1,1)" font-size="53" fill="#151515">γ</text><text class="sf" transform="translate(565.8,704.3) scale(1.08,1)" font-size="36" fill="#151515">0</text><text class="sf" transform="translate(589.9,692.0) scale(1.0,0.643)" x="0" y="0" font-size="57.5" fill="#151515" stroke="#151515" stroke-width="0.9">≈</text><text class="gm" transform="translate(655.34,692.6) scale(-1,1)" font-size="53" fill="#dd1f2c">γ</text><text class="ss" x="647.2" y="704.3" font-size="35.5" fill="#dd1f2c">c</text><line x1="135.60" y1="261.90" x2="135.60" y2="323.50" stroke="#94d4ae" stroke-width="1.30"/><line x1="259.40" y1="261.90" x2="259.40" y2="323.50" stroke="#94d4ae" stroke-width="1.30"/><line x1="141.60" y1="269.60" x2="253.40" y2="269.60" stroke="#0c9a4b" stroke-width="1.90"/><path d="M135.60,269.60L145.10,264.85L142.72,269.60L145.10,274.35Z" fill="#0c9a4b"/><path d="M259.40,269.60L249.90,274.35L252.27,269.60L249.90,264.85Z" fill="#0c9a4b"/><text class="gl" x="199.3" y="258.8" text-anchor="middle" font-size="29"><tspan font-style="italic">d</tspan>=7.47<tspan font-style="italic">a</tspan></text><line x1="513.20" y1="261.00" x2="513.20" y2="323.50" stroke="#94d4ae" stroke-width="1.30"/><line x1="636.40" y1="261.00" x2="636.40" y2="323.50" stroke="#94d4ae" stroke-width="1.30"/><line x1="519.20" y1="268.80" x2="630.40" y2="268.80" stroke="#0c9a4b" stroke-width="1.90"/><path d="M513.20,268.80L522.70,264.05L520.33,268.80L522.70,273.55Z" fill="#0c9a4b"/><path d="M636.40,268.80L626.90,273.55L629.27,268.80L626.90,264.05Z" fill="#0c9a4b"/><text class="gl" x="576.6" y="258.5" text-anchor="middle" font-size="29"><tspan font-style="italic">d</tspan>=7.47<tspan font-style="italic">a</tspan></text><line x1="163.00" y1="735.00" x2="163.00" y2="794.90" stroke="#94d4ae" stroke-width="1.30"/><line x1="231.10" y1="735.00" x2="231.10" y2="794.90" stroke="#94d4ae" stroke-width="1.30"/><line x1="169.00" y1="743.20" x2="225.10" y2="743.20" stroke="#0c9a4b" stroke-width="1.90"/><path d="M163.00,743.20L172.50,738.45L170.12,743.20L172.50,747.95Z" fill="#0c9a4b"/><path d="M231.10,743.20L221.60,747.95L223.97,743.20L221.60,738.45Z" fill="#0c9a4b"/><text class="gl" x="198.4" y="731.8" text-anchor="middle" font-size="29"><tspan font-style="italic">d</tspan>=4.13<tspan font-style="italic">a</tspan></text><line x1="541.00" y1="735.00" x2="541.00" y2="794.90" stroke="#94d4ae" stroke-width="1.30"/><line x1="609.00" y1="735.00" x2="609.00" y2="794.90" stroke="#94d4ae" stroke-width="1.30"/><line x1="547.00" y1="743.20" x2="603.00" y2="743.20" stroke="#0c9a4b" stroke-width="1.90"/><path d="M541.00,743.20L550.50,738.45L548.12,743.20L550.50,747.95Z" fill="#0c9a4b"/><path d="M609.00,743.20L599.50,747.95L601.88,743.20L599.50,738.45Z" fill="#0c9a4b"/><text class="gl" x="575.9" y="731.8" text-anchor="middle" font-size="29"><tspan font-style="italic">d</tspan>=4.13<tspan font-style="italic">a</tspan></text><line x1="100.80" y1="323.50" x2="115.00" y2="323.50" stroke="#1a1a2a" stroke-width="1.90"/><path d="M123.00,323.50L110.00,328.75L113.90,323.50L110.00,318.25Z" fill="#1a1a2a"/><line x1="476.30" y1="323.50" x2="489.60" y2="323.50" stroke="#1a1a2a" stroke-width="1.90"/><path d="M497.60,323.50L484.60,328.75L488.50,323.50L484.60,318.25Z" fill="#1a1a2a"/><line x1="100.80" y1="794.90" x2="115.00" y2="794.90" stroke="#1a1a2a" stroke-width="1.90"/><path d="M123.00,794.90L110.00,800.15L113.90,794.90L110.00,789.65Z" fill="#1a1a2a"/><line x1="476.30" y1="794.90" x2="489.60" y2="794.90" stroke="#1a1a2a" stroke-width="1.90"/><path d="M497.60,794.90L484.60,800.15L488.50,794.90L484.60,789.65Z" fill="#1a1a2a"/><text class="om" transform="translate(198.0,437.0) scale(1.16,1)" text-anchor="middle" font-size="25" fill="#1a84bd"><tspan class="sf" font-size="24.5" stroke="#1a84bd" stroke-width="0.5">ω</tspan>=0.3278</text><text class="om" transform="translate(575.0,437.2) scale(1.16,1)" text-anchor="middle" font-size="25" fill="#1a84bd"><tspan class="sf" font-size="24.5" stroke="#1a84bd" stroke-width="0.5">ω</tspan>=0.32821</text><text class="om" transform="translate(198.8,905.5) scale(1.16,1)" text-anchor="middle" font-size="25" fill="#d9202e"><tspan class="sf" font-size="24.5" stroke="#d9202e" stroke-width="0.5">ω</tspan>=0.32535</text><text class="om" transform="translate(575.0,905.5) scale(1.16,1)" text-anchor="middle" font-size="25" fill="#d9202e"><tspan class="sf" font-size="24.5" stroke="#d9202e" stroke-width="0.5">ω</tspan>=0.32821</text>
</svg>
</body></html>
